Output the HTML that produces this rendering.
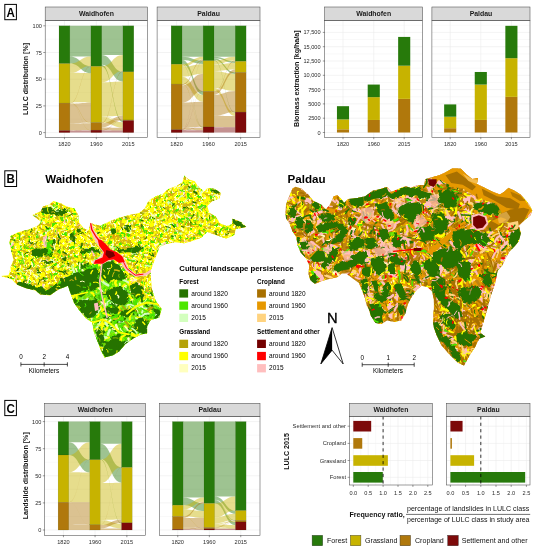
<!DOCTYPE html>
<html lang="en"><head><meta charset="utf-8"><title>Figure</title>
<style>html,body{margin:0;padding:0;background:#fff}svg{display:block}text{font-family:"Liberation Sans", sans-serif}</style>
</head><body>
<svg width="534" height="550" viewBox="0 0 534 550">
<rect width="534" height="550" fill="#ffffff"/>
<rect x="45.20" y="20.60" width="102.40" height="116.70" fill="#ffffff" /><line x1="45.20" y1="119.25" x2="147.60" y2="119.25" stroke="#ebebeb" stroke-width="0.3" /><line x1="45.20" y1="92.55" x2="147.60" y2="92.55" stroke="#ebebeb" stroke-width="0.3" /><line x1="45.20" y1="65.85" x2="147.60" y2="65.85" stroke="#ebebeb" stroke-width="0.3" /><line x1="45.20" y1="39.15" x2="147.60" y2="39.15" stroke="#ebebeb" stroke-width="0.3" /><line x1="45.20" y1="132.60" x2="147.60" y2="132.60" stroke="#ebebeb" stroke-width="0.6" /><line x1="45.20" y1="105.90" x2="147.60" y2="105.90" stroke="#ebebeb" stroke-width="0.6" /><line x1="45.20" y1="79.20" x2="147.60" y2="79.20" stroke="#ebebeb" stroke-width="0.6" /><line x1="45.20" y1="52.50" x2="147.60" y2="52.50" stroke="#ebebeb" stroke-width="0.6" /><line x1="45.20" y1="25.80" x2="147.60" y2="25.80" stroke="#ebebeb" stroke-width="0.6" /><line x1="64.45" y1="20.60" x2="64.45" y2="137.30" stroke="#ebebeb" stroke-width="0.6" /><line x1="96.35" y1="20.60" x2="96.35" y2="137.30" stroke="#ebebeb" stroke-width="0.6" /><line x1="128.35" y1="20.60" x2="128.35" y2="137.30" stroke="#ebebeb" stroke-width="0.6" /><rect x="157.10" y="20.60" width="102.90" height="116.70" fill="#ffffff" /><line x1="157.10" y1="119.25" x2="260.00" y2="119.25" stroke="#ebebeb" stroke-width="0.3" /><line x1="157.10" y1="92.55" x2="260.00" y2="92.55" stroke="#ebebeb" stroke-width="0.3" /><line x1="157.10" y1="65.85" x2="260.00" y2="65.85" stroke="#ebebeb" stroke-width="0.3" /><line x1="157.10" y1="39.15" x2="260.00" y2="39.15" stroke="#ebebeb" stroke-width="0.3" /><line x1="157.10" y1="132.60" x2="260.00" y2="132.60" stroke="#ebebeb" stroke-width="0.6" /><line x1="157.10" y1="105.90" x2="260.00" y2="105.90" stroke="#ebebeb" stroke-width="0.6" /><line x1="157.10" y1="79.20" x2="260.00" y2="79.20" stroke="#ebebeb" stroke-width="0.6" /><line x1="157.10" y1="52.50" x2="260.00" y2="52.50" stroke="#ebebeb" stroke-width="0.6" /><line x1="157.10" y1="25.80" x2="260.00" y2="25.80" stroke="#ebebeb" stroke-width="0.6" /><line x1="176.60" y1="20.60" x2="176.60" y2="137.30" stroke="#ebebeb" stroke-width="0.6" /><line x1="208.55" y1="20.60" x2="208.55" y2="137.30" stroke="#ebebeb" stroke-width="0.6" /><line x1="240.65" y1="20.60" x2="240.65" y2="137.30" stroke="#ebebeb" stroke-width="0.6" /><path d="M69.90,25.80 C80.40,25.80 80.40,25.80 90.90,25.80 L90.90,56.62 C80.40,56.62 80.40,56.62 69.90,56.62 Z" fill="#277a0b" fill-opacity="0.45"/><path d="M69.90,56.62 C80.40,56.62 80.40,66.38 90.90,66.38 L90.90,73.20 C80.40,73.20 80.40,63.44 69.90,63.44 Z" fill="#277a0b" fill-opacity="0.45"/><path d="M69.90,63.44 C80.40,63.44 80.40,122.56 90.90,122.56 L90.90,122.67 C80.40,122.67 80.40,63.55 69.90,63.55 Z" fill="#277a0b" fill-opacity="0.45"/><path d="M69.90,63.55 C80.40,63.55 80.40,130.14 90.90,130.14 L90.90,130.20 C80.40,130.20 80.40,63.61 69.90,63.61 Z" fill="#277a0b" fill-opacity="0.45"/><path d="M69.90,63.61 C80.40,63.61 80.40,56.62 90.90,56.62 L90.90,65.88 C80.40,65.88 80.40,72.86 69.90,72.86 Z" fill="#c7b300" fill-opacity="0.45"/><path d="M69.90,72.86 C80.40,72.86 80.40,73.20 90.90,73.20 L90.90,102.63 C80.40,102.63 80.40,102.30 69.90,102.30 Z" fill="#c7b300" fill-opacity="0.45"/><path d="M69.90,102.30 C80.40,102.30 80.40,122.67 90.90,122.67 L90.90,123.13 C80.40,123.13 80.40,102.76 69.90,102.76 Z" fill="#c7b300" fill-opacity="0.45"/><path d="M69.90,102.76 C80.40,102.76 80.40,130.20 90.90,130.20 L90.90,130.57 C80.40,130.57 80.40,103.12 69.90,103.12 Z" fill="#c7b300" fill-opacity="0.45"/><path d="M69.90,103.12 C80.40,103.12 80.40,65.88 90.90,65.88 L90.90,66.38 C80.40,66.38 80.40,103.63 69.90,103.63 Z" fill="#b0780c" fill-opacity="0.45"/><path d="M69.90,103.63 C80.40,103.63 80.40,102.63 90.90,102.63 L90.90,122.47 C80.40,122.47 80.40,123.47 69.90,123.47 Z" fill="#b0780c" fill-opacity="0.45"/><path d="M69.90,123.47 C80.40,123.47 80.40,123.13 90.90,123.13 L90.90,129.95 C80.40,129.95 80.40,130.29 69.90,130.29 Z" fill="#b0780c" fill-opacity="0.45"/><path d="M69.90,130.29 C80.40,130.29 80.40,130.57 90.90,130.57 L90.90,130.85 C80.40,130.85 80.40,130.57 69.90,130.57 Z" fill="#b0780c" fill-opacity="0.45"/><path d="M69.90,130.57 C80.40,130.57 80.40,122.47 90.90,122.47 L90.90,122.56 C80.40,122.56 80.40,130.66 69.90,130.66 Z" fill="#7d0a0a" fill-opacity="0.45"/><path d="M69.90,130.66 C80.40,130.66 80.40,129.95 90.90,129.95 L90.90,130.14 C80.40,130.14 80.40,130.85 69.90,130.85 Z" fill="#7d0a0a" fill-opacity="0.45"/><path d="M69.90,130.85 C80.40,130.85 80.40,130.85 90.90,130.85 L90.90,132.60 C80.40,132.60 80.40,132.60 69.90,132.60 Z" fill="#7d0a0a" fill-opacity="0.45"/><path d="M101.80,25.80 C112.35,25.80 112.35,25.80 122.90,25.80 L122.90,55.05 C112.35,55.05 112.35,55.05 101.80,55.05 Z" fill="#277a0b" fill-opacity="0.45"/><path d="M101.80,55.05 C112.35,55.05 112.35,71.83 122.90,71.83 L122.90,81.51 C112.35,81.51 112.35,64.73 101.80,64.73 Z" fill="#277a0b" fill-opacity="0.45"/><path d="M101.80,64.73 C112.35,64.73 112.35,120.00 122.90,120.00 L122.90,120.05 C112.35,120.05 112.35,64.79 101.80,64.79 Z" fill="#277a0b" fill-opacity="0.45"/><path d="M101.80,64.79 C112.35,64.79 112.35,120.53 122.90,120.53 L122.90,122.13 C112.35,122.13 112.35,66.38 101.80,66.38 Z" fill="#277a0b" fill-opacity="0.45"/><path d="M101.80,66.38 C112.35,66.38 112.35,55.05 122.90,55.05 L122.90,71.08 C112.35,71.08 112.35,82.41 101.80,82.41 Z" fill="#c7b300" fill-opacity="0.45"/><path d="M101.80,82.41 C112.35,82.41 112.35,81.51 122.90,81.51 L122.90,115.71 C112.35,115.71 112.35,116.62 101.80,116.62 Z" fill="#c7b300" fill-opacity="0.45"/><path d="M101.80,116.62 C112.35,116.62 112.35,120.05 122.90,120.05 L122.90,120.40 C112.35,120.40 112.35,116.96 101.80,116.96 Z" fill="#c7b300" fill-opacity="0.45"/><path d="M101.80,116.96 C112.35,116.96 112.35,122.13 122.90,122.13 L122.90,127.73 C112.35,127.73 112.35,122.56 101.80,122.56 Z" fill="#c7b300" fill-opacity="0.45"/><path d="M101.80,122.56 C112.35,122.56 112.35,71.08 122.90,71.08 L122.90,71.72 C112.35,71.72 112.35,123.20 101.80,123.20 Z" fill="#b0780c" fill-opacity="0.45"/><path d="M101.80,123.20 C112.35,123.20 112.35,115.71 122.90,115.71 L122.90,119.78 C112.35,119.78 112.35,127.27 101.80,127.27 Z" fill="#b0780c" fill-opacity="0.45"/><path d="M101.80,127.27 C112.35,127.27 112.35,120.40 122.90,120.40 L122.90,120.51 C112.35,120.51 112.35,127.39 101.80,127.39 Z" fill="#b0780c" fill-opacity="0.45"/><path d="M101.80,127.39 C112.35,127.39 112.35,127.73 122.90,127.73 L122.90,130.49 C112.35,130.49 112.35,130.14 101.80,130.14 Z" fill="#b0780c" fill-opacity="0.45"/><path d="M101.80,130.14 C112.35,130.14 112.35,71.72 122.90,71.72 L122.90,71.83 C112.35,71.83 112.35,130.25 101.80,130.25 Z" fill="#7d0a0a" fill-opacity="0.45"/><path d="M101.80,130.25 C112.35,130.25 112.35,119.78 122.90,119.78 L122.90,120.00 C112.35,120.00 112.35,130.46 101.80,130.46 Z" fill="#7d0a0a" fill-opacity="0.45"/><path d="M101.80,130.49 C112.35,130.49 112.35,130.49 122.90,130.49 L122.90,132.60 C112.35,132.60 112.35,132.60 101.80,132.60 Z" fill="#7d0a0a" fill-opacity="0.45"/><rect x="59.00" y="25.80" width="10.90" height="37.81" fill="#277a0b" stroke="#1f3d10" stroke-opacity="0.35" stroke-width="0.3"/><rect x="59.00" y="63.61" width="10.90" height="39.52" fill="#c7b300" stroke="#1f3d10" stroke-opacity="0.35" stroke-width="0.3"/><rect x="59.00" y="103.12" width="10.90" height="27.45" fill="#b0780c" stroke="#1f3d10" stroke-opacity="0.35" stroke-width="0.3"/><rect x="59.00" y="130.57" width="10.90" height="2.03" fill="#7d0a0a" stroke="#1f3d10" stroke-opacity="0.35" stroke-width="0.3"/><rect x="90.90" y="25.80" width="10.90" height="40.58" fill="#277a0b" stroke="#1f3d10" stroke-opacity="0.35" stroke-width="0.3"/><rect x="90.90" y="66.38" width="10.90" height="56.18" fill="#c7b300" stroke="#1f3d10" stroke-opacity="0.35" stroke-width="0.3"/><rect x="90.90" y="122.56" width="10.90" height="7.58" fill="#b0780c" stroke="#1f3d10" stroke-opacity="0.35" stroke-width="0.3"/><rect x="90.90" y="130.14" width="10.90" height="2.46" fill="#7d0a0a" stroke="#1f3d10" stroke-opacity="0.35" stroke-width="0.3"/><rect x="122.90" y="25.80" width="10.90" height="46.03" fill="#277a0b" stroke="#1f3d10" stroke-opacity="0.35" stroke-width="0.3"/><rect x="122.90" y="71.83" width="10.90" height="48.17" fill="#c7b300" stroke="#1f3d10" stroke-opacity="0.35" stroke-width="0.3"/><rect x="122.90" y="120.00" width="10.90" height="0.53" fill="#b0780c" stroke="#1f3d10" stroke-opacity="0.35" stroke-width="0.3"/><rect x="122.90" y="120.53" width="10.90" height="12.07" fill="#7d0a0a" stroke="#1f3d10" stroke-opacity="0.35" stroke-width="0.3"/><path d="M182.05,25.80 C192.57,25.80 192.57,25.80 203.10,25.80 L203.10,56.84 C192.57,56.84 192.57,56.84 182.05,56.84 Z" fill="#277a0b" fill-opacity="0.45"/><path d="M182.05,56.84 C192.57,56.84 192.57,60.72 203.10,60.72 L203.10,63.94 C192.57,63.94 192.57,60.06 182.05,60.06 Z" fill="#277a0b" fill-opacity="0.45"/><path d="M182.05,60.06 C192.57,60.06 192.57,91.27 203.10,91.27 L203.10,94.93 C192.57,94.93 192.57,63.72 182.05,63.72 Z" fill="#277a0b" fill-opacity="0.45"/><path d="M182.05,63.72 C192.57,63.72 192.57,126.94 203.10,126.94 L203.10,127.47 C192.57,127.47 192.57,64.25 182.05,64.25 Z" fill="#277a0b" fill-opacity="0.45"/><path d="M182.05,64.25 C192.57,64.25 192.57,56.84 203.10,56.84 L203.10,59.53 C192.57,59.53 192.57,66.94 182.05,66.94 Z" fill="#c7b300" fill-opacity="0.45"/><path d="M182.05,66.94 C192.57,66.94 192.57,63.94 203.10,63.94 L203.10,73.64 C192.57,73.64 192.57,76.64 182.05,76.64 Z" fill="#c7b300" fill-opacity="0.45"/><path d="M182.05,76.64 C192.57,76.64 192.57,94.93 203.10,94.93 L203.10,101.77 C192.57,101.77 192.57,83.48 182.05,83.48 Z" fill="#c7b300" fill-opacity="0.45"/><path d="M182.05,83.48 C192.57,83.48 192.57,127.47 203.10,127.47 L203.10,128.11 C192.57,128.11 192.57,84.11 182.05,84.11 Z" fill="#c7b300" fill-opacity="0.45"/><path d="M182.05,84.11 C192.57,84.11 192.57,59.53 203.10,59.53 L203.10,60.62 C192.57,60.62 192.57,85.20 182.05,85.20 Z" fill="#b0780c" fill-opacity="0.45"/><path d="M182.05,85.20 C192.57,85.20 192.57,73.64 203.10,73.64 L203.10,91.05 C192.57,91.05 192.57,102.61 182.05,102.61 Z" fill="#b0780c" fill-opacity="0.45"/><path d="M182.05,102.61 C192.57,102.61 192.57,101.77 203.10,101.77 L203.10,126.73 C192.57,126.73 192.57,127.57 182.05,127.57 Z" fill="#b0780c" fill-opacity="0.45"/><path d="M182.05,127.57 C192.57,127.57 192.57,128.11 203.10,128.11 L203.10,130.25 C192.57,130.25 192.57,129.72 182.05,129.72 Z" fill="#b0780c" fill-opacity="0.45"/><path d="M182.05,129.72 C192.57,129.72 192.57,60.62 203.10,60.62 L203.10,60.72 C192.57,60.72 192.57,129.82 182.05,129.82 Z" fill="#7d0a0a" fill-opacity="0.45"/><path d="M182.05,129.82 C192.57,129.82 192.57,91.05 203.10,91.05 L203.10,91.27 C192.57,91.27 192.57,130.04 182.05,130.04 Z" fill="#7d0a0a" fill-opacity="0.45"/><path d="M182.05,130.04 C192.57,130.04 192.57,126.73 203.10,126.73 L203.10,126.94 C192.57,126.94 192.57,130.25 182.05,130.25 Z" fill="#7d0a0a" fill-opacity="0.45"/><path d="M182.05,130.25 C192.57,130.25 192.57,130.25 203.10,130.25 L203.10,132.60 C192.57,132.60 192.57,132.60 182.05,132.60 Z" fill="#7d0a0a" fill-opacity="0.45"/><path d="M214.00,25.80 C224.60,25.80 224.60,25.80 235.20,25.80 L235.20,56.73 C224.60,56.73 224.60,56.73 214.00,56.73 Z" fill="#277a0b" fill-opacity="0.45"/><path d="M214.00,56.73 C224.60,56.73 224.60,61.36 235.20,61.36 L235.20,63.00 C224.60,63.00 224.60,58.37 214.00,58.37 Z" fill="#277a0b" fill-opacity="0.45"/><path d="M214.00,58.37 C224.60,58.37 224.60,72.36 235.20,72.36 L235.20,73.97 C224.60,73.97 224.60,59.97 214.00,59.97 Z" fill="#277a0b" fill-opacity="0.45"/><path d="M214.00,59.97 C224.60,59.97 224.60,112.09 235.20,112.09 L235.20,112.85 C224.60,112.85 224.60,60.72 214.00,60.72 Z" fill="#277a0b" fill-opacity="0.45"/><path d="M214.00,60.72 C224.60,60.72 224.60,56.73 235.20,56.73 L235.20,60.46 C224.60,60.46 224.60,64.45 214.00,64.45 Z" fill="#c7b300" fill-opacity="0.45"/><path d="M214.00,64.45 C224.60,64.45 224.60,63.00 235.20,63.00 L235.20,69.53 C224.60,69.53 224.60,70.98 214.00,70.98 Z" fill="#c7b300" fill-opacity="0.45"/><path d="M214.00,70.98 C224.60,70.98 224.60,73.97 235.20,73.97 L235.20,91.04 C224.60,91.04 224.60,88.06 214.00,88.06 Z" fill="#c7b300" fill-opacity="0.45"/><path d="M214.00,88.06 C224.60,88.06 224.60,112.85 235.20,112.85 L235.20,116.06 C224.60,116.06 224.60,91.27 214.00,91.27 Z" fill="#c7b300" fill-opacity="0.45"/><path d="M214.00,91.27 C224.60,91.27 224.60,60.46 235.20,60.46 L235.20,61.31 C224.60,61.31 224.60,92.12 214.00,92.12 Z" fill="#b0780c" fill-opacity="0.45"/><path d="M214.00,92.12 C224.60,92.12 224.60,69.53 235.20,69.53 L235.20,72.26 C224.60,72.26 224.60,94.85 214.00,94.85 Z" fill="#b0780c" fill-opacity="0.45"/><path d="M214.00,94.85 C224.60,94.85 224.60,91.04 235.20,91.04 L235.20,111.88 C224.60,111.88 224.60,115.69 214.00,115.69 Z" fill="#b0780c" fill-opacity="0.45"/><path d="M214.00,115.69 C224.60,115.69 224.60,116.06 235.20,116.06 L235.20,127.31 C224.60,127.31 224.60,126.94 214.00,126.94 Z" fill="#b0780c" fill-opacity="0.45"/><path d="M214.00,126.99 C224.60,126.99 224.60,72.26 235.20,72.26 L235.20,72.36 C224.60,72.36 224.60,127.10 214.00,127.10 Z" fill="#7d0a0a" fill-opacity="0.45"/><path d="M214.00,127.10 C224.60,127.10 224.60,111.88 235.20,111.88 L235.20,112.09 C224.60,112.09 224.60,127.31 214.00,127.31 Z" fill="#7d0a0a" fill-opacity="0.45"/><path d="M214.00,127.31 C224.60,127.31 224.60,127.31 235.20,127.31 L235.20,132.60 C224.60,132.60 224.60,132.60 214.00,132.60 Z" fill="#7d0a0a" fill-opacity="0.45"/><rect x="171.15" y="25.80" width="10.90" height="38.45" fill="#277a0b" stroke="#1f3d10" stroke-opacity="0.35" stroke-width="0.3"/><rect x="171.15" y="64.25" width="10.90" height="19.86" fill="#c7b300" stroke="#1f3d10" stroke-opacity="0.35" stroke-width="0.3"/><rect x="171.15" y="84.11" width="10.90" height="45.60" fill="#b0780c" stroke="#1f3d10" stroke-opacity="0.35" stroke-width="0.3"/><rect x="171.15" y="129.72" width="10.90" height="2.88" fill="#7d0a0a" stroke="#1f3d10" stroke-opacity="0.35" stroke-width="0.3"/><rect x="203.10" y="25.80" width="10.90" height="34.92" fill="#277a0b" stroke="#1f3d10" stroke-opacity="0.35" stroke-width="0.3"/><rect x="203.10" y="60.72" width="10.90" height="30.54" fill="#c7b300" stroke="#1f3d10" stroke-opacity="0.35" stroke-width="0.3"/><rect x="203.10" y="91.27" width="10.90" height="35.67" fill="#b0780c" stroke="#1f3d10" stroke-opacity="0.35" stroke-width="0.3"/><rect x="203.10" y="126.94" width="10.90" height="5.66" fill="#7d0a0a" stroke="#1f3d10" stroke-opacity="0.35" stroke-width="0.3"/><rect x="235.20" y="25.80" width="10.90" height="35.56" fill="#277a0b" stroke="#1f3d10" stroke-opacity="0.35" stroke-width="0.3"/><rect x="235.20" y="61.36" width="10.90" height="11.00" fill="#c7b300" stroke="#1f3d10" stroke-opacity="0.35" stroke-width="0.3"/><rect x="235.20" y="72.36" width="10.90" height="39.73" fill="#b0780c" stroke="#1f3d10" stroke-opacity="0.35" stroke-width="0.3"/><rect x="235.20" y="112.09" width="10.90" height="20.51" fill="#7d0a0a" stroke="#1f3d10" stroke-opacity="0.35" stroke-width="0.3"/><rect x="45.20" y="7.00" width="102.40" height="13.60" fill="#d9d9d9" stroke="#4d4d4d" stroke-width="0.55"/><rect x="45.20" y="20.60" width="102.40" height="116.70" fill="none" stroke="#4d4d4d" stroke-width="0.55"/><text x="96.40" y="16.30" font-size="6.9" text-anchor="middle" font-weight="bold" fill="#1a1a1a" >Waidhofen</text><rect x="157.10" y="7.00" width="102.90" height="13.60" fill="#d9d9d9" stroke="#4d4d4d" stroke-width="0.55"/><rect x="157.10" y="20.60" width="102.90" height="116.70" fill="none" stroke="#4d4d4d" stroke-width="0.55"/><text x="208.55" y="16.30" font-size="6.9" text-anchor="middle" font-weight="bold" fill="#1a1a1a" >Paldau</text><line x1="64.45" y1="137.30" x2="64.45" y2="139.20" stroke="#333333" stroke-width="0.5" /><text x="64.45" y="145.70" font-size="5.6" text-anchor="middle" font-weight="normal" fill="#2b2b2b" >1820</text><line x1="96.35" y1="137.30" x2="96.35" y2="139.20" stroke="#333333" stroke-width="0.5" /><text x="96.35" y="145.70" font-size="5.6" text-anchor="middle" font-weight="normal" fill="#2b2b2b" >1960</text><line x1="128.35" y1="137.30" x2="128.35" y2="139.20" stroke="#333333" stroke-width="0.5" /><text x="128.35" y="145.70" font-size="5.6" text-anchor="middle" font-weight="normal" fill="#2b2b2b" >2015</text><line x1="176.60" y1="137.30" x2="176.60" y2="139.20" stroke="#333333" stroke-width="0.5" /><text x="176.60" y="145.70" font-size="5.6" text-anchor="middle" font-weight="normal" fill="#2b2b2b" >1820</text><line x1="208.55" y1="137.30" x2="208.55" y2="139.20" stroke="#333333" stroke-width="0.5" /><text x="208.55" y="145.70" font-size="5.6" text-anchor="middle" font-weight="normal" fill="#2b2b2b" >1960</text><line x1="240.65" y1="137.30" x2="240.65" y2="139.20" stroke="#333333" stroke-width="0.5" /><text x="240.65" y="145.70" font-size="5.6" text-anchor="middle" font-weight="normal" fill="#2b2b2b" >2015</text><line x1="43.30" y1="132.60" x2="45.20" y2="132.60" stroke="#333333" stroke-width="0.5" /><text x="41.90" y="134.60" font-size="5.6" text-anchor="end" font-weight="normal" fill="#2b2b2b" >0</text><line x1="43.30" y1="105.90" x2="45.20" y2="105.90" stroke="#333333" stroke-width="0.5" /><text x="41.90" y="107.90" font-size="5.6" text-anchor="end" font-weight="normal" fill="#2b2b2b" >25</text><line x1="43.30" y1="79.20" x2="45.20" y2="79.20" stroke="#333333" stroke-width="0.5" /><text x="41.90" y="81.20" font-size="5.6" text-anchor="end" font-weight="normal" fill="#2b2b2b" >50</text><line x1="43.30" y1="52.50" x2="45.20" y2="52.50" stroke="#333333" stroke-width="0.5" /><text x="41.90" y="54.50" font-size="5.6" text-anchor="end" font-weight="normal" fill="#2b2b2b" >75</text><line x1="43.30" y1="25.80" x2="45.20" y2="25.80" stroke="#333333" stroke-width="0.5" /><text x="41.90" y="27.80" font-size="5.6" text-anchor="end" font-weight="normal" fill="#2b2b2b" >100</text><text transform="translate(28.40,79.00) rotate(-90)" font-size="7.0" font-weight="bold" text-anchor="middle" fill="#111">LULC distribution [%]</text><rect x="4.80" y="4.40" width="11.60" height="15.30" fill="#ffffff" stroke="#000" stroke-width="1"/><text transform="translate(10.60,16.60) scale(0.93,1)" font-size="12.4" font-weight="bold" text-anchor="middle" fill="#000">A</text><rect x="324.70" y="20.60" width="97.90" height="116.70" fill="#ffffff" /><line x1="324.70" y1="125.35" x2="422.60" y2="125.35" stroke="#ebebeb" stroke-width="0.3" /><line x1="324.70" y1="111.05" x2="422.60" y2="111.05" stroke="#ebebeb" stroke-width="0.3" /><line x1="324.70" y1="96.75" x2="422.60" y2="96.75" stroke="#ebebeb" stroke-width="0.3" /><line x1="324.70" y1="82.45" x2="422.60" y2="82.45" stroke="#ebebeb" stroke-width="0.3" /><line x1="324.70" y1="68.15" x2="422.60" y2="68.15" stroke="#ebebeb" stroke-width="0.3" /><line x1="324.70" y1="53.85" x2="422.60" y2="53.85" stroke="#ebebeb" stroke-width="0.3" /><line x1="324.70" y1="39.55" x2="422.60" y2="39.55" stroke="#ebebeb" stroke-width="0.3" /><line x1="324.70" y1="25.25" x2="422.60" y2="25.25" stroke="#ebebeb" stroke-width="0.3" /><line x1="324.70" y1="132.50" x2="422.60" y2="132.50" stroke="#ebebeb" stroke-width="0.6" /><line x1="324.70" y1="118.20" x2="422.60" y2="118.20" stroke="#ebebeb" stroke-width="0.6" /><line x1="324.70" y1="103.90" x2="422.60" y2="103.90" stroke="#ebebeb" stroke-width="0.6" /><line x1="324.70" y1="89.60" x2="422.60" y2="89.60" stroke="#ebebeb" stroke-width="0.6" /><line x1="324.70" y1="75.30" x2="422.60" y2="75.30" stroke="#ebebeb" stroke-width="0.6" /><line x1="324.70" y1="61.00" x2="422.60" y2="61.00" stroke="#ebebeb" stroke-width="0.6" /><line x1="324.70" y1="46.70" x2="422.60" y2="46.70" stroke="#ebebeb" stroke-width="0.6" /><line x1="324.70" y1="32.40" x2="422.60" y2="32.40" stroke="#ebebeb" stroke-width="0.6" /><line x1="343.00" y1="20.60" x2="343.00" y2="137.30" stroke="#ebebeb" stroke-width="0.6" /><line x1="373.75" y1="20.60" x2="373.75" y2="137.30" stroke="#ebebeb" stroke-width="0.6" /><line x1="404.20" y1="20.60" x2="404.20" y2="137.30" stroke="#ebebeb" stroke-width="0.6" /><rect x="431.90" y="20.60" width="98.10" height="116.70" fill="#ffffff" /><line x1="431.90" y1="125.35" x2="530.00" y2="125.35" stroke="#ebebeb" stroke-width="0.3" /><line x1="431.90" y1="111.05" x2="530.00" y2="111.05" stroke="#ebebeb" stroke-width="0.3" /><line x1="431.90" y1="96.75" x2="530.00" y2="96.75" stroke="#ebebeb" stroke-width="0.3" /><line x1="431.90" y1="82.45" x2="530.00" y2="82.45" stroke="#ebebeb" stroke-width="0.3" /><line x1="431.90" y1="68.15" x2="530.00" y2="68.15" stroke="#ebebeb" stroke-width="0.3" /><line x1="431.90" y1="53.85" x2="530.00" y2="53.85" stroke="#ebebeb" stroke-width="0.3" /><line x1="431.90" y1="39.55" x2="530.00" y2="39.55" stroke="#ebebeb" stroke-width="0.3" /><line x1="431.90" y1="25.25" x2="530.00" y2="25.25" stroke="#ebebeb" stroke-width="0.3" /><line x1="431.90" y1="132.50" x2="530.00" y2="132.50" stroke="#ebebeb" stroke-width="0.6" /><line x1="431.90" y1="118.20" x2="530.00" y2="118.20" stroke="#ebebeb" stroke-width="0.6" /><line x1="431.90" y1="103.90" x2="530.00" y2="103.90" stroke="#ebebeb" stroke-width="0.6" /><line x1="431.90" y1="89.60" x2="530.00" y2="89.60" stroke="#ebebeb" stroke-width="0.6" /><line x1="431.90" y1="75.30" x2="530.00" y2="75.30" stroke="#ebebeb" stroke-width="0.6" /><line x1="431.90" y1="61.00" x2="530.00" y2="61.00" stroke="#ebebeb" stroke-width="0.6" /><line x1="431.90" y1="46.70" x2="530.00" y2="46.70" stroke="#ebebeb" stroke-width="0.6" /><line x1="431.90" y1="32.40" x2="530.00" y2="32.40" stroke="#ebebeb" stroke-width="0.6" /><line x1="450.20" y1="20.60" x2="450.20" y2="137.30" stroke="#ebebeb" stroke-width="0.6" /><line x1="480.80" y1="20.60" x2="480.80" y2="137.30" stroke="#ebebeb" stroke-width="0.6" /><line x1="511.40" y1="20.60" x2="511.40" y2="137.30" stroke="#ebebeb" stroke-width="0.6" /><rect x="336.95" y="129.30" width="12.10" height="3.20" fill="#b0780c" /><rect x="336.95" y="119.40" width="12.10" height="9.90" fill="#c7b300" /><rect x="336.95" y="106.19" width="12.10" height="13.21" fill="#277a0b" /><rect x="367.70" y="119.97" width="12.10" height="12.53" fill="#b0780c" /><rect x="367.70" y="97.15" width="12.10" height="22.82" fill="#c7b300" /><rect x="367.70" y="84.57" width="12.10" height="12.58" fill="#277a0b" /><rect x="398.15" y="98.87" width="12.10" height="33.63" fill="#b0780c" /><rect x="398.15" y="65.69" width="12.10" height="33.18" fill="#c7b300" /><rect x="398.15" y="36.92" width="12.10" height="28.77" fill="#277a0b" /><rect x="444.15" y="128.21" width="12.10" height="4.29" fill="#b0780c" /><rect x="444.15" y="116.71" width="12.10" height="11.50" fill="#c7b300" /><rect x="444.15" y="104.41" width="12.10" height="12.30" fill="#277a0b" /><rect x="474.75" y="119.92" width="12.10" height="12.58" fill="#b0780c" /><rect x="474.75" y="84.57" width="12.10" height="35.35" fill="#c7b300" /><rect x="474.75" y="71.98" width="12.10" height="12.58" fill="#277a0b" /><rect x="505.35" y="96.86" width="12.10" height="35.64" fill="#b0780c" /><rect x="505.35" y="58.20" width="12.10" height="38.67" fill="#c7b300" /><rect x="505.35" y="25.82" width="12.10" height="32.38" fill="#277a0b" /><rect x="324.70" y="7.00" width="97.90" height="13.60" fill="#d9d9d9" stroke="#4d4d4d" stroke-width="0.55"/><rect x="324.70" y="20.60" width="97.90" height="116.70" fill="none" stroke="#4d4d4d" stroke-width="0.55"/><text x="373.65" y="16.30" font-size="6.9" text-anchor="middle" font-weight="bold" fill="#1a1a1a" >Waidhofen</text><rect x="431.90" y="7.00" width="98.10" height="13.60" fill="#d9d9d9" stroke="#4d4d4d" stroke-width="0.55"/><rect x="431.90" y="20.60" width="98.10" height="116.70" fill="none" stroke="#4d4d4d" stroke-width="0.55"/><text x="480.95" y="16.30" font-size="6.9" text-anchor="middle" font-weight="bold" fill="#1a1a1a" >Paldau</text><line x1="343.00" y1="137.30" x2="343.00" y2="139.20" stroke="#333333" stroke-width="0.5" /><text x="343.00" y="145.70" font-size="5.6" text-anchor="middle" font-weight="normal" fill="#2b2b2b" >1820</text><line x1="373.75" y1="137.30" x2="373.75" y2="139.20" stroke="#333333" stroke-width="0.5" /><text x="373.75" y="145.70" font-size="5.6" text-anchor="middle" font-weight="normal" fill="#2b2b2b" >1960</text><line x1="404.20" y1="137.30" x2="404.20" y2="139.20" stroke="#333333" stroke-width="0.5" /><text x="404.20" y="145.70" font-size="5.6" text-anchor="middle" font-weight="normal" fill="#2b2b2b" >2015</text><line x1="450.20" y1="137.30" x2="450.20" y2="139.20" stroke="#333333" stroke-width="0.5" /><text x="450.20" y="145.70" font-size="5.6" text-anchor="middle" font-weight="normal" fill="#2b2b2b" >1820</text><line x1="480.80" y1="137.30" x2="480.80" y2="139.20" stroke="#333333" stroke-width="0.5" /><text x="480.80" y="145.70" font-size="5.6" text-anchor="middle" font-weight="normal" fill="#2b2b2b" >1960</text><line x1="511.40" y1="137.30" x2="511.40" y2="139.20" stroke="#333333" stroke-width="0.5" /><text x="511.40" y="145.70" font-size="5.6" text-anchor="middle" font-weight="normal" fill="#2b2b2b" >2015</text><line x1="322.80" y1="132.50" x2="324.70" y2="132.50" stroke="#333333" stroke-width="0.5" /><text x="320.60" y="134.50" font-size="5.6" text-anchor="end" font-weight="normal" fill="#2b2b2b" >0</text><line x1="322.80" y1="118.20" x2="324.70" y2="118.20" stroke="#333333" stroke-width="0.5" /><text x="320.60" y="120.20" font-size="5.6" text-anchor="end" font-weight="normal" fill="#2b2b2b" >2500</text><line x1="322.80" y1="103.90" x2="324.70" y2="103.90" stroke="#333333" stroke-width="0.5" /><text x="320.60" y="105.90" font-size="5.6" text-anchor="end" font-weight="normal" fill="#2b2b2b" >5000</text><line x1="322.80" y1="89.60" x2="324.70" y2="89.60" stroke="#333333" stroke-width="0.5" /><text x="320.60" y="91.60" font-size="5.6" text-anchor="end" font-weight="normal" fill="#2b2b2b" >7500</text><line x1="322.80" y1="75.30" x2="324.70" y2="75.30" stroke="#333333" stroke-width="0.5" /><text x="320.60" y="77.30" font-size="5.6" text-anchor="end" font-weight="normal" fill="#2b2b2b" >10,000</text><line x1="322.80" y1="61.00" x2="324.70" y2="61.00" stroke="#333333" stroke-width="0.5" /><text x="320.60" y="63.00" font-size="5.6" text-anchor="end" font-weight="normal" fill="#2b2b2b" >12,500</text><line x1="322.80" y1="46.70" x2="324.70" y2="46.70" stroke="#333333" stroke-width="0.5" /><text x="320.60" y="48.70" font-size="5.6" text-anchor="end" font-weight="normal" fill="#2b2b2b" >15,000</text><line x1="322.80" y1="32.40" x2="324.70" y2="32.40" stroke="#333333" stroke-width="0.5" /><text x="320.60" y="34.40" font-size="5.6" text-anchor="end" font-weight="normal" fill="#2b2b2b" >17,500</text><text transform="translate(298.70,78.70) rotate(-90)" font-size="7.1" font-weight="bold" text-anchor="middle" fill="#111">Biomass extraction [kg/ha/a]</text><defs><clipPath id="wclip"><polygon points="1.0,276.1 8.6,275.2 10.5,267.5 13.4,259.9 11.5,252.3 9.5,242.7 10.5,236.0 18.1,232.2 28.6,229.4 38.2,225.5 41.0,221.7 32.4,215.0 41.0,211.2 42.9,206.5 49.6,204.5 53.4,201.1 61.1,203.6 66.8,206.5 74.4,208.4 78.2,215.0 79.2,222.7 84.0,228.4 88.7,230.3 90.5,222.7 94.3,224.6 101.0,225.5 108.6,221.7 118.2,217.9 129.6,215.0 139.2,213.1 144.9,208.4 147.7,202.6 150.0,199.4 155.7,196.5 163.4,193.6 168.1,188.9 176.7,186.0 182.4,182.2 184.4,175.5 188.2,179.3 194.8,181.2 197.7,186.0 204.4,191.7 207.3,187.9 214.9,188.9 220.6,192.7 219.7,198.4 212.0,201.3 207.3,206.0 209.2,212.7 215.8,216.5 219.7,223.2 226.3,226.1 232.1,224.2 232.1,218.4 236.8,220.3 241.6,222.3 246.4,227.0 241.6,228.0 235.9,228.9 234.0,235.6 226.3,238.5 214.9,234.7 207.3,231.8 201.5,237.5 193.9,240.4 184.4,243.2 174.8,242.3 165.3,244.2 159.5,247.1 156.7,254.7 153.8,262.3 151.0,270.0 150.8,277.3 152.0,289.5 155.6,300.4 161.7,308.9 159.3,317.5 150.8,319.9 147.1,326.0 147.1,333.3 141.0,334.5 133.7,338.2 125.2,344.2 119.1,351.5 113.0,355.2 104.5,357.6 100.9,350.3 97.2,340.6 93.6,330.9 92.3,322.3 86.3,318.7 80.2,311.4 74.1,302.9 70.4,293.1 68.0,285.8 58.3,289.5 49.7,295.6 40.0,294.3 35.3,290.4 26.7,288.5 17.2,284.7 11.5,279.0" fill="#000" /></clipPath><clipPath id="pclip"><polygon points="295.5,186.7 301.2,188.6 307.9,194.3 313.6,201.0 321.3,204.8 326.0,209.6 329.8,204.8 333.7,196.2 337.5,195.3 341.3,199.1 344.2,202.9 348.0,199.1 357.5,198.1 365.2,196.2 372.6,190.8 380.3,188.9 386.9,186.9 391.7,191.7 398.4,188.9 406.0,186.0 410.8,187.9 417.5,185.0 424.2,185.0 425.1,179.3 430.8,177.4 438.5,175.5 445.2,172.6 452.1,168.6 460.7,168.6 466.4,174.3 472.2,179.1 477.9,178.1 476.9,183.9 484.6,187.7 492.2,191.5 499.8,194.4 504.6,191.5 508.4,187.7 514.2,190.5 520.8,194.4 524.7,199.1 529.4,204.8 532.3,210.6 530.4,215.3 523.7,221.1 518.9,225.8 520.8,233.5 518.9,241.1 514.2,246.8 509.4,251.6 505.6,258.3 502.7,265.0 497.5,271.0 495.4,282.5 491.0,295.0 486.6,311.4 482.8,324.0 480.3,332.7 485.3,336.5 479.0,339.0 475.3,346.5 469.0,356.6 464.0,365.4 457.7,362.8 450.2,355.3 441.4,345.3 436.8,335.4 433.9,327.8 433.0,318.2 433.9,308.7 433.9,299.2 432.0,291.5 427.3,286.8 421.5,285.8 416.8,289.6 411.5,297.3 407.6,304.9 405.4,313.5 401.4,320.2 394.7,322.1 387.1,320.5 381.4,324.0 375.6,323.0 371.0,316.3 368.5,308.7 366.6,304.9 364.7,297.3 361.8,289.6 358.9,282.9 352.3,278.2 346.5,273.4 341.8,273.4 337.0,277.2 329.4,279.1 321.7,281.0 315.0,283.9 310.3,280.1 308.4,273.4 309.3,265.8 306.5,259.1 300.7,252.4 297.4,244.9 296.5,237.3 292.6,231.5 289.8,223.9 286.0,218.2 285.5,212.4 286.0,204.8 288.8,197.2 292.6,188.6" fill="#000" /></clipPath><filter id="w_g3" x="0" y="0" width="1" height="1" color-interpolation-filters="sRGB"><feTurbulence type="fractalNoise" baseFrequency="0.35" numOctaves="2" seed="3"/><feColorMatrix type="matrix" values="0 0 0 0 1.000 0 0 0 0 1.000 0 0 0 0 0.745 30 0 0 0 -16.80"/></filter><filter id="w_g1" x="0" y="0" width="1" height="1" color-interpolation-filters="sRGB"><feTurbulence type="fractalNoise" baseFrequency="0.3" numOctaves="2" seed="11"/><feColorMatrix type="matrix" values="0 0 0 0 0.824 0 0 0 0 0.722 0 0 0 0 0.071 30 0 0 0 -16.65"/></filter><filter id="w_f2" x="0" y="0" width="1" height="1" color-interpolation-filters="sRGB"><feTurbulence type="fractalNoise" baseFrequency="0.22" numOctaves="2" seed="5"/><feColorMatrix type="matrix" values="0 0 0 0 0.298 0 0 0 0 0.902 0 0 0 0 0.000 30 0 0 0 -19.20"/></filter><filter id="w_f3" x="0" y="0" width="1" height="1" color-interpolation-filters="sRGB"><feTurbulence type="fractalNoise" baseFrequency="0.25" numOctaves="2" seed="8"/><feColorMatrix type="matrix" values="0 0 0 0 0.827 0 0 0 0 1.000 0 0 0 0 0.745 30 0 0 0 -19.20"/></filter><filter id="p_c2" x="0" y="0" width="1" height="1" color-interpolation-filters="sRGB"><feTurbulence type="fractalNoise" baseFrequency="0.12" numOctaves="2" seed="4"/><feColorMatrix type="matrix" values="0 0 0 0 0.902 0 0 0 0 0.596 0 0 0 0 0.000 30 0 0 0 -16.50"/></filter><filter id="p_s3" x="0" y="0" width="1" height="1" color-interpolation-filters="sRGB"><feTurbulence type="fractalNoise" baseFrequency="0.08" numOctaves="2" seed="9"/><feColorMatrix type="matrix" values="0 0 0 0 1.000 0 0 0 0 0.745 0 0 0 0 0.745 30 0 0 0 -17.10"/></filter><filter id="p_g2" x="0" y="0" width="1" height="1" color-interpolation-filters="sRGB"><feTurbulence type="fractalNoise" baseFrequency="0.3" numOctaves="2" seed="2"/><feColorMatrix type="matrix" values="0 0 0 0 1.000 0 0 0 0 1.000 0 0 0 0 0.000 30 0 0 0 -18.90"/></filter><filter id="p_f1" x="0" y="0" width="1" height="1" color-interpolation-filters="sRGB"><feTurbulence type="fractalNoise" baseFrequency="0.07" numOctaves="2" seed="7"/><feColorMatrix type="matrix" values="0 0 0 0 0.149 0 0 0 0 0.451 0 0 0 0 0.000 30 0 0 0 -16.80"/></filter><filter id="rough" x="-0.02" y="-0.02" width="1.04" height="1.04"><feTurbulence type="fractalNoise" baseFrequency="0.18" numOctaves="2" seed="6" result="t"/><feDisplacementMap in="SourceGraphic" in2="t" scale="5" xChannelSelector="R" yChannelSelector="G"/></filter></defs><g clip-path="url(#wclip)"><rect x="0.00" y="170.00" width="250.00" height="195.00" fill="#ffff00" /><rect x="0" y="170" width="250" height="195" filter="url(#w_g3)"/><rect x="0" y="170" width="250" height="195" filter="url(#w_g1)"/><rect x="0" y="170" width="250" height="195" filter="url(#w_f2)"/><path d="M152.0,317.9L150.2,316.9L148.2,316.7M206.0,213.1L207.7,214.1L209.6,214.3M155.6,231.5L157.4,232.1L158.1,233.9M66.5,214.5L68.0,215.7L69.8,215.8M97.8,340.4L95.6,341.8L93.4,343.3M121.4,243.1L120.5,241.2L120.3,239.0M91.9,258.6L90.2,258.4L88.8,259.3M24.9,246.1L24.1,247.1L24.3,248.4M213.4,191.8L213.7,189.6L212.5,187.8M109.7,347.0L111.7,345.1L114.0,343.6M196.7,204.9L196.7,207.3L196.5,209.8M82.9,282.6L81.7,281.8L81.1,280.6M183.0,242.5L183.9,244.2L183.2,246.0M105.6,241.1L104.1,241.3L103.3,242.6M76.2,257.7L74.2,258.1L72.7,259.4M199.9,229.1L198.5,230.7L198.7,232.8M142.2,249.2L141.2,250.3L139.7,250.6M22.8,246.3L24.5,246.4L26.1,246.9M123.9,256.9L122.0,258.9L121.0,261.4M41.1,217.3L39.5,216.0L39.5,213.9M14.2,255.8L13.4,258.1L11.8,259.9M106.8,266.8L107.0,268.7L106.2,270.3M40.2,259.5L39.3,258.7L38.2,258.4M28.7,241.6L27.6,244.0L25.8,246.0M80.2,274.9L78.9,273.8L77.8,272.4M144.9,289.4L146.3,289.5L147.8,289.7M53.2,287.1L51.4,287.9L50.0,289.3M129.5,251.6L130.8,253.1L132.1,254.6M45.0,217.6L43.7,216.3L42.5,214.8M130.6,223.2L131.6,225.1L131.9,227.2M145.4,298.3L144.8,295.9L142.8,294.4M99.5,274.8L98.8,272.5L99.8,270.2M20.2,243.3L18.6,242.1L18.2,240.2M183.7,232.7L182.0,231.9L181.3,230.2M139.1,251.8L138.7,254.3L137.6,256.5M18.4,272.7L17.0,273.4L16.6,274.9M156.0,233.4L156.8,236.1L159.1,237.6M93.8,269.1L94.1,271.2L95.9,272.2M95.4,297.8L96.3,299.0L96.3,300.4M138.6,286.6L138.3,284.3L138.0,282.1M101.5,342.4L99.8,342.2L98.1,342.6M107.3,311.4L107.4,314.0L108.9,316.1M178.8,215.9L180.1,216.0L181.2,216.7M39.6,257.5L41.8,256.4L44.2,255.7M115.5,264.1L114.3,266.4L112.1,267.8M100.4,275.9L100.1,278.6L101.5,280.9M104.2,252.9L102.4,254.3L100.1,254.0M140.2,314.8L138.9,317.0L138.2,319.5M119.6,225.6L121.4,227.3L123.2,229.0M53.3,258.1L52.0,259.2L50.7,260.4M84.4,297.8L84.5,296.2L85.5,295.0" stroke="#d2b812" stroke-width="1.0" fill="none" stroke-linecap="round" stroke-linejoin="round"/><path d="M10.5,246.6L12.1,245.1L13.6,243.4M45.7,259.7L46.7,259.9L47.4,260.7M163.6,244.3L165.0,243.8L165.8,242.6M64.4,222.5L64.7,221.3L64.6,220.2M41.4,288.8L42.7,286.6L43.0,284.0M180.7,192.5L180.1,190.7L179.4,188.9M69.3,241.8L70.5,241.2L71.9,241.1M115.7,265.1L116.9,264.8L118.1,265.1M177.8,226.2L177.4,225.1L177.3,224.1M59.0,241.1L60.1,239.4L60.9,237.6M125.0,236.8L126.2,238.7L125.8,241.0M188.3,218.7L190.7,217.7L193.2,217.7" stroke="#ffbebe" stroke-width="1.5" fill="none" stroke-linecap="round" stroke-linejoin="round"/><path d="M112.6,234.1L113.5,233.6L114.0,232.7M30.2,284.9L30.2,283.7L30.7,282.6M75.5,252.9L76.6,251.2L78.3,250.2M210.5,194.8L213.1,195.1L215.7,195.1M190.5,185.6L189.8,187.2L189.3,188.7M222.4,236.8L224.1,237.8L225.8,238.7M112.1,235.8L112.7,236.6L113.0,237.6M76.6,276.5L75.8,274.9L75.2,273.2M36.0,243.1L37.6,241.4L39.3,239.9M107.3,276.3L105.1,277.1L103.8,279.0M185.0,205.0L187.5,205.1L190.0,205.3M60.2,240.0L58.0,239.6L56.3,240.9M91.0,286.3L92.0,285.5L93.3,285.5M95.7,231.1L97.0,230.5L98.0,229.5M174.3,210.0L175.2,211.2L175.9,212.4M35.0,250.4L32.9,252.0L30.3,251.5M63.1,272.1L62.1,271.2L61.8,269.8M112.5,295.5L111.7,294.4L110.5,293.7M36.3,263.9L38.2,264.4L39.8,263.2M118.1,259.0L116.7,258.0L115.1,257.5M134.7,291.7L135.0,292.9L136.0,293.7M62.8,269.1L63.2,270.1L63.8,270.9M152.1,237.3L154.4,237.3L156.7,237.2M116.3,326.2L118.1,326.4L119.5,325.3M191.3,222.5L191.2,221.2L190.3,220.4M29.3,277.2L28.4,275.7L27.1,274.6M13.7,255.8L13.6,254.8L13.0,254.0M143.1,213.7L143.5,211.7L143.2,209.7M32.7,239.5L30.8,239.3L29.2,238.3M40.3,251.0L40.1,252.3L40.4,253.5M112.2,223.5L113.0,224.4L113.9,225.2M95.8,288.2L95.2,289.9L95.7,291.6M225.9,236.3L226.2,237.3L226.5,238.2M112.8,234.2L110.9,235.0L108.9,235.2M210.1,227.0L210.5,224.5L210.4,222.0M169.8,234.2L168.2,235.3L166.8,236.6M27.8,259.6L25.4,260.8L24.5,263.2M151.6,253.8L151.7,256.3L151.0,258.6M100.8,251.6L100.0,252.7L99.9,254.0M141.3,267.4L142.6,268.2L144.1,268.8M108.8,231.1L109.5,230.3L110.1,229.5M170.9,191.9L172.2,189.9L172.2,187.6M117.6,313.0L115.7,314.1L114.2,315.7M171.3,204.4L169.6,204.4L168.0,205.1M172.2,207.6L172.6,206.7L173.4,206.0M36.9,283.3L35.0,283.4L33.4,284.1M111.0,222.7L111.7,224.9L112.0,227.2M109.0,330.8L109.2,329.2L109.5,327.7M134.4,299.5L132.2,298.8L130.1,297.9M114.5,239.0L115.0,238.0L115.9,237.4M31.7,252.1L29.2,252.6L26.8,252.0M196.8,221.5L197.9,219.8L198.2,217.7" stroke="#d2b812" stroke-width="1.0" fill="none" stroke-linecap="round" stroke-linejoin="round"/><path d="M155.2,224.2L154.8,226.9L152.9,228.8M114.6,328.5L114.0,329.4L114.3,330.4M118.6,247.2L117.3,246.8L116.0,246.8M106.9,240.4L106.0,241.4L104.9,242.1M141.2,324.1L140.2,324.7L139.4,325.6M70.8,270.8L70.1,269.9L69.0,269.4M147.5,283.3L149.3,282.5L150.7,281.3M103.9,304.0L103.9,306.6L101.9,308.3M80.2,276.2L79.2,273.7L78.0,271.3M46.8,228.9L46.4,230.4L45.3,231.4M24.2,278.3L25.2,279.8L26.8,280.5" stroke="#d3ffbe" stroke-width="0.5" fill="none" stroke-linecap="round" stroke-linejoin="round"/><path d="M173.9,231.5L175.4,229.9L177.0,228.4M25.7,257.9L23.9,259.4L23.3,261.7M73.8,268.3L71.9,267.5L71.1,265.6M176.4,238.5L177.7,239.6L179.2,240.4M119.4,237.0L120.7,236.7L121.9,236.3M183.0,203.4L184.0,203.6L185.1,203.9" stroke="#b4a20a" stroke-width="0.5" fill="none" stroke-linecap="round" stroke-linejoin="round"/><path d="M42.1,219.5L42.9,218.6L44.1,218.7M92.2,303.2L90.6,304.4L88.6,304.1M157.4,311.1L159.4,309.5L161.6,308.4M105.1,296.1L105.0,298.4L106.0,300.5M111.1,355.4L113.5,356.0L114.9,358.0M95.1,260.1L96.7,259.9L98.2,259.2M22.6,273.6L22.3,271.7L21.0,270.1M140.1,329.3L141.2,327.6L141.0,325.5M158.5,240.4L158.6,241.4L159.0,242.3M17.8,233.6L19.3,234.8L19.7,236.7M202.2,210.0L200.3,208.4L198.2,207.3M179.3,232.4L180.0,233.2L180.9,233.7M108.8,282.0L108.4,283.5L107.6,284.8M85.2,282.7L85.6,280.1L85.3,277.4M100.3,294.6L98.9,294.8L97.5,294.9M121.2,235.7L119.2,234.9L118.1,233.1M128.9,278.9L127.7,280.0L126.1,280.6M199.3,230.6L200.0,232.2L199.6,233.9M33.9,266.4L34.0,264.0L32.7,261.9M167.4,229.0L166.2,230.2L165.2,231.5M183.7,182.5L185.0,184.5L187.3,185.3M74.2,268.1L76.3,267.4L77.7,265.8M133.2,224.5L135.7,225.1L138.3,224.7M180.7,220.8L181.8,221.5L182.6,222.5M99.4,333.3L100.6,333.9L101.0,335.2M74.3,240.5L74.2,242.7L74.0,244.9M194.4,185.0L195.1,187.5L197.4,188.8M127.7,259.6L129.7,260.6L131.8,260.4M188.5,218.5L187.3,218.9L186.2,218.2M146.6,262.6L147.9,263.1L148.8,264.3M102.0,343.6L102.6,344.6L102.5,345.8M48.2,249.4L47.6,248.0L47.4,246.6M148.7,293.5L146.5,292.6L144.1,292.1M168.9,200.8L170.4,202.5L172.4,203.5M50.6,245.6L51.6,244.3L52.8,243.1M125.0,310.9L124.4,312.1L123.1,312.7M151.4,248.5L149.5,249.7L147.3,250.2M158.1,307.9L157.1,309.8L156.8,312.0M129.2,245.6L127.1,244.5L125.0,245.3M183.4,206.8L184.1,208.6L183.2,210.4M207.1,231.4L205.7,232.9L205.7,235.0M112.1,354.6L110.2,355.5L108.0,355.4M143.2,319.8L144.7,320.0L145.8,319.0M40.3,256.5L41.3,255.7L42.5,255.6M143.5,229.5L144.2,230.9L144.6,232.5M17.7,254.9L20.3,254.2L22.4,255.7M174.1,239.9L173.0,238.7L172.4,237.1M124.4,233.4L124.5,235.0L124.4,236.6M223.3,227.0L224.8,227.0L226.2,226.5M71.3,269.2L70.7,270.2L70.2,271.2M80.5,263.1L82.9,262.1L84.7,260.2M37.2,249.1L38.0,250.4L39.5,250.7M51.5,278.0L51.7,275.8L50.6,273.9M102.0,293.5L101.2,292.9L100.2,293.0M46.2,230.2L47.1,229.6L47.7,228.8M189.9,239.3L190.5,238.5L191.2,237.7M193.9,220.7L195.9,220.5L197.7,219.9" stroke="#4ce600" stroke-width="1.5" fill="none" stroke-linecap="round" stroke-linejoin="round"/><path d="M215.9,231.3L215.9,232.8L216.2,234.4M18.6,268.7L17.6,269.5L17.0,270.7M134.5,274.7L132.3,274.3L130.1,274.6M94.1,277.8L95.6,278.9L97.2,279.7M49.4,241.0L46.9,239.9L45.7,237.5M121.7,266.8L119.4,266.9L117.4,268.0M152.7,255.5L151.0,255.0L149.7,253.8M142.8,220.7L141.3,220.5L139.9,220.0M213.3,199.5L213.9,201.5L214.8,203.5M185.1,227.2L183.4,226.9L181.8,226.4M187.3,184.8L188.3,186.3L189.5,187.6M11.8,251.1L10.7,251.7L9.6,251.4M60.4,238.7L58.7,236.6L58.1,233.9M93.2,315.3L93.9,313.2L95.7,311.9M104.3,346.8L106.4,345.0L108.0,342.8M128.3,324.9L128.3,323.0L127.2,321.5M30.5,243.2L29.5,242.3L29.1,241.1M27.7,269.0L29.8,267.9L30.8,265.8M19.6,282.5L20.7,282.7L21.7,283.0M175.1,236.3L173.4,236.3L171.6,236.0M138.6,244.3L139.3,246.3L140.8,247.9M28.6,243.7L30.7,244.0L32.4,242.8M196.2,192.6L194.8,192.4L193.5,191.8M141.8,226.8L142.1,225.5L141.5,224.3M86.9,306.2L85.2,306.3L83.5,306.8M119.4,312.6L119.9,314.9L118.6,316.8M97.2,233.3L98.5,233.0L99.4,232.0M74.6,242.9L73.7,241.6L73.0,240.4M138.3,252.5L137.5,251.1L136.1,250.3M30.5,232.3L31.7,230.6L31.8,228.6M108.2,314.2L109.7,313.6L110.2,312.1M58.9,239.9L58.1,241.8L58.5,243.8M67.4,263.3L69.8,264.3L71.9,265.7M191.4,218.4L192.6,216.5L193.7,214.5M196.6,193.5L195.5,192.2L194.2,191.1M183.7,207.4L186.3,207.7L188.8,208.7M152.4,295.8L151.8,294.1L150.4,293.0M126.7,295.0L125.5,295.2L124.5,295.9M74.7,236.9L74.8,238.5L76.0,239.5M35.9,216.2L33.2,216.4L30.7,217.4M110.9,321.7L110.2,320.8L109.7,319.7M62.8,252.0L64.6,252.9L66.3,253.8M61.9,260.1L62.2,262.2L61.3,264.2M191.0,221.3L190.8,223.1L191.0,225.0M38.8,276.1L38.7,277.6L39.2,279.1M97.6,297.2L98.0,298.2L97.6,299.2M24.1,281.1L23.5,282.0L23.6,283.1M48.2,228.5L46.7,228.0L45.9,226.7M110.9,283.5L111.5,281.3L111.9,279.1M81.3,276.9L79.5,277.7L77.6,277.6M195.9,202.6L194.1,202.5L192.4,201.7M100.5,304.1L99.4,305.5L97.6,306.1" stroke="#267300" stroke-width="1.5" fill="none" stroke-linecap="round" stroke-linejoin="round"/><path d="M34.5,266.6L35.5,265.4L36.5,264.2M201.0,224.6L200.3,223.4L200.4,222.0M22.4,246.5L21.1,247.3L20.7,248.8M106.3,334.3L105.7,332.4L105.4,330.5M94.7,227.5L93.2,229.8L93.1,232.6M64.6,232.0L63.8,232.7L63.3,233.7M78.9,285.4L79.2,284.0L78.2,282.8M32.2,228.8L32.5,226.7L33.1,224.6M137.6,280.3L135.7,278.6L135.3,276.0M184.3,228.9L183.9,229.9L183.5,231.0M109.1,288.9L108.0,290.2L107.3,291.9M190.4,233.3L192.9,233.7L195.1,235.0M53.9,216.1L53.8,217.7L54.7,219.0M138.2,260.3L136.1,258.7L133.7,257.9M88.8,283.9L88.6,281.5L87.9,279.1M106.8,223.2L106.6,220.6L107.1,218.1M185.0,217.6L185.5,218.5L186.1,219.5M147.7,311.4L147.0,312.2L147.2,313.3M97.2,240.2L96.1,240.7L95.2,241.7M85.3,307.9L86.0,308.9L86.7,309.8M21.3,271.7L22.6,272.1L23.2,273.3M33.1,272.4L32.2,270.7L30.4,270.2M92.4,275.7L90.6,276.4L88.9,277.3M41.4,211.0L40.0,210.7L38.5,210.3M187.0,222.2L185.0,221.8L183.7,220.2M17.7,254.8L18.9,254.6L19.9,255.3M53.8,239.8L54.4,241.8L54.1,243.9M141.6,317.2L141.5,319.0L142.5,320.4M210.0,223.1L208.3,224.2L208.1,226.2M221.9,236.1L222.8,235.6L223.8,235.5M209.2,230.4L208.0,228.4L206.0,227.0M40.7,247.3L41.5,248.6L41.2,250.1M133.3,254.0L132.0,253.9L130.9,253.3M103.0,230.9L104.4,232.8L105.8,234.7M23.9,263.3L24.2,265.0L23.7,266.8M43.3,256.5L45.1,257.1L46.9,257.6M68.4,242.0L69.8,242.4L71.0,241.6M53.3,259.4L53.2,261.2L52.0,262.6M146.5,208.7L144.7,208.6L142.9,209.2M199.8,192.7L201.3,194.3L201.5,196.5M129.2,307.3L128.6,308.4L127.8,309.5M74.8,283.2L72.9,284.8L70.4,285.1M132.4,262.9L132.6,265.2L131.7,267.3M132.4,224.2L132.3,223.1L132.4,222.0M100.6,339.0L98.0,339.8L95.6,338.6M100.8,304.0L102.0,304.1L103.1,303.5" stroke="#ffffbe" stroke-width="1.0" fill="none" stroke-linecap="round" stroke-linejoin="round"/><path d="M128.3,277.7L129.3,278.2L130.4,278.1M111.3,231.0L113.7,230.9L116.0,231.4M153.7,233.1L152.9,231.0L152.5,228.7M95.3,308.9L94.9,310.1L93.8,310.7M118.7,348.9L116.8,347.7L115.2,346.1M35.3,268.0L34.0,268.8L32.6,269.2M43.3,292.5L41.7,292.8L40.8,294.1M77.6,226.1L78.1,228.1L79.2,229.8M211.9,199.8L210.3,199.5L208.7,199.7M95.9,253.1L93.8,254.4L91.5,255.3M35.6,217.0L37.4,217.5L38.5,219.1M165.4,207.5L167.4,209.1L168.5,211.4M118.2,272.7L119.5,272.4L120.8,272.2M19.9,257.8L19.4,256.5L18.2,255.6M184.6,227.5L186.8,228.2L189.0,228.1M109.9,282.8L107.8,284.3L107.4,286.7M82.8,234.0L84.2,234.7L85.6,235.4M122.1,346.3L122.7,347.4L123.8,347.8M73.1,261.0L74.4,261.4L75.1,262.6M104.1,250.1L106.1,249.9L107.5,248.3M114.7,261.0L115.4,260.1L115.1,259.0M48.6,259.6L48.5,257.5L47.1,256.0M104.2,344.7L105.4,343.1L107.0,342.1M50.1,226.3L50.7,224.2L51.6,222.2M37.2,247.1L35.9,244.8L36.4,242.2M35.1,232.5L33.1,232.0L31.2,232.7M11.9,273.5L14.1,274.5L14.9,276.8M93.3,238.2L94.4,236.9L96.1,236.6M141.2,277.9L139.6,279.6L137.6,280.9M59.1,274.8L60.8,273.8L62.6,272.9M39.6,264.3L40.3,261.9L42.4,260.4M118.5,328.8L116.5,329.5L115.1,331.1M54.1,234.4L54.2,232.5L53.3,230.9M89.1,301.0L88.4,299.0L87.0,297.4M111.8,292.1L110.4,291.3L109.9,289.7M196.1,215.2L197.1,216.7L197.1,218.4M150.0,296.4L150.1,298.9L150.7,301.2M69.1,266.7L69.9,265.5L70.2,264.1M183.1,225.8L185.1,223.9L185.1,221.1M15.0,275.6L15.0,276.6L15.6,277.5M70.7,286.2L71.5,285.1L72.7,284.4M146.2,213.9L145.0,213.5L144.2,212.5M92.3,318.4L93.2,317.3L94.1,316.2M21.1,258.2L23.0,257.0L25.2,256.2M80.2,297.8L78.9,296.2L77.9,294.5M168.7,214.7L167.3,214.2L165.9,213.8M133.5,305.7L135.1,305.5L136.3,306.6M117.1,309.3L117.8,308.0L119.2,307.5M113.5,353.0L112.0,351.2L110.1,349.9M16.1,275.7L14.4,275.7L12.7,275.4M40.4,251.0L39.2,252.5L38.2,254.2M45.9,254.0L46.2,256.3L45.7,258.6M35.3,262.3L33.9,261.4L33.1,260.0M115.8,254.9L114.7,254.2L113.4,254.2M153.1,302.4L151.2,301.7L149.2,301.5" stroke="#d2b812" stroke-width="1.5" fill="none" stroke-linecap="round" stroke-linejoin="round"/><path d="M212.1,217.8L214.7,217.1L216.8,215.4M129.4,242.6L130.7,244.4L131.2,246.7M24.4,248.3L24.2,246.6L24.9,245.1M132.2,257.2L133.6,256.1L134.7,254.8M143.9,214.1L141.6,215.3L139.8,217.2M90.3,315.7L91.1,317.3L90.9,319.1M89.3,318.1L91.0,318.2L92.7,318.5M69.8,208.0L67.8,209.2L66.9,211.3M49.9,279.6L49.6,278.1L49.8,276.6M76.0,228.9L74.9,229.6L73.8,230.1M138.0,226.4L139.5,226.6L140.7,225.7M61.7,213.5L62.2,215.9L61.2,218.1M121.0,259.9L119.3,258.7L117.3,257.9M34.9,277.6L34.8,279.2L35.7,280.6M152.6,304.7L151.3,304.6L150.5,305.5M160.3,219.2L160.9,220.8L162.6,221.3M121.6,300.3L119.8,301.3L117.8,301.1M122.2,297.8L122.3,300.2L121.2,302.5M66.7,263.4L67.5,264.7L68.6,265.7M80.6,267.5L79.6,266.9L78.5,266.4M109.0,282.9L109.5,281.9L110.2,281.1M160.8,239.5L160.3,240.4L159.3,240.8" stroke="#b4a20a" stroke-width="1.0" fill="none" stroke-linecap="round" stroke-linejoin="round"/><path d="M179.0,190.9L178.9,193.5L178.3,196.0M80.9,235.1L78.6,236.6L75.9,236.0M179.2,223.4L179.3,224.8L179.9,226.2M41.1,241.6L41.9,243.0L41.5,244.6M207.1,216.0L207.6,218.0L208.8,219.7M138.5,246.9L140.0,248.3L141.7,249.5M148.2,322.1L146.6,321.5L145.5,320.2M55.7,287.4L54.0,285.6L52.9,283.4M95.1,300.4L96.3,300.5L97.3,301.1M181.9,238.6L182.4,237.1L183.4,235.9M123.5,343.4L123.2,340.9L124.2,338.5M179.0,192.4L177.9,189.9L178.3,187.3M116.3,253.5L117.5,252.3L119.2,252.1M121.8,222.1L123.5,221.7L124.7,220.6M206.3,192.7L204.7,192.7L203.2,192.8M150.6,260.6L150.1,259.7L149.4,258.8M163.1,203.1L161.8,204.0L161.0,205.3M149.0,282.5L147.1,284.4L144.3,284.2M135.6,328.9L136.8,330.4L137.8,332.1M146.3,214.8L147.3,214.1L148.4,213.5M182.1,241.5L183.0,242.6L184.3,243.1M18.4,276.4L17.1,277.2L15.6,277.6M76.8,284.2L77.7,283.7L78.3,282.8M158.5,244.0L157.3,242.3L156.6,240.3M50.7,206.0L51.5,208.4L51.3,210.9M119.1,259.2L119.1,261.6L119.6,264.0M15.9,239.4L16.2,238.3L16.5,237.3M5.4,277.2L6.7,279.5L7.9,281.7M98.0,227.7L99.3,228.1L99.9,229.3M7.5,277.0L9.6,276.9L11.5,277.6M38.1,281.4L39.8,281.1L41.5,281.2M112.5,328.1L110.0,328.3L107.5,328.8M114.9,303.8L112.9,303.6L111.0,304.2M195.8,208.5L195.5,207.3L196.0,206.2M140.9,257.9L140.7,256.6L140.6,255.3M17.0,267.4L15.2,269.2L12.8,269.7M200.7,217.8L201.2,220.1L201.9,222.3M149.2,269.7L149.9,271.0L149.8,272.5M160.1,196.4L158.9,196.8L158.5,198.0M153.7,234.6L155.1,233.0L155.0,230.9M217.5,197.3L217.0,198.2L216.1,198.7M38.0,279.3L40.0,278.2L42.1,277.3" stroke="#ffff00" stroke-width="1.0" fill="none" stroke-linecap="round" stroke-linejoin="round"/><path d="M107.2,314.3L107.0,312.5L108.1,311.2M146.6,247.2L146.3,249.0L146.0,250.9M44.7,254.3L44.8,252.0L43.2,250.4M113.5,327.4L113.8,326.2L113.1,325.1M136.1,221.3L136.0,219.9L136.1,218.5M194.3,226.9L193.5,226.3L192.6,225.7M116.3,285.3L114.5,285.9L112.5,286.1M48.2,219.8L48.4,217.8L48.0,215.7M52.0,283.9L49.6,284.9L47.5,286.4M168.5,220.0L170.5,220.6L171.3,222.5M69.3,225.2L68.1,224.7L66.9,224.3M61.8,260.8L63.7,260.9L65.3,261.7M41.5,218.2L42.6,219.8L42.5,221.7M123.5,282.4L123.2,284.0L123.8,285.5M180.5,217.2L180.8,214.4L182.6,212.3M115.6,263.4L113.3,264.1L111.3,263.0M188.6,184.7L187.7,182.5L188.2,180.2M153.8,214.5L154.2,216.1L155.2,217.5M19.0,249.1L16.7,249.7L14.5,250.5M54.6,255.1L55.2,253.2L56.9,252.1M141.1,328.7L139.6,329.9L138.6,331.6M91.3,236.2L92.3,237.4L93.7,238.1M41.5,230.3L40.3,229.7L39.5,228.6M167.8,223.5L167.1,221.9L165.8,220.8M43.3,230.5L42.0,229.8L40.6,229.7M34.6,240.7L32.8,239.3L32.7,237.0M115.3,262.1L115.2,260.5L114.2,259.3M99.4,231.0L97.4,230.6L95.7,231.8M123.3,324.4L124.8,323.7L126.4,324.2M50.7,259.8L50.2,260.7L49.7,261.6M108.8,352.4L106.7,353.4L104.3,353.1M47.6,246.7L46.8,248.3L45.1,248.7M221.9,226.1L223.9,225.7L225.8,226.5M87.3,313.7L87.5,312.0L89.0,311.0M170.3,218.2L169.5,219.8L168.9,221.5M196.6,228.1L197.1,230.8L196.2,233.4M25.2,258.4L24.6,257.7L24.0,256.9M59.6,234.4L59.7,232.0L59.7,229.5M185.0,214.6L182.8,216.0L180.3,216.8M207.2,223.2L209.3,222.3L211.3,221.1M26.4,275.2L25.0,275.0L23.6,274.6M26.7,238.1L27.2,239.2L28.1,240.0M212.7,229.2L210.3,230.6L207.6,230.4M107.0,352.5L108.1,351.5L109.6,351.1M61.9,273.0L62.5,275.0L64.0,276.4M144.6,270.8L146.5,271.2L148.2,270.2M33.7,285.2L32.0,287.2L32.5,289.7M196.1,223.6L198.7,223.3L200.1,221.1M73.3,244.9L73.1,243.5L73.4,242.1M152.0,222.4L152.8,221.1L152.5,219.5M197.2,209.2L197.0,211.5L196.8,213.8" stroke="#ffff00" stroke-width="1.5" fill="none" stroke-linecap="round" stroke-linejoin="round"/><path d="M188.4,221.9L188.0,223.7L188.8,225.3M164.4,229.4L163.2,230.3L163.0,231.9M197.7,200.0L197.2,202.0L196.1,203.6M141.4,275.9L139.5,276.5L137.7,277.3M61.3,213.4L61.7,214.5L61.3,215.7M27.5,233.3L26.0,235.2L24.2,236.9M26.2,269.3L24.9,269.5L24.2,270.5M83.9,262.0L85.3,262.8L86.0,264.3M158.3,317.3L160.0,315.4L162.3,314.2M89.8,307.5L91.1,307.8L92.2,307.0M79.9,260.9L78.9,259.4L77.8,258.0M60.7,257.8L61.6,259.5L61.1,261.3M148.9,271.0L149.2,273.6L148.6,276.1M117.0,315.5L118.6,317.5L120.9,318.5M42.3,280.4L44.5,280.5L46.3,281.5M78.5,297.4L77.4,298.2L76.2,298.9M88.1,273.9L89.0,274.9L89.3,276.1M39.7,227.5L41.4,229.1L43.6,230.0M49.4,284.9L51.1,285.3L52.8,284.9M143.3,284.9L142.9,287.4L143.3,290.0M101.5,334.5L102.9,335.7L103.6,337.4" stroke="#b4a20a" stroke-width="1.5" fill="none" stroke-linecap="round" stroke-linejoin="round"/><path d="M168.5,203.9L168.2,202.6L168.7,201.5M54.6,207.6L53.7,208.5L53.5,209.6M136.0,336.9L133.7,335.9L131.3,336.2M197.0,187.3L198.3,186.8L199.6,187.3M206.5,215.9L208.5,215.1L210.7,215.6M172.3,222.8L172.7,223.8L173.3,224.7M101.6,318.2L101.1,315.7L99.7,313.5M155.8,220.2L155.2,217.6L153.7,215.4M50.9,259.5L52.6,261.2L54.9,262.1M162.9,243.7L161.5,246.1L159.8,248.2M123.6,293.0L124.0,291.7L123.9,290.4M106.4,296.5L107.2,294.3L108.5,292.4M120.7,301.2L121.6,302.1L122.9,302.2M73.1,264.3L73.1,266.6L73.5,268.8M38.6,277.0L37.2,277.7L35.6,277.6M200.2,193.5L201.1,192.4L201.9,191.3M85.7,281.7L84.3,279.7L81.9,279.2M142.1,329.2L142.9,327.8L142.7,326.2M42.1,221.3L39.7,222.4L37.1,222.6M150.1,266.4L147.7,265.7L145.2,265.6M215.3,194.7L214.2,195.5L213.2,196.4M167.8,227.5L168.2,229.3L167.5,231.0M130.0,226.6L131.2,228.6L130.4,230.8M179.5,197.5L181.0,196.1L183.1,195.6M111.2,331.9L113.3,331.5L114.6,329.8M181.8,233.5L180.5,233.7L179.4,233.1M172.5,229.6L174.9,230.6L177.6,231.0" stroke="#d3ffbe" stroke-width="1.5" fill="none" stroke-linecap="round" stroke-linejoin="round"/><path d="M125.0,282.8L126.2,282.0L126.8,280.7M122.0,332.6L120.4,331.7L119.9,329.9M196.8,228.0L194.2,228.9L193.3,231.4M174.7,238.1L174.1,239.7L172.5,240.4M73.3,290.9L72.9,289.2L72.1,287.6M71.7,261.5L70.6,261.7L69.5,261.9M16.9,259.6L17.4,261.0L17.8,262.4M208.2,199.1L208.4,201.3L208.8,203.5M68.3,222.0L67.9,223.2L68.4,224.3M187.3,231.3L186.8,229.1L185.7,227.1M152.6,208.9L153.1,207.9L153.4,206.7M125.9,253.4L128.1,253.9L130.2,253.1M116.0,260.3L114.9,262.0L115.2,264.0M99.8,234.1L101.0,233.9L102.0,233.3M71.0,217.8L69.9,219.0L68.7,220.0M171.3,209.1L171.6,207.6L171.1,206.2M192.4,218.8L192.4,220.1L191.5,221.1M31.0,245.5L29.8,244.7L28.4,244.2M100.2,249.5L101.7,249.3L103.1,249.0M151.5,224.1L150.9,221.5L149.6,219.1M101.2,299.2L100.5,296.8L100.8,294.4M112.2,333.2L114.8,333.0L116.8,334.7M103.1,283.3L105.4,283.4L107.4,284.4M48.4,279.8L50.1,280.6L51.0,282.3M112.0,305.5L114.1,304.5L116.1,303.5M93.5,232.6L91.7,232.9L90.3,231.8M29.3,231.0L28.2,232.4L28.5,234.1M115.8,350.8L115.8,348.3L115.4,345.9M88.2,284.4L87.5,286.5L87.8,288.6M136.5,288.9L137.5,287.9L137.4,286.6M67.9,240.5L68.2,239.0L68.0,237.4M100.2,348.3L100.1,349.4L99.3,350.2M42.4,279.6L40.1,278.3L37.6,277.5M101.0,263.8L103.2,262.9L104.1,260.7M154.8,198.0L156.5,196.5L157.7,194.7M75.4,258.5L77.7,259.2L80.1,258.6M90.1,313.6L89.4,312.8L89.2,311.7M51.5,211.8L50.5,213.0L50.5,214.6M232.2,222.4L232.2,225.0L230.4,227.0M195.6,222.9L197.7,222.9L199.7,222.2M70.4,233.8L70.9,235.3L70.0,236.7M70.1,270.7L69.9,273.2L71.4,275.3M95.1,277.1L93.0,277.8L92.0,279.7M90.1,257.9L90.4,256.3L91.6,255.1M50.5,231.2L49.0,232.4L47.6,233.8M131.7,312.1L132.3,311.1L133.2,310.2M36.5,273.4L34.9,274.9L32.7,274.7M143.7,265.0L142.9,264.4L141.9,264.6M77.9,242.7L77.0,240.5L75.1,239.3M43.4,258.4L45.0,260.2L45.3,262.6" stroke="#ffff00" stroke-width="1.5" fill="none" stroke-linecap="round" stroke-linejoin="round"/><path d="M50.3,235.2L49.7,232.9L49.9,230.5M116.1,242.9L117.1,242.6L117.7,241.6M41.0,291.4L42.5,289.8L43.8,287.8M134.0,224.9L135.9,223.2L136.3,220.6M127.3,240.9L125.0,240.4L122.7,240.7M114.8,236.4L117.5,236.2L119.5,234.4M113.8,278.7L112.9,278.2L111.9,278.5M130.0,273.9L131.9,274.1L133.7,273.7M65.3,236.6L63.9,237.1L62.3,237.3M86.7,299.1L88.5,298.3L90.2,297.0M29.2,246.2L31.2,245.3L33.0,243.9M159.2,197.4L156.8,198.3L154.4,198.9M139.5,274.2L139.4,275.7L138.4,276.7M190.5,223.7L192.0,226.0L194.7,226.4M100.1,287.7L102.1,289.2L103.3,291.5M96.3,297.0L94.8,299.1L92.8,300.8M78.2,265.2L77.6,266.2L77.9,267.3M168.6,197.1L170.0,195.9L170.9,194.3M143.4,291.2L142.6,292.6L142.0,294.0M132.5,265.2L133.8,263.9L135.6,263.5" stroke="#e69800" stroke-width="1.0" fill="none" stroke-linecap="round" stroke-linejoin="round"/><path d="M93.8,238.7L93.0,236.6L91.1,235.6M205.1,228.6L203.7,227.6L202.2,227.1M14.2,268.1L15.6,268.5L16.9,268.3M205.4,202.8L206.7,203.6L208.0,204.3M97.7,273.2L98.9,273.9L100.3,274.1M120.9,343.5L119.7,342.0L118.2,340.8M145.1,262.0L144.2,264.2L141.9,265.2M207.5,196.4L209.4,198.1L209.7,200.8M38.5,281.1L38.3,282.2L38.7,283.3M22.8,271.7L21.6,270.2L20.5,268.6M148.2,213.9L146.0,214.2L143.9,214.4M159.0,243.1L157.8,245.4L156.6,247.6M105.0,309.0L105.9,309.9L106.0,311.1M126.8,284.9L128.1,285.3L129.4,285.0M135.4,250.7L137.0,252.9L138.3,255.4M42.5,208.4L40.2,207.7L38.0,206.6M16.4,279.6L15.7,278.2L14.5,277.2M167.3,199.7L168.2,198.4L169.6,197.6M141.4,272.6L143.6,274.2L145.6,276.0M41.0,213.9L39.6,214.5L38.7,215.7M97.9,334.8L97.6,333.0L98.8,331.6M148.1,233.5L149.3,235.9L151.0,238.0M58.4,227.1L58.8,225.8L59.0,224.4M134.4,254.5L133.5,253.6L132.9,252.6M70.7,210.0L73.0,210.0L74.7,208.3M21.7,280.2L22.4,279.3L23.6,279.1M91.2,321.5L91.7,320.5L91.7,319.4M185.2,231.7L184.6,234.0L184.4,236.4M89.5,266.2L87.6,264.6L86.6,262.4M61.6,264.1L61.1,263.0L61.2,261.8M103.2,232.7L102.2,231.7L100.8,231.5M165.6,217.5L166.7,218.0L167.8,217.5M47.5,288.1L46.5,286.5L46.5,284.5M178.7,193.5L179.6,194.4L180.4,195.2M134.6,310.6L136.1,310.1L136.6,308.7M64.5,261.6L65.3,262.6L66.6,262.9M50.9,229.8L50.0,231.0L49.9,232.5M44.8,224.5L43.1,225.9L42.4,228.1M90.0,279.4L88.8,280.9L86.9,281.3M230.1,226.6L228.9,227.3L227.6,226.8M114.9,273.6L112.5,274.1L110.4,272.8M94.9,305.7L93.3,305.2L91.8,304.4" stroke="#ffff00" stroke-width="1.0" fill="none" stroke-linecap="round" stroke-linejoin="round"/><path d="M76.3,235.1L77.1,232.7L77.2,230.3M126.2,311.1L124.6,310.9L123.0,310.7M89.6,312.3L90.4,310.2L89.6,308.1M78.0,229.8L79.5,229.8L81.1,229.9M66.7,273.9L66.3,271.6L65.1,269.6M59.8,277.9L58.7,278.5L57.9,279.5M144.6,268.9L145.0,271.3L144.5,273.6M119.3,287.2L117.4,288.2L115.6,289.2M48.8,239.2L50.7,240.9L51.2,243.4M81.3,248.9L81.6,249.9L82.6,250.3M140.1,334.6L138.4,335.0L137.0,336.0M106.6,318.6L107.9,320.7L107.5,323.2M106.4,330.1L104.8,330.2L103.3,329.5M182.6,206.5L184.6,205.9L186.7,206.5M109.3,239.1L111.4,238.3L112.9,236.6M68.7,215.4L68.2,216.5L67.3,217.5M202.4,220.6L201.5,219.4L201.0,218.1M43.9,283.3L43.5,282.2L42.9,281.2M107.0,309.7L109.0,311.1L110.7,312.8M94.0,256.4L93.4,257.3L92.7,258.0M23.4,239.2L25.0,238.6L26.4,237.6M22.6,232.4L23.4,231.4L23.7,230.2M113.3,296.6L112.8,299.1L112.1,301.7M36.3,233.1L38.4,234.4L39.5,236.6M119.8,237.4L118.7,237.7L117.7,237.0M124.9,243.7L122.4,242.9L120.9,240.8M186.5,187.5L186.9,186.1L188.2,185.3M131.7,282.8L131.0,284.1L129.6,284.4M87.5,305.3L88.3,307.4L90.4,308.1M52.4,237.9L50.3,237.1L48.2,237.9M186.3,206.5L187.6,208.6L187.2,211.1M49.4,215.3L48.6,217.5L48.8,219.9M49.7,266.3L47.7,266.7L45.9,267.7M142.7,211.3L143.2,209.7L143.8,208.0M189.3,239.8L190.4,241.3L190.6,243.1M142.1,308.5L144.4,309.7L146.8,309.0M140.8,232.5L141.5,230.4L141.2,228.2M101.2,323.6L102.7,323.0L104.2,322.8M45.8,265.0L45.0,265.6L44.1,266.2M115.1,241.3L114.4,240.2L114.5,238.9M212.6,233.6L210.1,233.8L207.7,233.1M159.0,313.3L159.9,315.5L158.8,317.6M36.1,239.1L37.7,238.6L39.4,238.2M47.8,277.5L48.9,277.5L49.9,277.0M112.0,227.8L110.7,226.8L110.0,225.2M56.8,250.5L55.5,251.2L55.0,252.5M62.8,287.4L63.3,289.9L63.5,292.5M160.1,242.1L158.7,239.8L157.3,237.5M43.8,294.3L43.4,292.3L42.9,290.3M115.4,293.4L116.4,291.9L118.1,291.0M59.5,254.7L57.1,253.8L54.6,253.9M68.1,259.4L69.6,257.8L71.4,256.5M172.7,228.9L174.2,229.6L175.0,231.1M126.7,245.4L128.1,246.5L129.6,247.5" stroke="#d2b812" stroke-width="1.5" fill="none" stroke-linecap="round" stroke-linejoin="round"/><path d="M124.9,263.8L126.0,264.9L126.9,266.3M133.9,231.5L132.8,231.6L131.7,231.8M96.5,253.1L96.8,255.5L95.3,257.6M165.8,197.1L165.4,198.5L164.2,199.4M68.1,269.3L67.3,271.8L65.8,274.0M105.7,282.7L105.0,283.7L104.7,284.9M136.1,266.7L134.7,268.5L133.5,270.3M179.2,210.4L177.4,212.4L174.7,212.8M115.9,344.9L117.7,345.4L119.6,345.7M70.3,261.9L70.0,264.3L71.6,266.1M149.5,305.7L150.5,304.1L152.3,303.6M208.3,216.1L206.7,215.8L205.2,215.3M54.6,206.2L55.6,207.0L56.8,207.6M114.7,296.3L114.2,294.7L113.6,293.1M62.8,246.9L64.0,247.8L65.6,247.6M55.0,268.6L54.0,267.8L52.7,267.6M91.8,232.0L90.5,233.1L88.8,233.8M39.5,255.6L40.0,257.3L40.2,259.1M194.1,193.5L192.7,193.8L191.5,194.5M113.8,313.0L111.5,312.1L109.0,312.5M79.1,290.6L81.6,289.5L84.3,288.8M141.1,274.6L142.9,275.1L144.6,274.4M92.6,268.7L94.3,268.9L96.0,268.4M15.3,235.2L13.6,233.4L12.0,231.6M102.1,328.3L101.0,327.6L100.2,326.5M63.9,260.2L64.7,261.0L65.9,260.9M14.5,266.2L14.7,265.2L15.4,264.3M173.2,199.8L172.3,202.4L170.2,204.1M114.2,307.5L115.8,306.4L117.6,306.2M108.6,307.3L108.0,306.2L107.1,305.3M55.1,242.8L54.0,244.4L52.2,245.2M20.8,277.2L21.9,276.6L22.7,275.7M88.2,303.7L90.0,303.2L91.6,304.0M107.3,318.2L108.3,317.7L108.6,316.7M72.7,221.4L72.5,223.4L70.9,224.8M160.7,196.5L159.8,198.1L158.9,199.7M145.7,300.8L147.5,300.6L149.3,300.3M224.4,228.3L224.2,229.7L223.2,230.8M52.1,242.5L51.1,242.7L50.2,242.1M101.3,350.6L102.3,350.3L103.3,350.4M33.8,245.6L35.2,246.9L36.7,247.9M142.3,311.9L143.4,312.8L143.5,314.2M215.9,191.2L216.7,190.3L217.9,189.8M204.6,216.5L206.4,216.5L207.7,217.7M86.0,267.3L86.5,265.4L85.7,263.6M43.8,290.1L45.6,291.6L47.9,291.6M63.5,257.2L65.7,257.4L67.7,257.9M178.5,240.4L178.0,238.2L179.4,236.4M133.1,221.0L133.9,223.4L132.9,225.7M142.9,320.6L141.4,322.0L141.3,324.0M104.9,351.2L103.1,351.7L102.0,353.4M114.9,245.6L116.0,246.6L116.3,247.9" stroke="#d2b812" stroke-width="1.0" fill="none" stroke-linecap="round" stroke-linejoin="round"/><path d="M57.7,215.3L56.9,216.6L56.0,217.8M128.8,247.1L129.1,248.1L128.6,249.0M97.9,280.4L98.5,278.4L100.5,277.5M224.1,229.0L225.2,230.5L227.0,230.8M73.5,284.1L72.2,284.9L70.7,284.5M26.3,233.2L25.6,232.4L24.8,231.7M67.5,272.0L68.7,270.8L70.2,270.0M207.1,202.8L206.0,202.3L204.8,202.4M63.6,239.1L62.3,237.8L60.6,237.1M104.2,271.4L103.4,269.0L104.5,266.7M141.6,263.1L142.2,264.0L142.1,265.1M38.2,243.7L39.7,243.6L41.2,243.3M33.2,250.3L32.7,248.9L32.7,247.4M34.9,248.3L33.0,247.3L30.8,246.8M147.2,314.3L145.6,315.0L143.9,314.9M132.4,329.9L131.2,328.2L130.3,326.3M78.8,270.7L80.1,271.9L80.8,273.4M172.4,231.8L172.4,233.1L172.7,234.5M134.6,217.3L133.0,218.9L131.6,220.7M120.3,246.6L121.7,247.2L123.1,246.9M38.0,292.0L38.7,291.3L38.9,290.3M30.2,233.4L31.3,232.7L32.4,231.9M87.2,260.3L86.5,262.1L85.1,263.4M51.8,245.8L53.0,247.3L52.7,249.2M149.7,235.2L151.0,234.2L151.5,232.6M64.1,239.0L65.6,238.3L67.0,237.5M142.8,254.9L143.7,256.6L145.2,257.8M87.8,307.9L86.0,308.2L84.6,309.4M75.4,273.7L74.3,274.7L73.0,275.6M107.6,223.8L107.7,226.1L108.7,228.1M155.4,217.5L156.5,219.6L157.7,221.5M35.4,273.6L37.9,273.4L40.2,272.5M123.3,278.1L123.2,277.0L122.7,275.9M156.8,310.6L155.2,311.7L153.8,313.1M149.7,262.5L151.3,264.0L153.4,265.0M106.2,339.0L105.6,337.4L104.1,336.5M105.3,326.6L104.6,325.0L104.4,323.4M135.5,323.2L135.1,325.4L133.2,326.6M141.1,280.5L143.1,280.4L144.6,281.8M113.0,299.9L111.9,298.6L111.2,297.0M131.1,259.5L129.9,258.3L128.2,258.0M141.8,245.9L144.2,245.0L145.5,242.8M110.7,289.0L110.1,290.5L108.7,291.1M102.9,226.0L102.4,224.0L101.5,222.3M215.0,190.8L215.4,189.8L216.5,189.5M82.8,292.4L81.5,290.8L80.5,289.1M73.6,235.8L72.8,233.5L72.8,231.2M75.2,289.9L75.9,288.5L76.8,287.2M187.4,216.2L187.2,214.6L187.6,213.1M152.5,259.1L152.2,261.1L152.1,263.2M119.3,297.4L120.8,297.8L122.3,298.0M129.2,276.9L130.1,276.1L131.3,276.0M73.4,290.2L76.2,290.2L78.5,291.6M204.7,228.9L204.6,227.2L205.8,226.1M215.5,232.9L217.0,232.9L218.0,231.9M14.2,249.7L14.6,248.2L14.7,246.7M110.1,235.4L109.4,233.7L107.6,233.1M61.9,281.6L59.8,281.3L57.8,282.0M93.0,259.1L91.9,259.7L90.5,259.8M39.7,262.8L37.8,261.8L36.3,260.4M90.9,228.5L91.9,229.4L93.3,229.6M215.0,195.5L213.5,194.7L211.8,195.1M58.8,213.8L57.5,216.2L57.6,218.9M174.3,195.3L172.9,197.1L171.7,199.0" stroke="#d2b812" stroke-width="0.5" fill="none" stroke-linecap="round" stroke-linejoin="round"/><path d="M57.3,207.8L56.6,210.2L54.7,211.8M100.9,290.1L99.4,292.3L97.0,293.5M81.0,301.2L82.0,298.9L82.9,296.7M130.5,278.3L131.6,279.5L132.7,280.9M175.1,238.8L174.8,237.7L174.4,236.6M151.2,218.4L151.7,217.2L152.0,215.9M49.2,237.9L46.7,238.1L45.3,240.1M182.8,230.7L182.1,229.3L181.3,228.0M36.4,255.1L34.3,255.4L32.6,254.2M45.8,268.4L47.8,267.2L50.1,266.7M50.7,205.5L52.6,207.3L55.0,208.4M77.3,215.5L79.1,214.9L79.9,213.2M129.5,305.7L130.5,305.4L131.5,305.2M126.8,320.7L125.3,321.3L123.8,321.2M23.5,257.8L22.6,255.5L22.1,253.0M70.2,213.4L69.0,212.6L67.5,212.5M163.1,223.9L165.6,224.8L167.9,226.1M21.3,241.4L20.2,242.5L19.9,244.1M106.7,299.7L105.1,300.0L103.6,300.6M128.4,318.7L128.4,319.9L127.9,321.1M156.4,304.7L154.1,305.2L152.0,304.1M44.5,279.9L43.2,280.4L42.0,280.9M132.9,280.4L134.5,279.7L136.3,279.9M80.9,294.8L80.1,293.7L80.2,292.3M96.5,233.2L95.1,233.2L93.8,232.8M98.3,324.7L97.3,325.3L97.0,326.4M123.2,264.1L124.4,263.4L124.7,262.1M158.5,243.3L156.9,244.9L154.7,245.2M78.1,274.8L75.5,274.4L72.9,274.1M106.4,246.8L107.7,248.3L109.7,248.7M128.8,290.3L126.5,291.2L124.1,291.3M113.4,249.0L112.2,251.2L110.7,253.1M174.6,187.4L174.5,186.2L173.6,185.5M136.1,324.2L135.5,325.6L136.1,326.9M122.5,314.0L123.8,314.5L125.1,315.1M129.6,248.4L131.1,249.9L133.1,250.1M117.3,262.4L117.8,264.5L119.4,266.0M113.0,243.3L113.1,245.4L111.6,246.9M152.4,297.6L154.5,297.3L156.2,298.5M107.7,234.0L109.3,232.0L111.9,231.8M61.7,257.8L64.1,257.9L66.1,256.5M39.5,262.3L40.6,260.9L41.3,259.2M63.7,279.6L64.5,278.5L64.9,277.2M125.7,224.4L127.3,222.9L127.5,220.6M102.6,232.8L102.3,234.1L103.0,235.2M128.0,229.8L125.7,228.4L123.6,226.9M129.2,233.2L130.3,233.0L131.1,232.3M175.2,218.9L175.5,216.5L174.3,214.3M126.2,305.7L123.6,305.4L120.9,305.6M37.7,276.9L35.6,275.6L33.4,274.7M103.4,260.2L102.4,259.1L100.9,259.2M150.8,212.9L151.7,214.9L153.8,215.5" stroke="#ffffbe" stroke-width="1.5" fill="none" stroke-linecap="round" stroke-linejoin="round"/><path d="M104.6,326.6L103.5,327.7L101.9,327.9M135.7,303.5L137.3,303.6L138.7,304.5M108.6,300.5L110.0,300.3L111.1,299.5M109.9,341.8L111.9,342.1L113.7,341.2M64.3,269.1L63.9,271.2L63.6,273.4M205.6,207.3L204.5,207.5L203.3,207.4M116.6,265.2L118.7,264.4L120.9,263.7M98.3,290.9L100.3,289.3L100.3,286.7M132.7,220.6L133.6,219.9L134.6,219.2M116.6,327.0L116.0,328.8L115.0,330.5M159.4,198.9L159.1,196.2L160.9,194.2M172.9,208.8L174.2,207.4L174.8,205.7M142.4,286.3L143.6,285.4L144.9,284.5M180.2,220.6L181.2,221.0L182.0,221.8M138.2,291.2L139.7,290.9L141.2,290.5M149.6,291.6L151.6,293.3L153.5,295.1M119.1,334.5L118.4,333.5L117.4,332.8M240.7,222.2L238.5,223.0L236.5,224.2M24.2,254.0L24.1,255.4L24.7,256.8M167.5,215.2L166.2,214.5L165.1,213.4M167.5,210.4L169.3,211.4L171.3,210.8M148.8,244.6L148.9,243.2L148.6,241.9M96.6,286.7L97.4,288.5L98.4,290.1M96.8,289.8L95.9,288.5L95.2,287.0M118.2,291.5L119.6,292.6L121.3,293.1M216.2,217.9L214.0,217.9L212.2,219.2M70.1,215.4L68.0,216.1L65.9,216.4M26.5,245.3L25.0,246.4L24.6,248.2M57.7,259.2L57.7,260.3L56.9,261.2M60.3,250.1L58.1,250.2L56.6,251.8M14.1,276.9L16.5,277.8L18.2,279.9M13.3,265.5L14.6,266.6L15.9,267.8M187.6,221.4L186.1,223.0L185.3,224.9M130.0,311.3L129.9,313.8L129.3,316.2M143.8,257.7L143.6,256.1L143.0,254.5M167.7,210.6L169.4,211.9L169.9,214.0M68.2,278.6L69.7,277.2L70.8,275.6M94.9,293.3L94.4,292.3L94.2,291.3M124.7,332.3L126.6,331.9L128.4,331.1M54.1,276.1L55.4,274.0L57.7,273.3M14.1,278.7L11.9,278.3L9.8,279.1M120.5,236.3L121.3,237.4L121.2,238.8M108.4,307.6L106.4,305.7L104.0,304.6M90.6,286.7L91.5,288.8L93.1,290.6M109.6,298.7L110.5,300.7L112.5,301.5M134.0,303.6L136.3,303.4L138.6,303.7M91.4,287.9L90.6,289.2L90.1,290.6M53.5,209.3L55.3,207.8L57.5,206.9M120.7,283.7L119.7,284.2L118.9,284.7M184.6,218.7L184.8,217.4L184.1,216.2M166.3,194.1L166.1,196.4L164.9,198.3M54.0,257.7L52.4,257.0L50.9,256.1M22.8,258.6L22.8,261.2L23.8,263.6M81.2,295.4L82.1,295.0L83.0,294.5M113.1,274.9L115.1,275.6L117.1,274.8M111.5,248.3L111.0,249.5L110.9,250.9M47.9,240.8L47.1,238.6L47.6,236.3M153.1,310.8L153.4,312.7L154.4,314.2M19.3,260.2L19.8,262.2L20.7,264.0M60.0,280.4L59.2,282.1L58.3,283.8M146.6,332.9L145.6,333.3L144.6,332.9M179.4,190.0L181.0,190.8L182.7,191.0M141.2,242.6L139.7,243.2L138.1,243.0M105.3,227.0L105.3,224.3L103.5,222.2M96.6,247.8L94.8,248.0L93.1,247.7M113.8,292.3L114.2,294.0L113.3,295.6M125.7,265.4L125.1,263.0L122.8,261.9M195.6,224.2L193.4,224.5L191.3,223.9M139.5,221.2L141.4,219.6L142.2,217.1M123.2,345.6L121.6,343.6L119.0,343.5M110.7,326.2L109.2,327.4L109.0,329.3M193.5,188.9L190.9,188.5L188.4,189.0M174.1,226.9L175.3,226.5L176.5,226.3M63.8,217.9L62.8,217.5L61.6,217.7" stroke="#4ce600" stroke-width="1.0" fill="none" stroke-linecap="round" stroke-linejoin="round"/><path d="M145.6,318.8L144.6,317.9L144.7,316.5M42.2,278.7L44.4,278.1L46.6,278.0M17.5,283.3L16.2,282.3L15.9,280.6M54.2,247.0L55.5,247.0L56.6,246.3M88.0,252.5L86.1,252.4L84.3,251.7M135.8,248.7L135.7,247.0L136.7,245.6M212.1,192.0L213.8,191.7L215.5,192.3M115.0,307.3L113.7,307.8L113.1,309.1M56.1,227.8L58.1,229.3L60.6,228.7M164.7,213.5L164.0,214.8L163.3,216.2M104.5,343.1L104.0,341.4L102.4,340.6M69.5,286.5L68.4,286.1L67.3,286.6M143.4,212.5L141.9,213.1L140.2,212.7M12.1,238.3L12.5,236.0L14.5,234.8M17.8,242.5L15.6,241.8L13.6,240.7" stroke="#267300" stroke-width="0.5" fill="none" stroke-linecap="round" stroke-linejoin="round"/><path d="M132.2,238.6L134.7,239.5L137.4,240.0M117.6,328.0L116.6,327.9L115.7,328.5M125.0,310.0L127.7,310.0L130.3,309.8M212.5,233.2L211.3,232.8L210.2,232.3M39.0,281.1L40.0,280.3L40.5,279.1M141.8,222.1L141.7,223.3L141.1,224.4M145.3,293.7L147.1,292.6L148.8,291.5M125.7,256.9L126.1,255.7L126.9,254.6M200.3,219.7L198.8,220.0L197.5,219.2M109.0,307.9L110.1,307.7L111.1,307.6M95.6,277.9L95.8,279.8L97.3,281.1" stroke="#ffbebe" stroke-width="0.5" fill="none" stroke-linecap="round" stroke-linejoin="round"/><path d="M134.6,280.9L134.5,279.5L133.5,278.5M62.5,215.1L63.5,217.2L63.6,219.6M86.8,285.7L88.0,284.2L88.9,282.5M204.9,199.1L204.5,197.4L205.2,195.7M108.4,300.7L108.4,302.3L108.7,303.8M147.5,262.4L146.6,261.2L146.9,259.7M47.8,270.4L49.1,270.2L49.8,269.2M77.3,273.4L75.8,275.0L75.1,277.1M117.0,331.0L114.9,330.6L113.7,328.8M145.6,254.8L146.3,256.9L147.1,259.1M185.5,199.5L185.6,200.6L186.2,201.5M141.9,309.1L142.5,310.0L143.0,310.9M36.8,281.0L37.9,282.7L39.6,283.5M115.2,317.0L115.1,318.2L115.9,319.0M145.9,214.4L144.9,212.8L143.0,212.3M186.8,189.7L188.0,190.8L189.7,191.0M226.4,233.2L228.2,234.8L230.4,235.8M209.1,213.5L208.6,215.7L208.1,218.0M201.8,193.6L200.6,193.2L200.2,192.1M113.8,298.8L112.4,299.1L111.4,299.9M138.5,217.2L137.4,218.4L137.0,220.0M134.2,258.4L132.7,258.8L131.3,258.9M152.5,259.1L154.4,260.0L156.5,260.1M49.0,244.5L48.5,242.8L46.9,241.9M94.4,315.7L92.8,316.8L90.8,316.7M95.2,244.2L95.9,246.7L98.2,247.8M85.7,244.0L85.8,246.5L86.7,248.8" stroke="#ffffbe" stroke-width="0.5" fill="none" stroke-linecap="round" stroke-linejoin="round"/><path d="M135.8,274.1L136.7,272.6L137.0,270.8M134.8,264.9L136.6,263.3L137.6,261.2M98.0,304.4L97.1,303.8L96.6,302.9M120.5,249.0L118.2,248.4L116.7,246.6M110.5,266.6L111.0,265.7L110.9,264.7M188.7,190.9L188.4,189.9L187.8,189.0M134.0,254.2L136.0,254.3L138.0,254.0M81.4,232.5L82.8,232.4L83.9,233.4M40.6,256.0L38.0,256.5L36.1,258.4M150.9,216.5L150.0,217.4L149.8,218.8M101.3,318.8L102.5,317.8L104.0,317.4M117.6,271.8L115.7,273.1L115.5,275.3M144.5,239.1L145.8,238.6L146.5,237.3M132.9,288.5L134.6,290.3L134.9,292.8M64.5,274.3L64.9,272.4L64.2,270.7M54.7,247.8L53.6,249.8L51.5,250.6M112.6,268.7L114.4,269.9L115.5,271.8M116.8,296.4L115.0,297.2L114.4,299.1M89.1,274.7L86.8,274.4L84.8,273.5M127.7,287.1L127.9,288.3L128.0,289.6M97.2,308.3L98.7,310.0L100.8,310.9M40.1,280.0L38.9,282.3L38.1,284.7M104.2,325.9L103.5,326.8L103.0,327.7M160.9,202.8L162.1,202.5L162.8,201.5M68.8,265.0L67.5,266.2L65.8,266.4M87.7,296.0L90.3,296.2L93.0,296.1M211.7,191.3L212.4,189.2L213.7,187.4M104.1,229.2L104.0,227.6L105.1,226.5M14.9,240.4L12.9,239.9L10.9,239.6M43.6,277.5L44.0,279.7L45.0,281.6M131.2,308.2L131.1,305.9L132.8,304.3M105.3,252.7L106.4,253.5L107.4,254.5M151.5,289.8L153.0,291.3L154.4,293.0M37.0,241.8L35.8,243.8L33.5,244.2M153.6,250.5L152.5,250.1L151.6,249.3M124.7,216.5L125.5,217.7L126.8,218.2M100.2,334.0L102.2,332.7L104.1,331.1M25.1,280.1L27.3,280.3L29.0,278.8M165.7,226.5L168.2,227.1L170.6,228.1M228.6,233.4L227.0,234.4L225.2,234.0M152.2,252.7L153.2,254.4L153.5,256.4M191.4,208.8L188.7,208.5L186.6,206.9M121.5,227.2L122.4,228.4L122.6,229.8M18.9,273.5L17.6,273.6L16.6,274.3M43.7,278.7L42.5,279.5L41.1,279.8M28.2,252.4L26.1,252.8L24.7,254.4M109.4,349.1L111.1,349.7L112.5,351.0M30.9,260.7L32.0,259.3L33.5,258.3M181.3,186.4L181.5,185.3L182.0,184.2M50.1,263.1L48.0,263.6L45.8,263.9M57.3,252.2L58.3,250.6L59.8,249.3M203.1,218.8L201.9,218.4L201.5,217.2M112.7,275.6L114.6,276.6L116.0,278.3M123.5,278.6L125.5,278.2L126.6,276.4M127.8,276.1L126.5,274.7L125.3,273.2M194.9,222.4L195.7,223.4L196.1,224.5M54.1,265.8L52.8,267.2L53.1,269.0M162.8,207.1L164.0,208.0L165.3,208.7" stroke="#267300" stroke-width="1.0" fill="none" stroke-linecap="round" stroke-linejoin="round"/><path d="M99.6,301.0L98.6,301.8L98.0,303.1M79.4,245.3L77.5,247.1L75.0,247.8M148.5,224.6L146.1,224.5L144.5,222.7M94.9,299.8L93.8,299.2L92.6,299.2M136.1,280.0L135.0,280.4L134.3,281.3M150.2,288.0L149.8,286.6L148.7,285.7M110.4,259.0L109.5,260.8L107.7,261.3M100.6,331.7L99.6,332.9L98.7,334.1M107.4,297.3L107.1,295.5L108.2,294.2M31.5,281.7L33.0,280.8L34.7,280.8M60.9,230.4L63.6,230.0L66.2,229.1M137.2,325.8L135.4,325.9L134.1,324.7M78.4,217.8L78.3,219.6L77.0,220.7M107.6,247.3L107.5,249.6L108.9,251.5M219.7,195.7L217.1,195.6L214.6,195.0M173.4,235.4L173.1,234.4L173.4,233.4M137.0,249.4L138.0,251.4L137.7,253.6M162.0,244.4L163.0,243.1L164.6,242.6M12.0,267.1L11.3,266.0L10.1,265.4M49.3,218.4L48.5,219.1L47.9,220.0M90.5,308.9L91.1,307.8L92.3,307.5M103.2,329.6L103.0,328.3L102.4,327.2M45.3,263.8L46.5,264.3L47.8,264.5M87.9,240.1L88.1,238.9L87.5,237.7M30.0,276.9L29.2,277.9L28.1,278.4M120.9,265.5L121.0,267.3L121.8,268.8M184.0,184.2L182.2,185.4L180.8,187.0M36.4,240.4L34.1,240.7L32.1,241.7M198.5,189.9L199.3,190.5L199.7,191.5M91.3,292.3L90.7,294.8L88.8,296.8M100.7,286.9L99.2,288.4L97.4,289.8M100.1,272.9L100.1,274.2L100.0,275.5M64.3,283.1L65.5,282.6L66.4,281.8M157.6,249.4L158.6,247.2L160.5,245.6M25.6,273.6L27.2,271.8L28.0,269.6M185.0,213.6L183.9,213.5L183.2,212.6M102.7,285.7L102.0,286.7L101.2,287.7M174.4,199.9L177.0,199.4L179.5,200.1M142.1,316.2L143.3,314.5L145.4,314.1M181.7,183.2L180.8,182.4L179.7,181.7M184.1,200.9L183.6,201.9L182.7,202.7M110.4,315.6L111.9,314.5L113.5,313.3M132.1,325.1L132.7,322.5L132.7,319.7M70.0,270.8L72.1,270.2L74.4,270.4M99.4,324.3L97.9,324.4L96.7,325.2M112.1,248.7L111.0,247.1L109.4,246.0" stroke="#ffffbe" stroke-width="1.0" fill="none" stroke-linecap="round" stroke-linejoin="round"/><path d="M46.3,250.4L47.3,250.7L48.4,250.5M146.4,287.5L145.7,288.8L145.5,290.2M135.8,294.7L136.9,294.5L137.9,294.8M65.8,228.3L67.0,227.2L68.5,226.6M46.2,267.2L43.9,267.6L41.6,267.8M62.7,267.3L61.0,267.9L59.1,267.4M152.6,295.4L151.6,293.9L152.2,292.2M173.9,236.4L172.3,235.5L170.5,236.1M64.7,249.6L63.2,248.7L62.8,247.1M140.9,254.9L143.4,253.8L146.0,253.0M75.8,288.9L73.6,290.0L71.2,290.1M112.1,316.2L112.2,313.5L111.3,311.0M96.4,244.5L98.5,244.6L100.4,244.0M51.3,245.2L52.8,243.9L54.7,243.5M48.7,231.8L48.8,230.7L48.3,229.7M41.7,290.1L42.6,289.1L43.8,288.5M78.1,215.3L79.1,217.0L78.5,218.9M40.4,292.0L39.3,290.3L39.5,288.3M156.6,316.6L159.0,317.5L161.1,319.1M147.6,275.0L147.2,273.6L147.9,272.3M224.1,229.6L223.3,227.7L223.5,225.7M52.4,205.4L54.1,206.6L55.9,207.4M84.7,266.0L85.7,265.4L86.9,265.2M96.1,257.5L97.5,258.1L98.9,257.9M147.3,219.9L149.3,221.0L150.8,222.8" stroke="#4ce600" stroke-width="0.5" fill="none" stroke-linecap="round" stroke-linejoin="round"/><path d="M54.2,252.4L55.5,252.3L56.8,251.7M99.4,287.0L100.4,287.0L101.4,287.3M74.5,301.4L73.5,302.2L72.4,302.5M66.4,211.2L63.8,211.8L61.2,211.4M78.6,263.0L79.6,263.4L80.6,263.1M107.5,322.7L109.2,323.0L110.6,324.1M60.5,280.2L61.9,281.1L62.3,282.7M63.5,227.7L64.1,228.7L65.1,229.3M105.9,289.1L107.0,289.2L108.0,288.7M77.5,299.0L77.8,296.8L79.2,295.0M128.2,323.8L128.6,322.8L129.6,322.4M157.3,224.7L156.7,226.1L156.1,227.5M127.5,315.5L125.3,314.9L123.1,314.8M147.1,325.2L146.3,323.6L144.6,322.9M52.7,204.2L54.1,205.1L55.5,205.9M95.5,274.6L93.8,275.5L92.3,276.7M162.8,206.5L162.8,205.2L163.5,204.0M14.9,277.5L17.5,277.6L20.1,278.2M143.2,302.6L145.7,302.1L148.1,302.6M15.8,273.9L18.1,275.3L20.5,276.6M121.5,347.0L123.2,347.1L124.5,348.2M91.2,306.9L90.4,307.8L89.3,307.8M136.9,310.9L137.3,312.8L136.6,314.6M145.0,213.1L147.0,212.6L148.8,211.4M61.3,285.7L58.7,286.2L56.0,285.9M53.7,289.1L53.6,290.2L53.4,291.2M109.2,254.9L109.7,253.0L108.7,251.2M60.8,271.2L63.3,270.1L64.2,267.5M47.1,281.0L46.8,283.1L46.9,285.3M53.6,290.0L53.3,292.5L51.8,294.6M70.2,215.8L68.9,216.8L68.6,218.4M81.7,306.7L80.7,307.8L80.7,309.3M129.0,306.0L131.3,304.5L133.9,305.1M90.2,292.0L91.9,291.8L93.4,292.6M67.9,274.5L67.8,276.5L68.5,278.4M141.4,238.2L142.8,238.1L143.8,239.2M134.9,284.8L136.9,284.3L138.6,285.5M89.9,248.7L88.1,248.0L86.8,246.5M143.7,286.0L143.2,284.1L143.6,282.2M148.0,247.7L148.3,250.0L148.2,252.4M149.0,242.3L149.4,243.8L150.7,244.4M214.9,224.6L216.1,223.1L218.0,222.4M60.5,264.7L62.1,264.0L63.9,264.0" stroke="#ffff00" stroke-width="1.0" fill="none" stroke-linecap="round" stroke-linejoin="round"/><path d="M186.4,220.9L184.5,220.1L182.5,220.4M114.5,281.1L116.4,282.4L116.9,284.5M88.0,251.1L87.2,252.1L86.2,253.0M133.0,236.1L132.7,235.1L132.1,234.3M139.2,266.0L139.3,268.0L140.5,269.6M173.3,233.3L173.2,231.7L173.0,230.0M207.5,217.9L205.4,216.7L203.8,214.9M57.9,247.4L58.7,248.1L59.7,248.3M76.0,229.6L75.6,228.4L74.5,227.8M141.9,243.3L143.6,244.1L145.5,244.6M31.6,280.1L31.2,278.4L31.1,276.8M109.0,292.0L106.4,292.6L105.1,295.0M198.6,238.3L199.9,238.1L201.0,238.6M164.6,203.1L163.0,201.4L162.1,199.3M191.6,207.6L190.1,208.3L188.6,207.6M48.0,244.0L46.8,243.0L46.3,241.5M14.5,242.9L14.9,244.8L16.6,245.7M135.4,239.7L135.8,240.8L136.9,241.3M69.5,240.9L71.3,238.9L73.7,237.6M122.4,284.5L120.4,283.7L118.3,282.8M18.2,238.7L18.2,236.9L18.4,235.2M102.2,295.8L103.8,297.6L104.0,300.0M78.5,295.0L78.1,292.9L77.4,290.9M163.8,205.7L162.8,205.3L161.7,205.7M106.4,255.3L105.3,257.2L104.4,259.1M211.9,219.1L211.7,218.1L211.0,217.3M150.8,222.8L152.3,222.3L152.9,220.8M76.6,222.3L78.0,220.5L79.8,219.2M63.4,255.3L63.4,256.6L64.2,257.7M40.7,243.2L42.2,243.7L43.7,243.1M113.9,284.6L114.3,286.2L113.7,287.8M78.9,267.3L77.0,268.0L76.3,269.9M116.7,323.1L118.8,321.3L120.3,319.1M33.6,254.0L31.8,254.0L30.1,254.3M111.0,350.5L110.5,348.6L111.2,346.8M138.3,219.3L139.2,217.7L138.7,216.0M126.4,282.1L125.5,283.2L125.6,284.5M186.2,185.7L185.7,183.7L184.0,182.4M46.1,221.7L46.3,219.8L47.1,218.2M51.6,257.1L54.0,255.9L55.9,253.9M151.9,248.9L151.6,250.9L152.9,252.3M116.4,275.0L115.5,273.0L113.7,271.7" stroke="#ffff00" stroke-width="1.0" fill="none" stroke-linecap="round" stroke-linejoin="round"/><path d="M102.2,277.6L103.7,279.6L106.3,279.9M71.8,265.2L71.7,267.1L72.2,269.0M110.0,302.9L111.6,301.4L113.1,299.7M111.4,246.5L113.3,247.8L115.7,247.9M134.7,250.2L134.9,252.1L135.3,254.0M22.5,268.8L23.6,269.7L24.5,270.8M150.9,317.0L150.0,315.2L148.1,314.8M37.6,215.8L35.1,215.5L33.2,217.3M135.8,253.2L133.8,253.6L131.8,254.1M51.3,229.3L48.8,230.5L46.7,232.2M20.5,270.8L18.8,271.7L16.9,271.5M191.0,188.5L189.3,189.0L188.3,190.5M159.6,219.2L161.5,219.3L162.9,218.1M197.5,219.8L199.0,218.4L199.4,216.5M101.0,253.5L99.6,251.8L99.8,249.6M97.2,298.4L98.7,300.2L100.4,301.7M109.0,290.5L108.9,292.4L109.0,294.3M95.8,239.9L97.4,239.7L99.0,240.1M28.8,283.6L30.0,283.6L30.8,282.9M115.0,287.5L116.0,285.6L117.4,284.2M47.4,207.0L48.0,208.0L48.3,209.2M170.5,226.6L169.2,225.6L168.6,224.1M101.6,226.5L101.8,225.1L101.7,223.8M126.3,321.6L124.6,319.5L122.2,318.3M38.8,275.2L37.6,272.9L37.3,270.3M56.6,234.3L55.8,233.5L55.2,232.6M170.8,202.5L171.5,203.8L171.9,205.1M120.9,340.1L120.1,342.0L118.2,342.8M170.3,203.0L168.8,202.4L167.2,202.5M112.1,344.2L112.1,345.7L112.2,347.2M188.3,198.6L186.3,200.1L185.1,202.3" stroke="#d3ffbe" stroke-width="1.0" fill="none" stroke-linecap="round" stroke-linejoin="round"/><path d="M34.2,275.9L33.5,276.7L32.5,277.0M165.5,192.2L165.4,189.7L167.2,187.9M103.3,279.4L102.1,278.3L100.6,277.7M86.4,269.3L84.1,269.6L82.1,268.6M98.4,265.2L99.5,265.9L99.8,267.2M148.5,269.9L148.5,268.3L149.3,266.9M105.2,352.7L106.2,353.3L107.4,353.2M105.6,261.8L106.3,262.6L106.8,263.5M164.4,237.8L164.7,235.2L165.6,232.6M145.5,299.2L144.5,298.9L143.5,298.5M150.9,238.8L151.3,237.7L151.3,236.6M197.5,221.5L196.1,219.5L194.3,217.8M193.0,183.1L190.7,182.5L188.6,181.3M131.3,307.0L129.5,307.0L127.8,307.2M140.5,303.9L142.5,305.5L145.0,305.5M99.2,328.6L98.8,327.0L98.0,325.5M137.7,334.1L138.1,335.3L137.5,336.4M123.6,318.3L123.0,320.9L123.6,323.6M138.0,305.5L136.2,305.1L135.3,303.6M97.5,297.6L96.6,297.2L95.7,297.4M120.7,234.2L120.3,233.3L119.8,232.4M100.8,260.0L99.6,259.4L98.2,259.6M196.2,220.4L197.2,222.6L197.2,225.1M128.2,245.6L127.8,244.7L126.9,244.3M217.3,190.5L217.3,188.5L216.3,186.6M129.1,279.6L130.0,279.1L131.1,279.2M193.3,210.5L194.7,210.0L196.1,209.4M125.6,244.7L124.3,243.1L124.7,241.0M75.6,262.2L76.6,262.9L77.8,262.6M210.1,215.8L208.9,214.1L207.7,212.3M149.4,297.5L149.2,299.9L148.4,302.3M60.9,215.1L60.0,217.2L58.4,218.8M50.3,277.4L52.6,277.0L54.1,275.2M44.1,245.4L46.6,245.9L49.2,246.5M78.8,292.8L77.9,295.4L79.3,297.7M33.5,281.7L35.2,280.3L37.3,279.8M228.7,236.9L226.2,237.0L223.8,237.4M105.7,316.3L104.0,316.2L102.6,315.2M210.0,213.5L208.8,215.0L208.5,216.8M145.1,323.3L144.5,324.2L143.5,324.5M113.0,253.8L110.6,254.1L108.4,253.0M198.3,186.8L199.6,186.4L200.5,185.4M92.9,231.0L91.1,230.5L89.5,231.3M121.6,251.3L121.3,249.4L120.6,247.7M10.9,239.7L12.4,240.4L13.6,241.4M180.1,194.0L181.2,194.2L182.1,193.6M97.9,328.4L95.7,328.9L93.5,329.0M35.9,243.0L35.8,241.0L35.2,239.0M25.3,236.4L26.2,234.4L27.7,233.0M105.0,282.4L103.7,281.1L102.9,279.6M164.2,213.2L164.3,212.1L164.9,211.1M154.3,247.9L154.5,249.0L154.9,250.1" stroke="#ffff00" stroke-width="0.5" fill="none" stroke-linecap="round" stroke-linejoin="round"/><path d="M53.8,288.0L54.8,289.7L56.5,290.7M110.2,343.8L111.7,343.1L112.6,341.7M52.2,204.3L51.2,203.5L50.5,202.5M62.3,285.3L63.1,283.3L65.1,282.7M17.5,283.5L16.3,281.9L15.8,280.0M93.9,282.5L95.0,282.8L95.8,283.7M154.9,201.2L154.3,200.3L154.1,199.2M114.1,238.3L113.8,236.4L113.5,234.5M86.6,315.3L84.9,314.6L83.1,314.1M105.5,348.4L107.1,346.6L109.2,345.2M156.6,304.2L157.9,304.1L158.8,305.1M102.2,347.4L101.2,347.9L100.8,348.9M176.8,219.5L174.9,219.3L173.6,218.0M129.2,338.0L131.5,337.3L133.8,337.9M46.9,250.8L47.1,249.3L46.4,248.1" stroke="#e69800" stroke-width="1.5" fill="none" stroke-linecap="round" stroke-linejoin="round"/><path d="M158.6,209.4L159.9,207.2L161.9,205.7M81.4,226.9L82.2,227.7L82.2,228.8M42.7,278.7L41.3,281.0L40.9,283.6M118.8,349.3L117.1,349.4L115.4,349.7M172.8,198.2L173.9,198.3L174.7,199.0M98.1,258.3L96.6,256.7L96.6,254.5M173.6,221.3L172.1,220.7L171.3,219.3" stroke="#e69800" stroke-width="0.5" fill="none" stroke-linecap="round" stroke-linejoin="round"/><path d="M184.2,241.3L186.3,240.9L188.0,242.1M138.6,284.5L137.5,282.9L136.1,281.6M104.7,255.9L106.8,256.1L108.8,256.3M184.1,196.6L184.7,194.3L184.1,191.9M187.4,235.3L188.8,236.2L189.8,237.4M200.4,210.0L201.7,207.7L204.0,206.4M101.5,350.9L100.2,351.1L99.0,351.6M77.4,230.2L79.3,228.5L80.5,226.3M110.2,297.8L109.9,300.1L110.6,302.4M29.6,246.3L30.3,244.5L29.3,242.8M130.2,283.7L132.3,282.0L133.5,279.6M58.4,233.5L56.8,231.6L55.7,229.3M156.7,238.3L155.3,237.4L153.7,237.5M121.2,312.3L123.3,311.7L125.2,312.7M149.5,308.6L148.2,310.5L147.4,312.6" stroke="#ffbebe" stroke-width="1.0" fill="none" stroke-linecap="round" stroke-linejoin="round"/><polygon points="64.0,288.0 72.0,272.0 85.0,264.0 100.0,266.0 118.0,272.0 128.0,285.0 140.0,300.0 152.0,300.0 162.0,310.0 150.0,335.0 105.0,360.0 85.0,322.0 70.0,296.0" fill="#4ce600" fill-opacity="0.7"/><path d="M90.2,278.9L92.4,278.5L94.7,278.7M77.2,292.1L78.8,291.1L79.6,289.4M85.9,275.1L83.8,272.7L82.4,269.9M130.0,309.3L130.5,307.6L131.5,306.0M98.5,287.8L101.1,290.3L104.2,292.2M134.0,293.5L132.1,292.5L130.7,290.8M147.3,325.9L146.2,327.7L145.2,329.5M84.5,313.4L82.4,314.6L80.7,316.4M105.2,303.8L105.1,305.6L104.3,307.3M102.2,346.3L102.5,348.1L102.9,349.8M107.4,318.4L105.2,319.0L104.0,321.0M124.3,331.1L121.1,329.7L117.7,328.8M107.7,350.0L105.8,347.9L106.1,345.2M122.5,336.2L121.2,335.3L119.6,335.2M130.7,309.4L128.3,310.5L125.8,311.1M74.4,294.3L72.0,294.7L69.7,294.2M109.8,349.7L112.4,351.6L112.5,354.8M101.2,301.6L103.0,303.5L105.6,303.7M124.3,325.6L126.9,328.3L129.2,331.1M110.6,320.1L108.3,322.2L105.4,323.1" stroke="#ffffbe" stroke-width="2.0" fill="none" stroke-linecap="round" stroke-linejoin="round"/><path d="M109.6,354.6L113.3,353.8L116.3,351.6M80.6,289.2L80.4,291.4L80.0,293.6M110.0,291.5L111.8,291.0L112.7,289.5M131.3,306.9L131.8,303.2L132.1,299.4M98.5,330.7L98.8,329.2L100.0,328.2M112.4,311.4L109.6,312.1L107.1,313.7M110.9,275.3L110.4,277.4L111.5,279.3M110.2,317.9L108.5,316.6L107.1,315.0M135.6,305.8L137.8,306.5L139.8,307.5M78.6,283.4L79.8,282.3L80.3,280.8M84.5,286.6L87.4,288.2L90.1,289.9M143.4,307.0L142.0,303.7L142.1,300.2M74.5,271.1L72.4,274.5L69.4,277.1M97.3,335.3L95.9,336.7L95.3,338.7" stroke="#d3ffbe" stroke-width="1.0" fill="none" stroke-linecap="round" stroke-linejoin="round"/><path d="M117.3,319.1L115.5,320.1L113.5,320.2M99.4,279.9L100.7,280.9L102.3,280.5M126.9,299.5L124.1,300.3L121.6,298.6M123.2,335.4L126.5,336.1L129.9,335.8M137.6,313.6L137.7,315.7L139.0,317.4M88.9,290.6L91.1,290.4L92.4,288.6M83.7,266.4L82.0,266.7L80.5,267.3M98.3,273.0L94.9,274.5L93.5,278.0M102.1,294.5L104.4,294.1L106.6,294.6M115.2,291.3L116.7,292.1L117.6,293.5M74.1,273.9L76.1,273.4L78.1,273.5M147.1,313.8L148.4,316.1L150.8,316.7M127.0,345.0L128.0,341.8L126.2,338.9M78.6,304.8L77.1,305.2L75.7,304.7M153.8,325.1L156.4,324.1L157.9,321.8M91.3,307.2L92.1,304.1L90.6,301.2M130.8,308.3L132.2,311.7L134.0,314.9M109.6,316.3L113.0,315.8L116.3,315.4M75.9,302.9L75.5,299.7L74.2,296.9M138.5,319.2L138.5,323.1L138.2,327.0M130.9,301.1L131.6,302.9L131.8,304.8M82.1,305.4L81.0,303.6L80.6,301.5M118.9,317.3L117.9,314.6L116.8,312.0M135.1,333.0L134.3,330.4L135.7,328.0M135.2,325.4L138.8,326.1L142.2,324.8M78.9,274.9L77.5,277.9L74.6,279.6M89.9,289.3L91.9,288.7L94.0,288.2M136.5,311.6L135.0,309.3L133.7,306.9M91.2,318.7L90.2,315.7L87.5,313.9M103.2,333.4L102.6,331.1L103.4,329.0M94.6,334.7L94.7,338.5L97.3,341.3M120.9,321.9L118.6,321.7L116.2,322.0M130.0,325.7L132.5,328.7L136.5,328.8M121.8,327.6L122.7,326.1L124.1,325.0" stroke="#267300" stroke-width="1.5" fill="none" stroke-linecap="round" stroke-linejoin="round"/><path d="M115.9,332.5L117.2,328.8L116.1,325.1M129.1,310.9L125.3,312.1L123.6,315.7M127.1,342.8L128.1,340.7L128.5,338.5M108.9,355.9L108.0,354.4L108.3,352.7" stroke="#ffffbe" stroke-width="2.5" fill="none" stroke-linecap="round" stroke-linejoin="round"/><path d="M154.3,321.4L156.3,321.9L158.2,322.4M80.6,273.5L79.5,277.1L79.6,280.8M122.3,326.1L125.6,325.7L128.5,327.3M77.5,269.0L74.7,268.2L72.8,266.0M106.0,292.8L103.6,293.5L101.4,292.5M81.2,306.8L81.1,308.4L80.0,309.6M126.2,346.1L123.9,346.0L121.7,345.5M112.3,284.1L110.0,282.7L109.1,280.2M143.9,335.8L143.8,338.3L144.8,340.5M123.7,346.2L123.5,348.6L122.3,350.8M76.5,277.8L77.9,279.1L79.9,279.3M139.7,322.6L140.9,320.0L143.6,319.1M107.7,330.9L108.1,334.5L106.0,337.3M119.5,304.3L121.0,302.2L123.3,301.0M129.5,301.8L131.0,299.8L133.2,298.8" stroke="#ffff00" stroke-width="1.0" fill="none" stroke-linecap="round" stroke-linejoin="round"/><path d="M141.6,327.7L138.3,327.7L135.2,326.6M107.4,309.3L108.2,311.3L109.0,313.4M143.5,314.8L145.1,314.4L146.6,313.9M107.7,317.8L106.0,317.6L104.2,317.3M151.7,304.7L152.2,306.8L151.7,308.9M85.5,274.8L87.8,271.7L89.5,268.2M112.1,307.3L110.3,306.9L108.5,307.6M136.4,299.6L135.5,296.3L135.9,292.9M80.8,295.6L84.0,293.8L86.0,290.7M81.2,295.8L79.7,295.3L78.9,293.9M102.1,310.5L104.5,310.7L106.9,310.3M84.9,265.3L86.6,264.8L88.0,263.6M85.4,282.7L83.9,283.1L83.2,284.4M89.2,307.5L92.0,309.5L92.4,313.0M104.6,331.9L101.0,332.8L97.7,334.6M126.4,333.1L130.0,332.5L132.4,329.7" stroke="#267300" stroke-width="2.5" fill="none" stroke-linecap="round" stroke-linejoin="round"/><path d="M112.9,296.5L111.5,298.1L110.4,300.0M107.2,326.4L104.1,325.6L101.0,324.9M102.4,345.8L100.4,344.9L99.2,343.0M74.6,300.4L74.7,302.0L73.7,303.4M75.3,293.9L76.7,290.8L75.7,287.5M72.0,287.5L72.0,284.9L70.1,283.2M99.5,295.7L99.9,298.6L102.2,300.5M82.3,266.9L81.2,264.3L78.8,262.6M72.6,297.9L74.1,299.9L76.5,300.8M92.8,274.4L93.0,272.0L93.8,269.7M138.3,322.1L138.6,324.1L140.1,325.4M110.9,275.5L110.6,271.5L112.6,268.1M71.8,278.4L71.8,280.1L71.7,281.7M107.2,343.0L105.1,342.0L103.2,340.9M80.6,289.9L82.5,289.8L83.7,288.2M133.5,331.6L130.7,330.5L128.7,328.2M121.7,319.3L122.7,317.8L122.7,316.0M106.0,308.4L106.5,311.8L107.4,315.1M142.1,301.6L141.6,298.1L143.4,295.2M145.7,302.9L146.2,304.7L147.2,306.4M103.8,271.0L107.4,272.4L110.3,275.0M113.9,303.1L112.0,304.2L109.8,304.7M96.8,312.1L94.0,313.7L90.8,313.5M125.1,318.5L122.9,320.4L120.9,322.5M131.9,339.7L132.8,337.6L135.0,336.7M125.0,292.5L127.1,293.0L128.6,294.5M115.9,331.2L113.2,328.7L109.8,327.2M77.7,278.0L77.1,275.6L75.0,274.3M118.3,311.5L116.8,308.3L113.8,306.4M114.4,345.1L112.6,343.9L112.0,341.8M135.3,324.3L134.9,326.0L134.1,327.5" stroke="#267300" stroke-width="2.0" fill="none" stroke-linecap="round" stroke-linejoin="round"/><path d="M120.2,335.1L119.7,333.4L118.1,332.6M118.2,332.7L119.5,329.2L119.3,325.5M88.6,308.0L88.0,305.3L89.7,303.0M122.5,336.7L122.7,333.5L124.7,331.0M92.6,273.2L94.7,270.0L94.9,266.1M106.9,322.9L105.9,324.9L104.5,326.6M86.4,264.5L87.4,266.3L88.2,268.2M107.3,288.7L108.7,291.1L109.0,293.8M87.9,293.3L89.4,292.2L89.8,290.5M117.6,297.2L119.6,296.3L121.0,294.6M105.1,275.6L107.8,276.3L110.1,274.7M105.5,331.7L108.6,331.4L111.7,331.1M70.8,296.7L69.4,297.6L67.7,297.4M116.2,331.2L119.2,331.6L122.0,330.6M92.5,270.7L90.4,268.7L90.2,265.9M127.4,341.2L124.7,342.3L122.0,343.4M110.6,277.7L108.3,279.3L105.6,279.8M87.0,322.3L85.9,319.6L83.7,317.6M145.9,320.3L143.9,319.8L141.8,319.6M75.9,283.6L75.9,281.7L77.4,280.6M114.0,344.4L111.5,345.4L108.9,346.0M155.5,306.2L157.3,308.4L158.1,311.1M126.9,339.0L125.3,337.4L123.1,337.3" stroke="#4ce600" stroke-width="1.0" fill="none" stroke-linecap="round" stroke-linejoin="round"/><path d="M99.9,319.5L98.3,320.0L97.2,321.2M94.6,294.4L95.3,296.0L94.4,297.5M125.8,339.6L124.3,341.8L123.7,344.3M86.2,269.2L85.4,267.0L83.2,266.2M133.9,326.9L131.7,324.6L129.8,322.1M106.0,308.7L107.3,307.4L108.4,305.8M143.8,304.3L147.3,306.1L150.8,307.8M150.4,301.7L152.4,302.5L154.6,302.8M73.9,282.6L75.2,283.7L76.9,283.8M112.4,347.6L113.0,350.6L112.9,353.5M104.2,347.5L102.1,348.3L99.9,347.9M151.8,312.6L149.3,312.2L146.9,311.5M88.7,298.2L88.4,301.5L89.1,304.7M78.5,269.5L81.7,268.6L84.9,267.3M70.5,296.6L70.0,294.3L67.9,293.1M97.2,322.7L101.0,322.7L104.5,321.2M91.7,267.5L89.4,266.2L86.7,266.1M91.6,334.1L94.8,336.2L97.0,339.3M110.7,295.5L109.0,293.9L106.6,293.6M146.0,321.0L148.1,321.3L150.0,320.4M131.4,295.6L132.1,296.9L133.2,298.1M115.2,291.9L116.9,291.2L117.7,289.5M129.4,287.4L131.0,290.8L133.9,293.3M78.5,273.8L77.1,271.8L77.6,269.5M126.9,311.6L127.6,307.6L130.2,304.6M145.7,319.6L148.0,322.4L149.4,325.9M93.7,268.1L92.0,267.7L91.2,266.1M119.9,320.9L118.7,321.9L117.7,323.0M153.3,315.5L155.1,319.0L158.1,321.5M77.0,282.6L75.3,283.6L73.5,284.2M143.8,307.9L146.8,309.1L150.0,308.8" stroke="#267300" stroke-width="1.0" fill="none" stroke-linecap="round" stroke-linejoin="round"/><path d="M145.0,307.7L143.4,307.4L141.8,307.1M132.1,305.6L129.9,302.9L127.7,300.2M109.2,305.7L112.5,306.4L114.2,309.3M135.3,304.0L136.3,301.3L136.1,298.5M100.7,299.4L100.6,296.4L100.8,293.5M92.4,274.4L96.2,273.5L98.5,270.5M122.0,325.4L122.7,321.7L122.4,318.1M101.8,334.5L100.0,332.6L100.1,330.0M88.0,283.0L89.8,283.9L90.7,285.5M149.1,325.0L146.8,325.7L145.3,327.6M92.2,315.7L95.6,317.3L99.2,316.2M141.3,314.1L140.0,317.8L138.6,321.5M120.8,318.5L117.1,319.6L114.8,322.8M108.1,313.8L105.9,314.4L103.7,314.0" stroke="#4ce600" stroke-width="2.5" fill="none" stroke-linecap="round" stroke-linejoin="round"/><path d="M117.6,288.1L119.2,290.2L119.5,292.8M157.7,313.7L156.0,314.5L154.2,315.3M117.4,296.6L120.8,294.7L124.7,294.9M118.5,350.0L121.7,348.8L125.0,349.5M140.3,305.7L142.8,308.6L146.5,308.6M97.0,273.9L93.5,272.8L92.1,269.5M142.7,309.8L142.5,311.3L142.0,312.8M110.5,294.7L111.7,293.4L113.4,292.9M86.2,311.2L89.5,310.6L92.2,312.4M140.2,326.6L138.1,323.8L135.9,321.1M139.4,315.0L140.1,318.1L138.3,320.6M136.5,336.3L138.9,335.1L140.3,332.8M141.3,319.3L138.9,317.7L136.0,317.9M102.4,270.2L105.4,272.3L108.8,273.8M101.3,308.8L98.5,311.1L97.0,314.5M122.7,279.6L125.9,281.0L128.9,282.7M101.4,335.7L104.2,336.6L106.9,337.8M74.5,273.1L73.9,271.6L73.3,270.1M82.5,300.4L85.5,300.5L87.8,298.6M105.5,323.3L102.1,325.0L98.2,324.2M148.7,313.4L144.9,313.9L141.7,316.1" stroke="#d3ffbe" stroke-width="2.0" fill="none" stroke-linecap="round" stroke-linejoin="round"/><path d="M108.4,310.9L110.7,309.3L111.5,306.8M91.5,310.6L88.5,311.7L85.3,311.9M98.1,325.8L96.1,328.8L92.7,329.9M105.9,319.3L103.3,320.9L101.1,323.0M151.1,310.2L150.0,311.1L148.7,311.8M104.5,347.9L100.7,347.9L97.3,346.3M89.8,316.4L90.3,318.1L92.0,318.8M101.6,325.1L102.7,323.2L102.2,321.1M128.8,304.4L129.2,307.6L129.5,310.7M133.7,323.0L131.8,323.0L130.2,322.0M147.4,334.0L150.2,331.5L153.3,329.4M111.7,344.3L114.1,342.5L115.7,340.0M110.6,293.5L108.9,292.3L106.8,291.9M121.8,339.8L120.7,338.2L118.7,337.9M71.1,296.6L68.8,294.8L66.0,294.3M84.6,319.5L86.1,318.0L87.5,316.5M93.3,332.3L91.4,332.9L89.9,334.1M78.8,277.3L77.5,275.8L77.6,273.8M145.5,309.5L148.6,311.3L151.8,312.9M127.8,345.1L126.5,347.3L124.5,348.8M103.2,282.1L103.2,279.9L103.9,277.8M147.1,318.4L145.2,319.7L144.1,321.7M110.3,347.3L114.1,347.5L116.8,344.9M104.3,304.3L103.9,301.2L105.0,298.3" stroke="#ffff00" stroke-width="1.5" fill="none" stroke-linecap="round" stroke-linejoin="round"/><path d="M130.4,296.4L131.9,293.2L133.2,289.9M151.3,300.1L149.3,300.4L147.4,301.2M77.2,305.4L74.4,306.6L71.9,308.3M98.7,286.6L101.0,284.6L101.6,281.6M87.9,268.8L89.2,267.9L90.2,266.6M83.6,291.5L84.3,289.9L85.6,288.7M135.3,331.3L132.9,328.7L129.4,328.6M125.1,340.8L126.4,341.6L127.9,341.6M138.5,333.2L139.6,331.8L141.1,331.0M90.6,273.2L93.6,270.6L97.5,270.9M82.1,305.2L81.6,308.5L83.1,311.5M121.0,335.4L121.2,337.9L122.0,340.4M103.5,307.3L103.3,308.9L102.6,310.3M86.4,291.4L88.4,288.5L90.4,285.6M91.2,280.6L91.4,276.8L92.3,273.1M92.9,267.0L91.3,268.0L90.8,269.9M93.9,271.9L94.9,269.3L97.5,268.3M80.8,285.6L82.8,284.3L85.2,284.9M124.6,334.7L122.4,335.0L120.3,334.7M112.8,336.5L110.8,336.7L109.1,338.0M110.1,290.0L109.1,286.3L111.4,283.2M110.2,348.9L110.1,351.8L110.6,354.6M150.6,331.9L152.0,331.1L153.1,330.1M141.4,308.2L144.6,310.4L148.3,311.4M112.1,302.0L109.9,302.5L107.6,301.8M131.0,323.1L130.4,326.2L130.4,329.4M144.2,325.7L144.3,328.9L144.0,332.2M124.5,338.2L126.3,339.0L126.8,340.9M117.6,312.7L116.9,316.3L116.8,319.9M95.0,281.3L98.0,282.5L101.3,282.0M123.2,341.9L122.9,343.7L122.0,345.1M140.9,339.2L143.8,339.9L146.7,339.3M99.3,336.7L96.7,337.7L94.9,339.8M96.6,322.4L92.7,322.4L89.3,324.1M95.0,314.2L92.5,313.9L90.1,312.9M125.4,321.6L129.2,322.2L132.2,319.6M117.0,282.7L120.0,280.4L123.6,279.1" stroke="#4ce600" stroke-width="1.5" fill="none" stroke-linecap="round" stroke-linejoin="round"/><path d="M116.0,280.4L115.2,282.9L116.3,285.4M148.3,329.6L147.3,333.1L146.9,336.8M97.5,287.1L96.5,284.4L94.9,281.9" stroke="#ffff00" stroke-width="2.5" fill="none" stroke-linecap="round" stroke-linejoin="round"/><path d="M148.8,310.3L149.8,308.3L151.9,307.6M117.5,305.1L117.6,303.2L117.2,301.4" stroke="#b4a20a" stroke-width="2.5" fill="none" stroke-linecap="round" stroke-linejoin="round"/><path d="M103.7,290.7L105.0,289.5L104.9,287.7M112.2,291.5L113.9,290.9L115.2,289.7M93.1,314.9L95.1,316.2L97.4,315.5M117.8,311.8L117.1,313.5L117.8,315.3M94.6,308.9L92.8,306.1L90.0,304.3M103.5,316.2L104.8,314.9L106.4,314.1M139.6,304.2L136.7,303.2L133.9,302.1M97.9,266.1L95.5,267.2L93.5,269.0M153.9,319.1L154.0,316.9L154.0,314.7M80.4,272.6L78.9,270.0L78.3,267.0M116.3,344.7L117.4,343.3L117.5,341.6M135.6,303.1L136.9,299.7L139.2,296.9M146.9,318.7L149.5,316.9L151.8,314.8M126.6,298.4L128.9,298.5L131.1,298.5M120.9,325.8L121.8,329.4L124.8,331.7M129.5,330.9L129.1,332.3L128.5,333.7M153.1,322.0L155.8,320.3L157.4,317.6M112.0,342.4L113.1,344.5L114.4,346.5M145.9,325.6L147.9,326.3L150.0,326.2M67.6,291.1L66.4,288.8L64.0,287.9M125.4,311.2L128.4,311.0L130.9,312.9M83.4,310.2L80.7,310.6L78.0,310.1M113.8,341.9L114.1,339.9L113.3,338.1M108.8,331.0L109.2,328.6L110.4,326.3M144.8,301.2L146.5,300.2L147.9,298.9M94.4,284.7L91.5,286.8L88.4,288.6M120.4,309.5L121.3,312.7L122.5,315.9M89.5,271.3L91.9,272.6L92.5,275.4M98.8,274.8L101.5,273.2L102.6,270.2M112.0,317.9L115.3,316.3L116.2,312.8M78.4,287.1L81.2,284.8L81.2,281.2" stroke="#4ce600" stroke-width="2.0" fill="none" stroke-linecap="round" stroke-linejoin="round"/><path d="M127.3,305.3L127.0,306.8L127.0,308.3M140.5,304.5L144.0,302.6L146.5,299.5M124.0,285.3L124.7,286.9L126.3,287.6M138.3,313.5L137.7,310.9L136.2,308.8M94.1,308.7L90.3,309.0L86.5,308.9M91.4,326.9L93.2,324.3L94.3,321.3M106.7,328.9L103.5,329.1L100.9,331.0M112.2,311.9L111.0,313.3L109.7,314.5M70.3,295.1L68.8,296.8L66.6,297.3M92.2,280.1L92.9,278.7L93.1,277.1M116.7,346.4L114.6,348.0L114.1,350.5" stroke="#ffffbe" stroke-width="1.0" fill="none" stroke-linecap="round" stroke-linejoin="round"/><path d="M128.7,327.2L127.5,324.1L125.4,321.6M76.9,306.2L78.7,307.5L80.3,309.2M123.0,306.5L125.1,309.0L128.3,310.2" stroke="#b4a20a" stroke-width="1.5" fill="none" stroke-linecap="round" stroke-linejoin="round"/><path d="M79.8,268.7L79.6,265.8L79.9,263.0M122.4,288.9L123.5,286.5L126.2,285.7M88.7,307.7L85.0,307.4L81.9,305.3M97.5,277.8L97.1,279.9L95.8,281.6M116.7,272.0L117.1,269.2L117.7,266.4M142.7,307.3L141.3,304.7L139.5,302.2M76.0,282.4L73.9,281.5L71.7,282.2M94.8,337.8L95.5,335.5L96.6,333.4M124.9,345.9L127.5,345.4L130.1,344.3M112.2,328.7L114.4,329.4L116.7,329.1M77.0,271.9L76.7,270.0L75.5,268.5M119.9,283.6L119.9,286.4L122.0,288.3" stroke="#ffffbe" stroke-width="1.5" fill="none" stroke-linecap="round" stroke-linejoin="round"/><path d="M125.0,335.2L121.6,337.0L120.7,340.8M98.8,314.4L98.3,316.1L96.8,317.1M141.0,338.4L143.1,336.0L145.9,334.5M131.8,333.1L133.4,334.0L134.8,335.4M105.2,323.9L102.2,323.3L99.4,324.7M111.1,295.0L109.6,294.5L108.1,295.0M145.4,326.2L148.0,326.5L150.5,327.2M76.8,298.3L76.3,294.4L75.3,290.7M151.9,330.0L151.1,326.8L150.3,323.5M138.3,334.7L135.2,336.3L131.9,335.1M92.5,311.9L93.5,308.6L93.5,305.1M73.0,298.2L74.0,297.0L73.7,295.5M145.8,323.0L142.2,322.5L139.7,319.8M132.0,313.0L129.9,315.9L129.8,319.5M110.8,315.6L107.0,314.5L103.3,313.4M128.9,295.8L130.7,297.4L132.0,299.4M91.2,292.7L93.1,293.5L94.0,295.5M120.7,292.0L119.2,292.6L117.6,292.8M130.7,289.5L130.0,285.8L130.0,282.1M101.9,309.5L101.3,307.4L99.7,305.9M115.2,288.5L113.2,289.2L111.2,288.3M105.5,330.4L107.3,327.7L107.2,324.4M73.6,283.5L73.5,286.2L75.2,288.5M109.1,337.5L105.6,338.2L103.0,340.7M118.3,313.5L120.0,310.4L118.9,307.0M126.4,310.1L127.6,313.4L129.8,316.3M112.2,276.7L115.8,277.5L119.3,275.9M124.8,284.4L122.6,286.5L121.2,289.3M113.7,340.4L111.6,341.3L110.9,343.4M92.8,322.1L91.2,322.3L89.7,322.8M101.4,332.9L101.5,329.1L102.5,325.3M104.7,307.3L103.8,309.6L101.8,311.1M137.3,317.2L139.1,317.7L140.9,317.7" stroke="#ffff00" stroke-width="2.0" fill="none" stroke-linecap="round" stroke-linejoin="round"/><path d="M123.6,297.7L125.0,298.3L126.2,299.2M101.4,350.2L100.4,351.9L98.5,352.4M112.3,280.4L116.0,279.4L118.7,276.8M120.3,295.6L122.4,295.7L124.4,295.5" stroke="#b4a20a" stroke-width="1.0" fill="none" stroke-linecap="round" stroke-linejoin="round"/><path d="M158.2,315.8L159.0,317.6L158.1,319.4M120.0,300.2L121.2,297.1L122.1,293.9M102.2,281.1L105.1,283.6L108.3,285.4M108.0,334.7L108.7,332.3L109.7,330.0M87.9,311.9L87.4,314.7L87.9,317.4M107.5,325.4L105.7,323.0L105.9,320.0" stroke="#d3ffbe" stroke-width="2.5" fill="none" stroke-linecap="round" stroke-linejoin="round"/><path d="M135.8,310.8L133.1,309.3L130.0,309.5M116.6,346.4L118.5,346.8L119.6,348.5M145.7,326.4L146.0,323.1L145.9,319.8M75.6,287.7L73.4,288.6L71.1,289.0M121.8,310.4L119.9,310.6L118.2,311.2M97.0,307.9L97.3,304.2L99.5,301.2" stroke="#b4a20a" stroke-width="2.0" fill="none" stroke-linecap="round" stroke-linejoin="round"/><path d="M72.9,296.7L69.6,298.5L66.1,299.9M109.6,300.5L107.2,302.2L107.0,305.2M113.6,351.4L116.5,352.4L119.5,352.0M113.8,302.6L112.5,301.6L111.3,300.4M131.9,328.3L134.8,330.3L136.9,333.0M98.4,311.5L96.5,310.7L94.6,311.4M125.3,301.3L123.8,302.8L122.5,304.4M116.5,350.4L115.9,353.5L113.6,355.7M127.8,301.0L125.7,300.8L123.8,300.1M125.4,291.3L124.6,290.0L123.4,288.9M118.9,322.1L121.1,321.7L123.4,321.7M107.1,337.5L103.6,338.8L102.1,342.1M115.3,328.6L113.6,326.4L110.8,326.2M96.2,327.8L99.2,325.2L100.0,321.3M112.4,271.1L115.1,272.6L117.8,274.3M105.2,352.8L107.4,352.9L109.2,351.7M110.2,303.0L113.8,303.9L117.2,305.2M122.5,349.9L123.0,351.7L124.4,352.8M134.1,306.2L130.7,304.5L126.9,305.1M135.2,307.5L137.5,305.9L138.0,303.2M100.4,331.6L98.4,330.8L96.2,330.3M113.4,276.7L115.1,277.4L116.8,278.2M89.5,310.3L87.5,310.6L86.1,312.0M91.5,320.2L91.7,318.1L92.9,316.4M107.0,348.6L108.1,346.8L109.6,345.3" stroke="#d3ffbe" stroke-width="1.5" fill="none" stroke-linecap="round" stroke-linejoin="round"/><g filter="url(#rough)"><polygon points="41.0,208.4 50.6,206.8 55.3,211.2 65.8,208.7 67.2,214.1 59.2,216.4 53.4,213.1 45.8,214.5 41.0,212.6" fill="#267300" /><polygon points="31.5,250.3 38.2,247.5 49.6,247.5 53.4,252.3 50.6,256.1 42.0,255.1 37.2,258.0 31.5,255.1" fill="#267300" /><polygon points="51.5,240.8 54.4,239.8 55.3,250.3 52.5,252.3" fill="#267300" /><polygon points="70.6,233.2 73.5,232.2 74.4,240.8 71.6,241.8" fill="#267300" /><polygon points="77.3,228.4 81.1,227.4 82.1,233.2 78.2,234.1" fill="#267300" /><polygon points="61.1,279.0 72.5,273.2 84.0,271.3 95.4,267.5 100.0,269.4 100.0,277.1 91.6,280.9 84.0,284.7 76.3,286.6 66.8,286.6 61.1,283.7" fill="#267300" /><polygon points="18.1,281.8 24.8,283.2 30.5,284.3 38.2,286.6 47.7,290.0 54.4,285.1 64.9,282.4 70.2,286.2 71.0,294.2 57.3,296.1 49.6,296.1 40.1,295.0 35.3,291.2 26.7,289.3 17.2,285.5" fill="#267300" /><polygon points="44.8,262.7 52.5,260.8 53.4,262.7 45.8,265.2" fill="#267300" /><polygon points="63.0,258.0 66.8,257.0 67.7,259.9 63.9,260.8" fill="#267300" /><polygon points="101.0,265.6 106.7,261.8 113.4,260.8 118.2,264.7 122.9,270.4 125.8,275.2 121.0,280.9 113.4,279.0 108.6,282.8 102.9,279.0 100.0,273.2" fill="#267300" /><polygon points="80.0,250.3 91.5,247.5 98.1,250.3 101.0,254.2 91.5,252.3 80.0,254.2" fill="#267300" /><polygon points="116.3,250.3 125.8,248.4 137.3,246.5 143.0,248.4 137.3,252.3 125.8,252.3 118.2,253.2" fill="#267300" /><polygon points="123.9,225.5 129.6,224.6 131.5,230.3 126.8,232.2" fill="#267300" /><polygon points="110.5,229.4 115.3,228.4 116.3,233.2 111.5,233.2" fill="#267300" /><polygon points="80.0,275.2 91.5,271.3 98.1,275.2 99.1,286.6 91.5,290.4 80.0,286.6" fill="#267300" /><polygon points="129.6,284.7 137.3,282.8 139.2,294.2 131.5,296.1" fill="#267300" /><polygon points="65.0,287.5 70.6,284.7 79.0,281.9 87.5,280.9 93.1,282.8 95.9,288.4 91.2,290.3 83.7,289.4 79.0,293.1 72.5,295.0 65.0,294.0" fill="#267300" /><polygon points="76.2,302.5 83.7,299.7 91.2,300.6 96.8,298.7 99.6,304.3 97.8,312.8 93.1,317.5 87.5,318.4 82.8,313.7 79.0,308.1" fill="#267300" /><polygon points="105.3,291.2 113.7,287.5 121.2,286.6 127.7,291.2 128.7,298.7 124.9,305.3 119.3,306.2 111.8,302.5 107.1,297.8" fill="#267300" /><polygon points="132.4,287.5 139.0,284.7 143.7,288.4 142.7,295.0 137.1,298.7 133.4,295.9" fill="#267300" /><polygon points="106.2,308.1 113.7,306.2 119.3,309.0 117.4,313.7 109.9,314.6" fill="#267300" /><polygon points="135.2,320.3 142.7,318.4 148.3,324.0 147.4,332.4 141.8,335.2 137.1,330.6 134.3,324.9" fill="#267300" /><polygon points="111.8,336.2 119.3,334.3 122.1,341.8 128.7,339.9 126.8,349.3 121.2,354.0 113.7,356.8 105.3,357.7 101.5,351.2 105.3,344.6 109.9,341.8" fill="#267300" /><polygon points="95.0,328.7 99.6,326.8 102.5,332.4 105.3,341.8 100.6,345.5 97.8,338.1" fill="#267300" /><polygon points="121.2,310.9 132.4,308.1 136.2,311.8 126.8,317.5 121.2,316.5" fill="#267300" /><polygon points="153.0,308.1 158.6,310.0 159.6,317.5 155.8,319.3" fill="#267300" /><polygon points="232.1,218.4 236.8,220.3 241.6,222.3 246.4,227.0 241.6,228.0 236.8,225.7 233.0,223.2" fill="#267300" /><polygon points="212.0,188.9 219.7,191.7 216.8,194.0 212.6,191.7" fill="#267300" /><polygon points="45.8,242.7 51.5,240.8 52.5,252.3 47.7,256.1" fill="#4ce600" /><polygon points="42.9,236.0 45.8,235.1 46.8,245.6 43.9,246.5" fill="#ffbebe" /></g><path d="M114.1,278.9L113.8,276.8L112.8,275.0M90.9,270.0L89.0,270.2L87.1,270.9M72.6,213.5L70.9,214.7L69.1,215.7M152.1,295.4L151.6,293.5L152.2,291.6M122.6,321.3L121.4,321.6L120.4,321.0M11.4,277.8L9.6,277.9L7.9,277.2M117.9,346.8L116.3,345.6L114.5,346.1M101.0,292.7L102.1,292.9L103.2,292.9M103.9,248.5L103.8,249.8L104.6,250.7M65.6,270.7L65.7,272.9L67.4,274.3M62.6,283.9L63.9,282.7L65.3,281.4M37.5,270.6L36.7,269.0L37.1,267.2M151.4,259.0L150.3,259.7L148.9,259.6M38.6,271.0L38.4,269.7L37.7,268.5M208.7,214.3L209.7,216.4L209.6,218.7M45.8,260.7L43.7,260.5L41.7,261.2M155.0,218.8L153.5,218.2L152.3,217.3M85.0,258.6L85.8,256.9L86.0,255.0M111.9,322.1L109.9,323.0L108.3,324.6" stroke="#267300" stroke-width="1.0" fill="none" stroke-linecap="round" stroke-linejoin="round"/><path d="M70.8,243.4L70.4,242.4L70.1,241.3M132.2,259.4L134.3,259.5L135.9,261.0M124.8,343.3L126.3,341.3L128.7,341.1M12.7,242.4L11.5,243.5L11.5,245.2M56.2,211.1L57.3,211.3L58.4,211.2M129.3,331.0L131.1,331.4L132.4,332.8" stroke="#d3ffbe" stroke-width="1.0" fill="none" stroke-linecap="round" stroke-linejoin="round"/><path d="M16.5,278.0L16.7,277.0L16.4,276.1M91.9,251.1L93.3,253.1L93.5,255.6" stroke="#ffbebe" stroke-width="1.5" fill="none" stroke-linecap="round" stroke-linejoin="round"/><path d="M112.6,250.5L111.5,250.5L110.7,251.2M40.7,249.4L40.2,247.9L40.2,246.4M124.3,218.8L124.2,217.2L123.5,215.7M188.6,208.7L190.0,208.1L191.4,207.6M130.6,293.9L132.8,293.3L134.9,294.1M197.9,194.6L196.7,194.7L195.6,194.9" stroke="#d6bc14" stroke-width="0.5" fill="none" stroke-linecap="round" stroke-linejoin="round"/><path d="M165.4,231.6L164.3,230.0L163.1,228.5M128.1,294.1L129.5,294.2L130.5,295.3M183.8,186.2L182.8,187.2L182.7,188.6M110.1,221.2L110.6,223.0L111.9,224.5M107.4,268.6L108.5,268.8L109.5,268.4M120.1,328.0L121.1,329.9L122.6,331.4M123.7,226.7L124.8,226.9L125.9,226.9M142.1,216.1L141.5,217.2L140.8,218.2M38.8,217.1L40.0,218.6L40.0,220.6M177.8,207.8L179.7,208.2L181.6,208.0M42.9,207.1L42.0,206.3L40.8,206.0M149.4,303.8L151.0,304.1L152.6,303.7M101.2,253.1L101.0,255.4L99.3,256.9M63.9,264.8L65.9,265.6L67.8,266.6M80.4,281.6L82.4,281.1L84.3,281.8M131.1,299.8L132.1,299.8L133.1,299.5M97.6,327.6L97.5,329.5L96.8,331.2M144.3,247.7L143.9,246.2L142.9,245.0M137.9,236.2L139.2,237.0L139.9,238.4" stroke="#ffffbe" stroke-width="1.0" fill="none" stroke-linecap="round" stroke-linejoin="round"/><path d="M180.8,211.2L181.4,212.0L181.7,213.0M33.5,259.5L32.8,257.9L31.9,256.5M199.2,214.2L199.0,215.4L198.9,216.7M87.1,262.8L88.7,261.4L90.5,260.3M209.3,214.5L211.6,213.6L213.7,212.3M34.9,243.7L34.2,245.4L34.1,247.2M38.0,236.2L38.4,233.8L39.9,232.0" stroke="#ffffbe" stroke-width="0.5" fill="none" stroke-linecap="round" stroke-linejoin="round"/><path d="M97.1,259.9L96.0,258.8L94.4,258.7M108.4,348.7L110.0,349.8L112.0,349.6M181.7,191.2L180.8,190.6L180.2,189.8M96.7,254.3L97.9,255.8L100.0,256.0M27.1,247.2L28.9,246.1L30.5,244.9M132.0,249.2L131.2,250.8L131.3,252.6" stroke="#4ce600" stroke-width="0.5" fill="none" stroke-linecap="round" stroke-linejoin="round"/><path d="M97.6,307.2L99.9,306.3L101.6,304.7M77.1,225.5L79.2,224.4L81.2,222.9" stroke="#ffbebe" stroke-width="1.0" fill="none" stroke-linecap="round" stroke-linejoin="round"/><path d="M56.2,288.6L57.5,290.1L59.5,290.1M147.7,289.2L149.6,287.6L151.8,286.5M75.8,279.5L75.3,278.4L75.4,277.2M42.2,210.8L40.0,210.9L37.9,211.9M119.4,270.9L117.0,270.3L114.6,270.1M50.3,244.8L51.7,246.3L53.6,247.0M113.5,318.9L115.5,319.3L117.4,318.4M22.1,265.7L23.2,266.3L23.9,267.4M117.1,243.6L118.1,241.9L120.1,241.5" stroke="#d6bc14" stroke-width="1.5" fill="none" stroke-linecap="round" stroke-linejoin="round"/><path d="M5.4,277.1L4.9,276.2L3.8,275.9M90.5,233.5L92.0,232.9L93.3,231.7M153.8,297.6L152.2,298.0L150.8,298.8M118.0,338.2L115.6,337.8L113.1,338.0M119.2,277.3L118.6,275.6L119.3,274.0M35.3,265.1L35.1,264.0L34.1,263.4M58.6,214.3L60.0,215.7L61.7,216.8M99.9,341.1L99.7,339.2L98.5,337.7M192.1,217.3L193.2,216.9L194.2,216.3M194.3,220.9L193.9,219.2L192.9,217.8M40.8,293.0L38.9,294.5L37.4,296.4M76.9,285.1L78.7,285.5L80.2,286.6M88.7,289.8L88.9,287.9L87.8,286.2M63.4,265.6L63.1,267.0L62.5,268.3M86.0,298.2L87.1,297.4L88.4,296.9" stroke="#ffff00" stroke-width="0.5" fill="none" stroke-linecap="round" stroke-linejoin="round"/><path d="M89.9,285.7L90.5,284.5L90.2,283.3" stroke="#4ce600" stroke-width="1.5" fill="none" stroke-linecap="round" stroke-linejoin="round"/><path d="M129.2,331.0L130.4,330.4L131.7,330.3M163.2,233.1L162.0,231.9L161.0,230.5M144.8,324.4L143.9,323.2L142.8,322.1M90.9,273.5L91.5,271.9L92.5,270.6M99.2,325.5L101.5,325.5L103.7,326.3M139.0,261.6L138.7,259.5L139.2,257.4M192.1,211.4L190.5,211.3L189.4,210.2M118.9,229.2L117.5,227.9L117.0,226.1M208.6,203.9L210.4,204.3L212.0,203.4M116.4,291.9L116.5,293.2L115.6,294.1M144.1,293.0L143.5,291.0L141.9,289.9M139.7,294.5L137.6,294.5L136.1,296.1M66.9,243.9L65.5,243.8L64.5,244.8M18.3,257.9L19.7,256.9L21.5,256.5M206.8,231.5L207.7,231.0L208.1,230.1M135.0,277.6L136.4,277.7L137.7,278.2M104.0,275.7L104.6,276.8L105.4,277.7M100.7,277.4L101.4,279.2L102.3,280.9M76.6,223.8L75.6,221.6L76.2,219.2M98.6,265.7L99.6,264.9L100.0,263.8M161.3,202.3L160.2,202.2L159.5,201.4M102.2,232.9L102.9,231.6L103.0,230.0M113.9,279.8L112.6,280.9L111.0,281.1M207.3,216.7L208.5,215.3L209.2,213.5M81.1,261.5L79.8,260.3L79.8,258.5" stroke="#ffff00" stroke-width="1.5" fill="none" stroke-linecap="round" stroke-linejoin="round"/><path d="M34.5,268.4L33.0,269.7L31.0,269.9" stroke="#ffbebe" stroke-width="0.5" fill="none" stroke-linecap="round" stroke-linejoin="round"/><path d="M97.3,261.8L98.5,262.6L99.5,263.7M53.8,244.5L54.3,246.8L54.7,249.0M35.4,232.0L36.4,230.7L37.1,229.1M69.6,267.2L68.2,267.4L67.2,268.3M178.1,216.5L179.3,217.2L180.4,217.9M117.5,295.2L118.6,296.3L118.5,297.8M28.4,278.1L28.4,280.0L27.6,281.8M151.0,286.3L152.3,287.2L153.4,288.4M30.6,273.6L30.8,271.6L29.7,269.9M108.5,259.2L109.5,259.9L110.2,260.8" stroke="#ffffbe" stroke-width="1.5" fill="none" stroke-linecap="round" stroke-linejoin="round"/><path d="M172.7,205.7L173.2,204.4L174.5,203.9M115.0,305.1L113.0,304.9L111.8,303.3M119.7,273.6L120.1,272.5L120.7,271.6M103.2,263.6L102.2,261.7L102.3,259.5M107.3,352.4L106.4,350.9L104.7,350.5M37.6,272.4L38.9,272.3L40.2,272.7M82.0,243.3L81.9,245.3L81.1,247.2M63.6,272.3L61.6,271.6L59.6,271.5M172.1,224.7L173.4,225.8L174.3,227.2" stroke="#267300" stroke-width="1.5" fill="none" stroke-linecap="round" stroke-linejoin="round"/><path d="M25.8,231.2L27.7,230.6L29.5,229.7M109.5,292.0L109.4,290.5L108.5,289.3M38.0,233.1L37.6,232.0L36.9,231.2M148.2,248.8L146.5,248.6L145.3,249.7M208.4,224.2L210.7,224.2L212.9,224.3M227.2,231.2L228.5,231.3L229.8,231.5M178.6,212.9L180.8,214.1L183.3,213.8" stroke="#267300" stroke-width="0.5" fill="none" stroke-linecap="round" stroke-linejoin="round"/><path d="M114.2,272.1L113.1,274.2L112.5,276.5M123.2,240.6L125.4,241.0L127.5,241.3M73.8,217.7L74.4,218.9L74.0,220.3M186.5,193.0L184.8,194.3L183.3,195.7M45.3,268.4L43.8,269.0L42.2,269.1M76.6,217.9L75.3,218.3L74.5,219.4M192.1,199.7L191.9,201.9L191.2,204.1M53.6,236.2L52.2,236.9L51.4,238.3M112.5,238.5L113.9,238.3L115.0,237.4M35.8,234.1L34.0,234.8L33.1,236.4M212.6,189.5L214.2,188.5L216.2,188.6M62.5,256.1L62.1,254.5L62.6,252.9M26.6,230.2L27.0,231.2L26.8,232.1M73.3,280.5L71.6,279.7L69.9,280.5M200.8,201.3L200.4,199.2L201.1,197.2M145.3,276.7L143.7,276.7L142.1,276.7M57.3,230.4L57.0,232.1L57.2,233.8M176.5,219.7L177.4,221.9L178.6,224.1M89.8,313.9L90.5,312.9L91.3,312.0M51.6,212.1L53.4,211.7L54.9,212.8M102.1,251.6L104.3,252.5L106.6,251.8M173.8,218.5L172.8,216.2L173.1,213.8M134.3,327.2L133.0,326.7L132.1,325.9M64.5,281.1L64.2,279.0L62.7,277.6" stroke="#d6bc14" stroke-width="1.0" fill="none" stroke-linecap="round" stroke-linejoin="round"/><path d="M85.5,287.5L84.3,287.3L83.2,287.2M189.2,211.8L188.6,213.6L189.2,215.4M102.3,251.2L101.1,250.0L100.3,248.5M100.4,293.3L101.5,295.3L103.0,297.1M93.8,252.2L95.0,252.5L95.8,253.6M97.6,278.1L98.3,276.9L98.4,275.5M113.7,253.7L112.3,255.1L110.3,255.6M85.0,306.8L85.8,305.3L85.2,303.7M140.9,313.4L138.6,313.1L136.6,314.4M69.8,208.4L68.9,209.9L69.5,211.6M22.2,260.2L20.1,260.5L18.0,259.9M116.5,219.8L118.9,220.3L121.1,219.4M126.0,257.1L127.5,257.7L128.2,259.2M82.7,256.0L83.3,254.7L83.1,253.3M188.3,215.9L190.2,215.8L192.1,215.6M162.5,210.8L161.8,209.3L161.4,207.6M131.4,314.1L133.1,312.3L135.5,312.0M39.9,224.0L40.9,221.9L41.8,219.8M21.6,261.7L21.8,263.0L22.6,264.1M157.0,236.5L155.5,238.4L154.5,240.5M53.5,204.7L55.7,205.2L57.0,206.9M157.3,216.7L158.9,215.1L160.3,213.4M198.0,216.8L197.8,214.7L197.7,212.5M83.1,275.3L81.4,274.4L80.0,273.0" stroke="#4ce600" stroke-width="1.0" fill="none" stroke-linecap="round" stroke-linejoin="round"/><path d="M115.1,233.5L117.3,234.4L119.6,234.1M200.6,204.1L198.6,203.6L197.8,201.7M97.4,269.2L99.3,270.8L101.5,272.0M104.8,271.3L104.0,270.6L103.5,269.7M45.6,217.7L46.3,216.0L47.3,214.6M160.0,198.9L160.6,200.1L161.3,201.3M117.0,350.7L116.8,352.8L115.4,354.4M151.3,254.6L150.7,252.8L151.7,251.3M66.5,267.1L66.0,266.1L66.0,265.0M213.0,200.1L213.5,198.5L212.6,197.3M97.4,328.6L99.3,329.0L100.7,330.4M167.5,243.6L166.7,245.6L165.5,247.4M108.1,274.3L108.6,272.1L109.6,270.1M59.9,286.7L58.5,286.1L57.0,286.5M154.9,213.8L156.2,213.2L157.4,212.3M8.5,276.0L9.3,277.0L9.8,278.2M116.2,279.9L115.4,280.9L115.1,282.1M77.8,233.6L79.8,232.8L81.6,231.8M37.9,286.0L37.0,286.6L35.9,286.9M108.0,352.2L107.7,350.5L106.5,349.3M131.7,324.4L129.4,323.5L127.6,322.0M99.5,269.2L99.2,271.0L98.6,272.6M105.8,259.2L108.2,259.5L110.7,259.5M140.6,300.5L139.4,302.2L138.4,304.0M90.0,320.9L90.7,321.8L91.6,322.7M122.1,305.5L120.9,306.4L119.4,306.1M152.0,319.5L150.7,319.5L149.7,320.4M37.3,263.6L36.6,265.7L36.8,267.9M52.1,251.4L51.5,249.7L49.8,248.9M161.3,238.3L158.9,237.6L156.9,236.3M66.9,224.0L66.3,225.2L66.3,226.6M63.6,226.2L64.4,225.6L65.5,225.7M48.8,234.5L51.2,234.0L53.0,232.3M79.8,251.6L78.7,250.4L78.1,249.0M73.8,295.2L72.7,297.1L70.6,297.5M59.8,219.7L58.9,217.9L59.4,216.0M105.4,292.9L105.2,291.1L105.4,289.3M50.3,237.0L51.5,236.8L52.5,236.2M128.5,273.3L128.2,275.4L128.7,277.5M201.7,235.9L201.6,238.2L200.0,240.0M93.4,282.4L95.7,282.2L97.9,282.6M209.9,194.2L210.0,193.2L210.6,192.4M226.8,237.2L224.9,238.0L223.0,237.6M62.4,229.8L60.1,229.1L58.0,230.0M128.6,227.3L129.2,228.6L129.3,230.0M3.9,276.2L3.8,277.8L2.8,279.0M34.7,277.4L35.5,279.3L36.7,281.0M134.8,235.3L136.7,234.1L138.4,232.7M34.9,231.9L33.1,232.0L31.9,230.7M190.1,230.0L190.4,231.1L191.4,231.7M118.5,318.4L119.1,316.9L120.0,315.5M99.6,334.6L101.1,333.6L102.8,334.1M111.5,264.7L111.8,266.9L110.3,268.6M130.5,295.2L128.7,296.4L127.1,297.8M96.1,290.5L96.2,291.7L96.7,292.8M107.5,253.7L108.7,253.2L110.0,253.1M135.1,287.4L134.2,288.0L133.5,288.6M71.5,208.0L70.2,209.1L69.0,210.3M43.8,253.6L43.3,254.5L43.5,255.6M61.6,247.2L63.4,245.4L65.9,245.8M218.4,233.9L218.6,231.8L217.1,230.3M172.3,229.8L173.0,229.0L173.9,228.4M110.9,299.3L110.3,297.2L109.4,295.3M137.4,327.1L137.5,328.6L136.5,329.9M181.2,189.2L183.2,187.9L184.1,185.7M48.3,212.1L47.5,209.9L47.8,207.6M82.9,314.3L82.9,316.4L82.1,318.3M142.5,259.5L143.2,258.5L144.2,258.1" stroke="#ffff00" stroke-width="1.0" fill="none" stroke-linecap="round" stroke-linejoin="round"/><polyline points="89.3,324.0 102.5,319.3 109.9,323.1 119.3,332.4 128.7,334.3" fill="none" stroke="#ffff00" stroke-width="1.8" stroke-linejoin="round" stroke-linecap="round" /><polyline points="126.8,313.7 136.2,306.2 147.4,302.5 158.6,304.3" fill="none" stroke="#ffff00" stroke-width="2.0" stroke-linejoin="round" stroke-linecap="round" /><polyline points="65.0,296.9 76.2,295.0 87.5,292.2" fill="none" stroke="#ffff00" stroke-width="1.5" stroke-linejoin="round" stroke-linecap="round" /><polyline points="101.9,262.7 101.0,271.3 99.8,280.9" fill="none" stroke="#ffbebe" stroke-width="1.5" stroke-linejoin="round" stroke-linecap="round" /><polyline points="99.6,280.0 100.6,289.4 102.5,298.7 105.3,310.0 107.1,317.5" fill="none" stroke="#ffbebe" stroke-width="1.5" stroke-linejoin="round" stroke-linecap="round" /><polygon points="94.0,303.4 97.8,302.5 98.7,310.0 95.0,310.9" fill="#ffbebe" /><polyline points="90.5,223.6 91.5,229.4 96.2,237.0 102.9,244.6" fill="none" stroke="#ffbebe" stroke-width="2.6" stroke-linejoin="round" stroke-linecap="round" /><polyline points="90.5,223.6 91.5,229.4 96.2,237.0 102.9,244.6" fill="none" stroke="#ff0000" stroke-width="1.2" stroke-linejoin="round" stroke-linecap="round" /><polyline points="121.0,259.9 125.8,268.5 135.3,275.2 145.8,274.2 151.0,271.0" fill="none" stroke="#ffbebe" stroke-width="2.4" stroke-linejoin="round" stroke-linecap="round" /><polyline points="121.0,259.9 125.8,268.5 135.3,275.2" fill="none" stroke="#ff0000" stroke-width="1.0" stroke-linejoin="round" stroke-linecap="round" /><polygon points="89.5,223.2 91.8,222.9 94.3,230.3 99.1,237.9 106.7,245.0 110.5,249.4 116.3,252.3 122.9,256.1 125.8,261.8 128.7,268.5 136.3,274.2 145.8,272.9 151.0,269.8 151.4,272.1 145.8,275.5 135.3,276.7 125.8,270.4 121.0,262.7 114.4,259.9 108.6,260.8 102.9,264.1 93.4,264.1 92.4,260.8 101.0,257.0 102.9,252.3 98.1,245.6 93.4,237.9 90.5,230.3" fill="#ffbebe" /><polygon points="97.6,239.3 101.4,240.0 106.7,245.0 110.5,249.4 116.6,251.9 122.4,256.5 124.8,261.8 119.1,262.9 114.0,259.5 108.6,259.9 102.5,263.7 93.7,263.7 95.3,260.3 102.5,257.6 104.0,252.3 99.1,245.8" fill="#ff0000" /><polyline points="90.7,223.6 91.8,229.7 96.2,237.0 101.0,242.7" fill="none" stroke="#ff0000" stroke-width="1.3" stroke-linejoin="round" stroke-linecap="round" /><polyline points="122.9,260.8 126.8,268.5 135.3,275.2 143.0,274.2" fill="none" stroke="#ff0000" stroke-width="1.0" stroke-linejoin="round" stroke-linecap="round" /><polygon points="106.3,250.0 113.4,251.9 115.1,256.1 109.0,258.4 105.4,254.5" fill="#730000" /></g><g clip-path="url(#pclip)"><rect x="280.00" y="160.00" width="254.00" height="210.00" fill="#bd8410" /><rect x="280" y="160" width="254" height="210" filter="url(#p_c2)"/><rect x="280" y="160" width="254" height="210" filter="url(#p_s3)"/><rect x="280" y="160" width="254" height="210" filter="url(#p_g2)"/><path d="M369.7,218.3L372.1,215.2L372.5,211.3M459.4,337.6L460.6,334.8L461.4,331.9M400.3,212.4L400.0,216.9L397.0,220.2M400.9,299.6L405.4,296.9L410.0,294.3M480.7,312.9L480.7,315.3L481.8,317.4M469.2,246.6L466.3,250.8L467.4,255.7M437.2,213.5L439.2,213.4L440.8,212.2M345.6,202.8L344.2,205.8L343.5,209.0M390.5,298.7L391.0,295.2L391.2,291.6M431.0,238.1L436.3,239.3L440.8,242.2M352.7,210.5L357.8,213.5L362.6,216.9M478.6,330.5L475.5,331.4L472.4,331.9M482.5,306.9L479.0,310.8L475.2,314.5M329.7,247.7L328.2,244.1L325.3,241.5M426.0,285.2L425.2,281.8L423.3,279.0M461.2,288.1L456.7,289.0L452.6,287.0M477.3,264.0L479.9,264.4L482.4,263.5M414.4,274.5L417.2,279.6L420.9,284.1M326.2,264.1L327.4,260.9L330.0,258.8M447.4,186.8L448.7,184.0L450.6,181.6M295.2,232.0L292.7,230.7L290.1,229.4M405.6,200.7L407.8,198.9L410.6,198.7M498.9,212.1L493.6,211.6L489.2,208.7M456.2,314.4L455.8,310.8L452.9,308.7M439.4,224.2L444.4,225.4L449.4,224.2M446.9,189.5L447.5,184.1L451.1,180.2M461.9,344.2L467.2,344.1L470.7,340.2M445.5,210.7L449.7,208.7L454.1,210.3M438.0,199.4L432.3,200.0L426.5,200.3M388.7,272.5L388.6,269.4L390.7,267.1M436.8,208.7L440.1,208.1L442.3,205.6M449.7,252.7L449.1,250.4L447.1,249.3M426.0,210.5L430.4,208.4L435.4,208.3M377.4,197.0L381.8,196.2L385.7,194.2M438.8,242.5L442.8,243.6L445.7,246.5M377.9,253.1L377.0,249.2L377.9,245.3M494.7,203.6L493.9,199.5L493.8,195.3M444.5,237.7L444.9,235.6L445.9,233.7M374.4,233.3L373.5,227.7L376.3,222.7M384.1,234.5L381.0,234.6L378.7,236.7M450.7,242.2L448.4,239.1L444.9,237.5M351.2,236.1L351.0,233.5L351.7,231.0M403.6,227.9L402.9,230.5L401.2,232.4M364.3,284.0L369.1,287.6L375.0,287.9M440.4,318.7L441.9,320.6L441.9,323.1M470.9,222.8L470.5,218.7L471.4,214.8M362.7,240.7L363.8,245.6L364.1,250.7M350.2,217.8L349.2,219.7L349.0,221.9M331.3,232.3L336.2,231.8L340.1,228.7M475.3,231.2L470.4,229.5L465.7,227.8M407.3,290.3L411.9,291.5L414.5,295.5M391.4,221.1L389.7,223.9L387.7,226.5M346.8,260.4L345.5,262.1L345.0,264.2M399.3,306.6L399.3,302.1L402.3,298.8M435.7,188.9L432.8,188.4L430.5,186.5M443.4,257.0L445.7,262.2L445.5,267.8M337.2,212.8L335.7,215.9L332.3,217.1M411.4,294.0L409.6,295.7L407.2,295.8M316.4,256.5L317.9,258.2L319.8,259.5M332.1,242.2L329.9,236.6L329.9,230.7M386.4,313.8L383.5,310.4L379.5,308.4M475.6,231.3L476.4,233.6L476.5,236.1M437.5,184.9L438.9,186.7L439.4,188.8" stroke="#267300" stroke-width="2.0" fill="none" stroke-linecap="round" stroke-linejoin="round"/><path d="M362.0,212.4L364.7,211.2L367.7,211.1M469.1,290.6L467.4,286.1L466.0,281.6M431.5,238.3L428.3,237.5L425.4,235.9M454.4,229.5L449.0,229.9L445.5,234.1M343.2,242.0L345.7,240.6L348.4,239.8M491.2,242.6L492.5,238.8L491.8,234.9M492.1,257.1L488.3,255.0L485.8,251.5M473.8,347.8L474.9,346.1L475.0,344.1M412.0,250.8L407.9,249.9L404.0,248.4M451.3,272.2L451.5,275.0L449.8,277.4" stroke="#b4a20a" stroke-width="1.0" fill="none" stroke-linecap="round" stroke-linejoin="round"/><path d="M310.6,232.0L307.4,236.2L307.0,241.5M466.4,234.3L464.2,234.9L462.9,236.8M308.7,229.9L309.0,224.7L305.4,220.9M527.3,217.0L529.0,222.6L532.4,227.3M329.3,217.9L325.7,214.9L321.0,213.9M329.6,267.3L332.6,262.6L334.9,257.6M370.3,202.0L372.7,202.6L375.1,202.9M461.9,244.2L461.1,241.7L461.5,239.1M508.0,234.0L502.9,234.1L498.7,231.1M378.5,268.1L374.6,270.8L371.6,274.3M355.7,271.2L355.0,267.8L354.4,264.5M469.3,328.3L467.8,323.5L463.1,321.7M497.6,213.6L498.4,210.4L498.0,207.2M374.1,300.1L374.4,303.6L372.5,306.6M457.6,298.3L458.5,296.0L460.5,294.6M372.9,265.1L375.3,259.9L378.7,255.2M403.0,304.3L401.4,307.1L400.5,310.2M407.7,236.6L412.3,233.9L416.8,231.0M377.4,195.5L383.1,194.2L388.2,196.9M464.6,236.9L467.8,238.4L471.2,237.8M442.6,197.8L443.1,192.6L446.8,188.8M488.8,294.8L489.1,290.9L489.6,287.1M396.5,285.4L400.7,285.3L404.9,284.8M410.9,187.9L411.4,190.3L410.9,192.8M391.5,228.1L394.9,227.6L397.0,224.9M460.1,252.8L458.2,258.0L459.7,263.2M358.6,253.2L356.6,252.9L354.5,253.0M365.4,203.1L363.6,198.4L359.7,195.2M460.7,262.3L457.6,267.3L451.9,268.4M362.9,256.8L360.1,258.2L357.0,258.0M347.1,229.4L349.6,224.0L351.4,218.3M403.6,205.5L397.9,207.2L392.5,209.9M483.4,248.1L482.1,252.6L479.8,256.7M509.1,244.3L506.3,239.5L503.0,235.1M323.8,243.8L320.3,245.7L317.1,248.2M443.2,334.2L448.9,333.1L453.3,329.4M398.7,252.3L401.6,248.2L403.2,243.5M477.8,291.7L475.3,289.5L472.2,288.3M393.1,296.4L389.7,299.0L386.3,301.6M496.9,221.4L499.9,218.7L501.0,214.8M463.1,245.8L464.0,243.6L463.1,241.4M457.8,321.2L458.4,315.6L454.3,311.7M333.9,271.0L330.2,269.5L326.1,269.8M447.7,305.7L451.1,302.1L455.1,299.2M471.8,232.9L468.6,228.8L463.6,227.8M443.3,272.6L446.1,274.0L449.1,274.4M398.6,271.7L394.5,273.8L390.2,275.6M475.2,266.6L480.0,269.5L485.5,269.8M466.2,338.3L465.5,343.4L468.5,347.6M320.4,255.1L320.0,249.8L316.3,245.9" stroke="#e69800" stroke-width="1.5" fill="none" stroke-linecap="round" stroke-linejoin="round"/><path d="M403.1,294.4L407.6,295.0L411.4,297.5M332.7,233.3L335.7,230.4L336.0,226.2M387.4,315.7L389.6,319.9L391.6,324.2M359.4,249.5L360.2,252.0L358.8,254.2M427.1,185.4L430.9,186.3L434.7,185.8M342.2,250.4L345.4,251.4L348.3,252.8M335.5,234.9L337.8,236.8L340.7,237.5M477.2,226.8L481.9,230.0L487.1,232.4M487.5,282.6L484.1,281.3L482.4,278.0M471.3,302.9L475.3,302.0L479.3,302.2M323.6,215.8L320.1,215.3L316.7,214.9M411.0,261.6L412.1,257.1L409.7,253.2M493.1,237.3L491.4,234.1L490.5,230.6M340.3,226.0L334.8,227.2L329.4,225.3M394.1,288.0L398.4,285.1L399.2,280.0M471.0,308.3L472.3,314.2L475.3,319.3M425.8,238.1L426.6,241.9L426.0,245.8M476.0,295.8L474.5,293.7L472.1,293.1M327.3,235.9L324.9,234.4L322.0,234.7M296.4,209.3L291.5,211.7L287.0,214.8M410.3,253.1L407.1,253.1L403.9,252.6M374.3,239.3L371.1,236.7L368.0,234.0M312.6,211.1L313.8,209.5L314.5,207.6M436.4,198.1L436.7,200.6L437.2,202.9M342.6,206.8L339.8,202.4L337.8,197.5M466.0,211.5L460.9,210.7L455.7,211.6M458.1,280.9L453.2,283.8L450.3,288.6M444.4,253.6L439.8,256.6L435.7,260.3M484.6,311.6L487.4,312.9L489.9,314.7M472.5,196.0L470.1,194.5L467.4,194.4M334.8,224.4L331.3,224.8L327.7,224.8M430.9,215.2L428.0,210.8L424.5,206.9M410.7,217.6L408.5,218.9L406.5,220.5M366.6,214.4L370.4,213.4L374.2,212.3M488.1,209.4L483.2,211.1L478.2,209.7M372.8,204.0L368.2,207.7L364.7,212.4M465.7,237.7L468.5,235.5L468.5,231.9M429.2,230.5L427.8,226.7L429.0,222.8M464.0,231.5L469.0,232.5L474.1,232.3M406.6,250.7L409.2,248.9L411.9,247.1M488.2,239.0L485.8,237.2L482.8,236.9M371.4,241.6L368.5,243.3L365.3,242.5M491.5,280.7L490.1,278.2L487.4,277.5M427.6,265.4L430.9,267.0L434.4,266.0M322.2,266.1L323.2,269.5L321.9,272.9M443.7,334.0L446.6,335.3L448.5,337.8M489.0,296.2L491.3,293.1L494.5,291.1M376.5,242.2L378.0,239.8L377.8,237.0M504.8,233.4L505.9,236.6L509.2,237.9M462.3,251.1L466.2,249.7L468.3,246.1M371.8,199.9L369.2,199.8L366.8,198.7M361.4,272.9L365.8,275.3L370.7,276.2M348.7,261.3L349.9,264.9L352.9,267.2M295.3,215.2L299.7,213.3L304.2,214.8M363.3,200.3L358.7,197.9L353.5,197.1" stroke="#a87000" stroke-width="2.0" fill="none" stroke-linecap="round" stroke-linejoin="round"/><path d="M397.0,261.6L394.9,259.8L394.4,257.1M287.8,205.7L290.1,208.6L291.3,212.1M322.9,271.9L323.4,266.2L323.9,260.6M417.0,239.4L421.1,235.4L426.2,232.9M416.1,267.3L412.4,269.0L408.7,270.6M485.5,237.5L490.8,238.2L494.7,241.7M462.0,350.1L463.6,354.6L467.7,357.0M439.5,236.4L443.3,235.5L445.3,232.2M470.3,352.4L465.9,355.0L462.8,359.0M413.3,238.1L414.2,240.9L416.3,242.9M393.5,196.6L396.0,200.7L400.8,201.4M469.8,275.4L468.7,279.7L465.4,282.6M361.6,249.7L359.5,250.0L357.7,249.0M294.0,202.8L292.1,197.9L290.2,192.9M348.2,210.2L346.3,206.2L344.2,202.2M389.9,297.6L385.3,294.4L379.7,293.3M441.2,236.6L436.0,234.9L431.0,237.1M393.0,287.9L394.9,282.7L392.8,277.5M338.1,253.4L336.9,256.8L335.5,260.2M330.6,216.3L336.2,217.0L339.7,221.4M470.1,277.1L471.1,279.8L469.6,282.3M456.1,208.1L456.1,210.7L455.5,213.3" stroke="#ffff00" stroke-width="2.5" fill="none" stroke-linecap="round" stroke-linejoin="round"/><path d="M347.5,258.4L348.7,255.4L349.3,252.1M329.6,242.1L327.9,246.9L325.3,251.3M392.0,241.9L393.7,246.4L395.6,250.8M405.4,209.9L411.0,211.5L416.4,209.2M462.2,317.1L462.7,312.1L462.1,307.2M466.6,333.1L471.5,330.2L474.5,325.3M472.7,324.0L473.6,318.7L471.5,313.9M302.6,221.3L299.7,220.4L296.7,220.9M470.1,322.5L473.8,321.1L477.4,320.0M433.7,232.2L435.9,229.5L438.5,227.2M415.9,255.5L414.6,257.4L412.6,258.4M376.0,210.8L372.3,214.9L367.3,217.4M374.7,227.8L376.8,230.7L376.6,234.3M382.8,274.8L378.6,273.2L375.6,269.8M338.8,275.3L339.8,271.9L342.7,269.7M368.0,225.8L367.4,230.9L367.0,236.0M393.6,245.3L396.1,241.2L400.2,238.7M434.0,290.1L432.0,293.7L432.2,297.8M482.6,249.0L484.7,247.8L487.2,247.6M471.0,276.0L467.0,274.0L463.2,271.7M456.7,216.3L461.1,217.2L465.2,219.1M372.3,257.3L377.5,257.7L382.6,258.5M318.2,222.0L320.2,223.2L322.5,224.0M399.0,271.0L403.7,270.2L408.4,269.1M434.2,247.1L437.1,247.4L440.0,247.4M371.8,295.3L369.4,299.9L364.8,302.1M296.0,210.6L299.4,213.5L303.5,215.2M464.0,274.1L461.4,276.7L461.3,280.4M402.5,311.4L404.2,313.4L406.7,313.9M479.1,216.9L475.9,218.0L472.7,219.3M420.4,283.3L421.2,287.1L423.6,290.1M351.8,234.7L356.8,237.2L360.9,241.0M502.9,247.3L507.9,248.5L512.6,246.6M388.1,289.0L389.2,286.9L391.3,285.6M370.5,196.2L372.6,195.3L374.5,194.0M374.6,255.3L373.7,252.7L372.4,250.4M410.3,230.8L414.6,233.4L419.6,232.4M489.2,238.1L487.7,234.9L488.4,231.5M513.5,227.4L512.9,225.5L513.8,223.7M385.4,209.7L389.3,211.9L392.3,215.2M428.7,200.4L430.2,198.2L432.5,196.6M422.5,280.4L425.4,278.2L428.3,276.1M348.3,273.5L345.2,274.5L344.0,277.5M468.2,199.3L465.9,203.5L461.8,205.9M300.8,219.7L302.9,220.6L305.1,220.6M311.2,229.4L305.3,230.1L301.4,234.5M481.7,206.3L481.8,201.2L483.1,196.2M371.2,280.9L372.9,286.0L375.2,290.9M443.5,210.6L444.4,204.8L449.3,201.4M514.7,242.7L512.1,238.4L507.4,236.6M495.0,222.0L494.2,225.4L495.9,228.6M432.6,260.6L435.6,256.8L437.3,252.2M409.1,231.2L405.0,233.1L400.4,233.7M482.6,305.7L483.7,307.7L485.8,308.7M437.1,303.1L441.4,299.2L446.9,297.9M421.2,251.8L420.0,248.4L417.1,246.5M422.5,260.2L420.2,258.8L419.4,256.2M415.8,216.9L419.8,212.8L425.5,212.5M409.9,196.3L404.2,197.6L398.8,199.7M383.3,262.1L387.0,263.0L389.1,266.1M390.9,257.5L394.0,261.7L398.6,264.0M366.1,225.3L363.8,230.0L364.4,235.3M330.6,236.5L332.0,240.9L332.2,245.5M482.6,252.5L485.2,247.9L483.4,242.8M385.4,193.6L387.0,188.3L388.0,182.9M348.4,227.0L349.1,222.9L351.7,219.7M452.0,350.0L447.8,350.3L443.6,350.9M474.7,222.3L476.8,224.4L479.4,225.7M501.1,264.8L498.2,264.9L496.0,262.9M345.5,214.0L345.7,209.9L343.5,206.4M368.8,198.8L371.9,201.4L375.8,202.5M427.1,273.3L427.6,276.3L427.9,279.4M399.4,279.9L402.0,285.0L406.3,288.7M396.1,225.4L392.5,229.7L387.2,231.5M484.7,206.8L479.8,206.0L474.8,205.9M463.7,245.6L465.6,251.2L467.6,256.9M302.8,235.7L303.3,240.4L307.1,243.3" stroke="#ffbebe" stroke-width="1.5" fill="none" stroke-linecap="round" stroke-linejoin="round"/><path d="M451.2,200.7L456.5,203.2L460.5,207.4M456.9,195.0L457.9,199.3L456.9,203.6M345.7,212.2L347.1,209.7L347.6,206.8M403.5,241.2L408.1,242.4L412.9,242.0M306.1,244.0L311.0,245.9L315.8,248.1M376.0,242.9L372.5,239.5L367.6,239.1M466.4,218.3L464.5,220.2L462.5,222.2M371.7,230.1L371.4,232.1L370.2,233.7M297.8,197.4L301.1,197.8L304.2,198.4M422.2,218.8L426.1,221.2L430.6,221.0M386.9,202.4L382.3,204.9L380.7,209.9M381.9,299.7L384.0,302.8L385.9,306.0M437.3,220.2L436.5,218.1L436.3,215.8M451.9,282.2L453.0,279.1L456.0,277.6M410.4,240.1L409.0,241.7L407.7,243.4M447.9,188.2L450.8,188.8L452.4,191.2" stroke="#267300" stroke-width="2.5" fill="none" stroke-linecap="round" stroke-linejoin="round"/><path d="M324.0,236.2L319.5,233.9L317.1,229.2M307.8,219.7L307.9,224.6L310.9,228.6M367.8,273.4L367.2,275.4L367.5,277.5M390.8,202.7L394.1,203.8L397.3,202.4M467.6,243.3L470.0,242.1L471.2,239.7M323.3,224.0L324.1,226.0L324.6,228.2M393.9,280.5L392.5,282.0L390.6,282.5" stroke="#ffffbe" stroke-width="2.0" fill="none" stroke-linecap="round" stroke-linejoin="round"/><path d="M336.3,274.7L339.1,270.7L341.8,266.5M439.3,294.0L440.1,288.7L437.3,284.1M311.6,220.5L312.7,222.8L314.7,224.4M448.7,340.7L451.2,335.8L453.0,330.6M375.8,242.7L379.8,245.3L384.4,244.2M483.3,214.6L480.0,210.1L478.6,204.6M298.3,229.6L297.6,232.2L298.2,234.9M310.4,220.4L312.2,219.0L313.5,217.2M358.3,226.9L362.4,230.9L362.0,236.6M368.8,274.7L370.7,277.7L371.9,281.0M337.1,272.0L334.0,267.3L328.4,266.9M427.4,180.4L423.0,181.0L418.9,183.1M504.1,230.2L502.6,232.6L500.0,233.5M448.2,300.1L452.7,303.2L455.9,307.5M460.5,293.3L455.7,295.9L450.3,295.1M450.3,224.5L447.1,228.1L442.4,228.8M385.3,266.0L386.8,269.1L389.7,271.1M401.4,319.0L397.0,315.4L391.5,316.4" stroke="#ffd37f" stroke-width="1.0" fill="none" stroke-linecap="round" stroke-linejoin="round"/><path d="M410.6,253.5L407.7,253.9L404.8,254.2M327.9,227.6L324.1,229.2L320.1,229.9M413.2,255.8L412.3,253.2L411.8,250.5M363.2,214.3L364.8,219.9L367.3,225.2M407.4,237.9L405.4,233.6L404.7,229.0M432.9,277.8L431.2,274.4L427.6,273.1M325.2,266.4L327.6,269.8L331.1,272.1M468.0,264.0L469.3,266.2L470.1,268.7M433.9,298.9L435.4,295.1L433.7,291.4M383.9,236.5L380.8,233.4L378.1,230.0M484.1,261.7L482.2,258.6L482.5,255.1M311.4,203.6L312.6,206.0L314.4,208.0M472.4,339.3L469.4,336.6L466.9,333.5M456.0,221.9L452.1,224.9L449.5,228.9M294.6,221.7L290.8,226.3L285.6,229.2M358.0,247.3L361.4,248.1L364.4,246.3M365.5,244.4L370.8,243.8L375.9,241.9M412.6,213.0L408.3,215.0L404.0,213.2M445.6,295.9L447.8,298.9L447.0,302.6M440.8,224.7L439.4,226.2L438.7,228.1M389.9,239.3L391.8,234.0L395.9,230.3M460.9,248.4L461.6,245.7L460.9,243.0M440.1,231.4L438.7,234.3L436.0,236.0M428.4,258.2L425.7,255.7L422.9,253.4M385.1,267.4L383.3,271.8L380.8,275.9M445.9,214.1L445.0,211.1L446.6,208.4M499.5,217.3L497.5,222.8L495.0,228.2M480.6,238.6L478.5,235.3L478.0,231.4M526.7,202.7L526.0,197.1L528.1,191.8M424.5,261.4L424.2,265.5L426.8,268.8M382.0,262.1L382.8,258.5L385.9,256.6M398.1,315.4L401.5,315.5L404.9,315.6M291.6,215.5L287.0,214.1L282.3,215.4M351.1,269.9L353.5,271.0L354.9,273.3M462.4,195.6L466.4,195.2L470.3,195.4M287.8,207.6L287.3,211.5L288.7,215.2M298.1,241.5L295.7,237.6L295.6,233.0M317.0,213.5L313.2,213.3L309.9,215.0M393.5,208.9L398.6,207.5L403.4,209.5M483.7,318.7L488.8,319.7L493.9,318.8M435.5,288.7L430.7,286.7L425.5,286.4M459.1,353.1L461.4,355.5L464.8,355.9M424.9,237.5L427.4,237.9L429.8,238.9M367.6,212.8L370.3,216.1L374.5,217.0M385.7,272.3L388.6,272.1L391.4,272.8M376.7,309.1L371.8,310.0L369.5,314.4M365.7,298.6L367.4,301.8L370.8,303.3M453.3,310.7L456.1,308.0L455.9,304.1M407.7,233.1L406.6,238.9L404.9,244.5M504.5,250.2L506.2,248.5L508.6,248.3M377.2,303.2L380.6,299.7L384.2,296.4M412.6,266.4L417.4,267.4L420.8,271.0M351.5,218.3L347.7,217.6L344.3,219.4M316.6,268.7L317.2,266.4L318.0,264.3M352.1,245.9L349.7,245.2L347.7,243.6M416.9,207.9L414.8,208.8L412.6,209.5M395.2,278.7L397.9,275.5L401.1,272.8M452.1,221.6L454.1,223.3L455.9,225.1M456.1,346.7L453.8,343.0L455.1,339.0M471.5,314.4L467.9,309.8L464.5,305.0M438.2,304.0L440.2,301.9L443.0,301.4M410.8,249.8L411.0,253.4L410.9,257.1M301.1,204.8L299.6,201.0L300.0,196.8M439.9,324.9L439.4,319.8L438.0,314.8M427.5,218.9L430.4,219.0L432.9,220.5M290.1,200.2L284.5,201.2L280.0,197.9M470.1,213.4L465.6,211.8L460.9,212.4M351.0,208.0L347.2,212.4L341.8,214.5M452.1,331.8L456.3,333.0L458.5,336.7" stroke="#ffff00" stroke-width="1.5" fill="none" stroke-linecap="round" stroke-linejoin="round"/><path d="M413.4,233.1L415.2,231.6L417.6,231.2M483.0,308.9L481.0,310.4L480.3,312.9M424.5,207.6L425.1,210.2L426.8,212.1M479.1,250.1L476.6,245.9L475.7,241.1M385.6,275.9L384.9,280.4L387.9,283.8M502.7,243.1L498.9,241.7L495.4,239.6M365.8,266.8L361.4,265.7L356.9,266.6" stroke="#ff0000" stroke-width="2.0" fill="none" stroke-linecap="round" stroke-linejoin="round"/><path d="M470.3,285.1L473.8,285.7L477.3,286.8M320.9,259.1L323.2,257.5L324.3,254.9M292.3,190.3L288.4,189.7L284.4,189.5M381.0,264.5L385.7,263.5L390.4,264.7M368.2,253.4L365.6,254.6L362.8,254.7M445.2,196.6L443.3,191.9L444.3,187.0M433.3,185.3L431.6,188.3L431.8,191.7M473.0,245.8L472.8,250.4L471.9,254.9M474.1,318.2L478.9,320.3L483.8,322.3M481.2,208.1L476.2,208.8L471.2,209.9M425.7,229.8L427.8,227.4L427.6,224.2M456.1,322.4L455.2,318.1L451.4,315.9M406.2,219.3L401.1,216.5L399.5,210.9M393.9,203.4L394.5,200.3L395.2,197.1M491.5,203.2L489.4,205.1L487.1,206.8M407.7,296.9L404.8,300.3L404.3,304.8M326.8,273.3L330.4,269.3L334.6,265.8M463.2,196.8L458.6,194.2L453.3,194.5M404.9,275.8L406.1,273.3L408.7,272.7M428.0,211.9L426.6,210.4L424.8,209.3M471.1,317.5L477.1,317.8L482.5,320.3M429.4,192.5L432.3,191.4L435.5,191.2M499.2,245.2L504.6,243.3L507.4,238.2M471.4,335.5L476.7,334.1L482.1,335.0M488.9,258.8L486.9,255.1L483.3,252.9M401.7,258.4L404.1,257.9L406.5,258.1M313.0,201.2L310.8,202.8L310.0,205.3M311.8,221.4L306.3,220.8L301.1,219.1M313.0,253.3L309.7,252.0L308.4,248.7M301.5,249.5L305.5,247.9L307.6,244.2M485.1,254.5L485.1,259.7L485.8,264.8M296.6,221.3L292.9,222.9L289.2,221.2M396.0,210.8L398.4,213.2L401.7,214.3M349.1,268.7L343.8,269.6L340.0,273.4M371.7,232.9L374.5,230.0L378.2,228.7M406.2,211.9L411.0,209.9L414.8,206.2M387.0,221.2L389.3,221.2L391.1,219.8M311.4,258.1L315.5,261.5L320.6,263.3M496.3,216.1L499.3,221.2L497.7,226.9M383.8,259.5L383.5,255.0L385.6,251.0M370.1,302.0L371.1,299.6L371.9,297.2M509.8,235.5L514.1,234.4L516.3,230.6M316.0,263.6L318.7,262.3L320.1,259.6M299.2,214.6L295.6,214.5L293.1,211.8M487.7,249.3L490.2,251.3L490.4,254.5M310.5,238.5L314.8,238.9L317.5,242.2M480.0,208.2L484.5,207.2L487.2,203.6M310.7,205.5L308.3,208.2L304.8,209.4M419.1,215.6L419.2,213.4L420.6,211.7M348.0,235.9L349.8,241.0L354.6,243.6M313.7,266.5L313.7,263.2L311.5,260.7M337.0,215.9L341.2,217.0L344.9,219.5M401.2,237.3L405.1,234.0L408.2,230.2M370.9,303.2L368.8,304.7L366.4,305.7M311.7,217.6L314.2,219.8L315.7,222.8M428.4,214.0L428.9,212.1L430.6,211.0M444.6,252.6L446.5,253.7L448.0,255.2M403.9,293.5L403.2,297.7L405.6,301.1M405.5,265.2L406.7,260.6L407.9,256.0M311.0,206.1L307.2,209.5L302.2,209.2M317.8,238.9L320.8,240.8L323.3,243.5M514.8,225.0L514.7,222.3L515.3,219.6M401.1,298.5L403.6,298.0L405.0,295.8M497.4,266.3L495.9,262.4L497.6,258.5M496.0,252.9L496.9,250.2L498.3,247.6M469.0,315.4L468.6,317.8L469.3,320.1M303.0,211.1L302.4,213.8L304.2,215.9M512.0,235.2L511.6,230.4L514.9,226.9M460.7,271.4L460.9,266.1L463.8,261.7M402.7,222.3L399.8,219.7L397.2,216.9M432.2,215.8L431.0,218.1L430.8,220.5M362.4,207.6L366.2,207.6L369.0,204.9M428.3,242.6L426.5,244.2L425.4,246.4M458.7,267.9L457.2,272.3L454.0,275.8M414.0,274.5L416.3,274.0L418.5,273.1M316.2,245.0L314.9,248.1L312.6,250.6M355.2,228.4L360.3,227.4L365.5,228.1M472.9,346.7L470.0,341.7L470.3,335.9" stroke="#a87000" stroke-width="1.0" fill="none" stroke-linecap="round" stroke-linejoin="round"/><path d="M376.8,287.5L375.6,289.4L375.4,291.6M357.5,238.8L359.9,234.7L361.8,230.4M497.8,263.9L497.1,268.7L495.1,273.2M393.4,317.5L391.2,316.4L388.8,316.5M377.1,272.8L376.3,270.0L377.0,267.2M402.6,201.0L399.4,199.9L396.9,197.7M434.7,323.8L432.2,322.5L430.9,320.1M317.9,273.1L317.2,270.5L317.7,267.9M367.3,251.0L371.6,247.5L372.5,242.1M364.6,282.6L364.8,278.1L366.4,273.9M428.3,263.6L425.6,265.3L423.3,267.6M480.6,261.1L479.4,259.2L478.3,257.2M402.2,288.4L403.0,293.6L405.4,298.3M365.1,261.3L367.6,259.6L370.6,259.0M324.0,213.6L323.6,216.1L324.2,218.5M388.8,268.9L387.2,270.1L385.8,271.6M389.9,251.0L390.1,246.1L388.8,241.4M325.3,255.4L325.7,258.5L328.1,260.5M295.2,207.5L295.2,209.6L296.3,211.4M295.4,229.1L299.4,229.3L303.4,229.2M365.2,264.1L366.5,261.8L365.6,259.4M402.0,244.3L404.4,245.2L406.9,244.3M436.4,263.3L438.2,260.1L437.0,256.6M467.2,285.8L466.2,282.4L464.1,279.5M501.6,224.0L502.4,220.8L504.3,218.1M489.4,299.2L489.4,303.9L486.2,307.2M345.7,223.2L344.8,221.1L343.0,219.7M362.4,250.3L358.6,248.4L354.6,249.9M383.5,322.0L387.3,324.8L391.9,323.8M427.6,242.9L428.6,248.4L427.8,253.9M439.2,245.3L437.6,242.1L435.8,239.0M376.8,254.9L376.8,249.2L379.3,244.1M304.8,253.5L302.4,258.8L303.7,264.4M350.7,238.0L351.0,240.3L349.7,242.1M439.1,287.7L435.5,288.3L431.8,288.0M411.9,219.2L410.0,220.7L409.4,222.9M327.1,251.9L328.9,252.9L330.9,252.9M327.5,234.7L324.1,232.3L322.0,228.7M357.3,237.9L353.7,237.8L350.1,237.3M474.0,302.4L472.4,305.7L470.1,308.5M470.6,352.8L471.8,349.9L470.6,347.1M450.7,339.6L447.8,335.1L447.1,329.8M391.4,278.1L393.1,274.8L395.5,272.1M485.7,271.5L487.1,269.7L487.3,267.5M364.2,248.3L360.7,244.2L357.9,239.5M326.3,211.1L322.0,214.2L318.5,218.1M454.5,352.0L459.7,349.6L465.4,350.6M447.0,286.6L445.3,285.0L443.6,283.6M364.0,251.4L364.3,247.3L365.1,243.2M440.1,325.3L441.8,330.4L443.5,335.5M370.1,307.0L370.7,301.2L374.9,297.3M431.9,250.0L434.4,249.2L436.1,247.1M345.4,203.1L349.7,206.7L354.1,210.4" stroke="#ffbebe" stroke-width="1.0" fill="none" stroke-linecap="round" stroke-linejoin="round"/><path d="M506.8,242.9L510.2,245.3L513.3,247.9M403.9,286.5L408.9,288.4L413.9,290.1M370.9,287.3L372.9,288.7L373.9,290.9M495.9,224.7L497.6,219.4L496.7,214.0M351.0,241.1L351.3,245.8L348.3,249.4M434.4,256.3L430.0,255.6L426.8,252.6M501.5,253.0L506.2,251.3L509.9,248.1M303.8,240.5L304.1,238.5L305.5,236.8M436.7,310.3L438.3,306.9L437.1,303.4M309.0,225.2L305.5,221.9L301.5,219.3M491.6,237.2L487.6,236.1L483.6,237.3M354.8,270.7L355.7,273.2L357.4,275.1M463.8,189.8L465.3,188.3L466.7,186.7M468.3,230.6L470.4,235.2L468.8,240.0M387.8,228.1L389.8,224.4L392.1,220.9M425.8,228.1L423.0,229.4L420.0,228.9M467.6,282.6L464.2,281.2L461.0,279.4M416.5,263.6L417.8,261.8L419.7,260.5M448.6,317.9L447.3,314.2L446.9,310.2M378.4,218.5L375.6,216.0L371.8,216.4M308.0,248.1L306.2,250.4L303.9,252.1M364.7,246.0L358.9,244.5L355.1,239.9M377.0,268.4L373.5,270.4L369.6,271.0M448.9,321.6L446.4,320.5L443.8,320.3M491.5,231.3L495.8,235.3L498.0,240.6M490.5,258.1L492.6,263.2L492.1,268.7M490.9,213.4L493.0,213.0L494.6,211.5M445.7,273.5L447.5,271.9L449.0,269.9M489.9,250.3L484.8,249.6L480.6,252.6M387.4,265.1L390.4,268.0L390.1,272.2M509.4,225.9L510.1,222.8L513.0,221.4M465.9,230.4L467.2,234.4L470.3,237.1M387.0,310.2L381.8,310.1L376.8,308.4M445.3,249.2L443.0,249.5L440.9,248.5M437.1,284.4L442.0,283.3L446.2,280.5M425.1,282.9L421.6,286.2L420.0,290.8M462.1,332.4L465.5,334.8L469.6,335.8" stroke="#ffd37f" stroke-width="2.0" fill="none" stroke-linecap="round" stroke-linejoin="round"/><path d="M307.6,217.7L309.8,218.9L311.3,220.8M375.9,204.7L380.8,206.7L386.1,206.5M406.0,237.1L402.7,240.2L398.2,239.6M320.0,231.6L317.6,226.4L314.4,221.6M529.9,206.1L525.8,204.3L522.4,201.5M325.4,275.4L330.4,277.2L334.7,280.2M446.5,210.7L447.8,214.6L447.3,218.6M459.9,261.6L457.3,259.9L454.2,260.5M474.5,279.3L472.1,282.3L471.9,286.1M323.3,256.8L320.5,258.9L319.7,262.2M442.1,230.3L445.5,232.2L447.5,235.6M379.4,293.5L380.9,288.9L381.8,284.1M465.9,344.7L463.9,345.5L461.9,346.0" stroke="#ffd37f" stroke-width="2.5" fill="none" stroke-linecap="round" stroke-linejoin="round"/><path d="M471.5,246.1L474.6,244.3L475.7,240.9M377.5,200.4L381.2,201.4L385.0,201.4M379.9,189.7L375.8,185.3L370.0,184.2M369.7,295.6L375.5,294.8L381.3,294.3M395.4,299.9L394.5,302.7L394.3,305.6M519.8,231.0L514.7,227.9L512.8,222.4M378.1,239.8L380.2,239.5L382.2,239.2M459.6,285.1L455.9,285.4L452.2,285.5M369.2,197.9L364.7,200.7L361.4,204.9M474.5,215.9L476.8,212.6L477.2,208.6M431.1,222.8L433.5,223.0L435.8,223.6M442.2,188.6L440.9,186.9L441.2,184.8M374.3,320.9L375.3,324.1L377.3,326.7M447.7,278.7L450.2,277.4L452.4,275.7M478.4,290.1L475.9,291.7L473.1,292.7M376.1,224.3L380.4,225.2L384.7,226.2M503.8,243.5L502.6,240.3L500.3,237.9M405.8,196.9L406.3,194.6L407.7,192.7M461.1,241.8L461.8,245.9L461.3,250.1M390.2,287.9L390.0,282.4L388.9,277.0M364.0,249.2L359.9,252.3L355.5,254.9M513.9,227.7L515.2,231.3L516.7,234.7M362.7,208.0L363.4,210.8L365.4,212.9M375.7,277.8L378.3,276.0L381.4,275.8M447.4,221.6L452.6,223.7L457.6,226.2M323.4,253.0L326.2,256.9L330.5,258.8M428.9,258.0L427.0,262.4L428.8,266.8M377.8,258.6L373.8,259.3L371.2,262.3M394.8,250.9L391.8,253.0L388.1,252.9M344.8,204.9L343.3,209.6L342.4,214.4M375.1,225.2L380.6,223.3L383.9,218.5M365.4,289.0L363.3,287.8L361.3,286.4M427.4,252.5L430.9,251.1L434.5,251.2M394.4,191.8L390.1,188.0L384.4,187.3M379.5,288.3L377.4,293.8L374.5,298.9M450.8,330.0L455.0,332.0L459.4,330.2M478.0,312.1L476.1,316.6L472.1,319.4M397.0,195.0L401.5,198.1L403.2,203.4M331.4,213.1L331.5,207.5L329.0,202.4M395.3,233.0L397.0,231.5L397.6,229.3M485.6,275.3L487.6,274.5L489.6,275.3M375.5,193.8L381.1,193.6L386.7,193.6M460.9,224.6L458.8,225.7L456.4,225.9M396.0,287.6L399.6,284.3L403.1,280.9M391.6,312.5L386.5,313.8L382.4,317.0M493.1,280.0L497.1,281.0L500.6,278.6M464.3,349.2L467.5,347.1L469.4,343.7M402.1,254.6L396.8,255.2L392.2,258.0M439.0,333.7L433.8,334.9L429.3,331.9" stroke="#e69800" stroke-width="1.5" fill="none" stroke-linecap="round" stroke-linejoin="round"/><path d="M440.6,338.4L443.7,338.9L446.8,339.0M386.1,307.0L382.6,306.4L380.6,303.4M351.1,208.4L347.0,212.7L346.5,218.6M335.2,268.0L333.1,269.1L330.7,268.7M314.3,252.6L315.6,247.2L320.4,244.3M431.7,205.6L434.6,208.1L438.1,209.9M439.9,223.2L441.3,227.3L445.2,229.5M445.7,234.3L446.0,230.5L447.3,227.1M364.1,218.8L366.5,222.5L366.3,226.9M442.6,210.1L439.0,209.3L435.4,208.3M464.2,217.1L463.5,213.4L461.0,210.5M466.0,197.2L462.1,194.4L457.3,194.7M471.1,297.5L468.7,299.2L466.0,300.1M402.5,258.8L397.2,259.1L392.1,258.2M431.1,265.5L435.1,269.7L437.3,275.1M420.3,256.0L418.7,260.5L418.4,265.3M309.8,242.6L315.5,244.3L320.5,241.0M472.6,220.3L468.9,221.1L466.3,223.7M452.4,207.8L446.7,207.6L441.2,206.2M398.7,215.1L399.1,217.7L400.1,220.2M469.0,299.6L469.5,301.9L470.1,304.1M323.4,253.1L324.8,248.9L323.9,244.6M416.4,235.3L412.3,235.9L409.3,233.1M515.4,244.3L511.6,248.0L506.9,250.5M317.1,269.3L321.5,271.3L325.3,274.2M406.0,226.4L402.9,229.7L403.5,234.1M379.9,222.7L379.9,220.6L379.7,218.6M465.6,203.5L469.2,205.5L470.7,209.4M469.0,286.6L463.9,286.4L459.1,288.0M490.5,226.5L492.1,223.8L495.0,222.7M404.0,281.7L402.6,278.6L403.3,275.3M432.6,272.3L434.4,273.5L435.8,275.2M405.4,218.3L404.8,215.2L402.4,213.2M477.4,206.9L473.8,211.0L472.0,216.2M461.7,189.6L464.6,186.6L464.7,182.5M460.1,234.9L460.6,237.4L459.9,239.8M401.2,303.3L399.3,305.4L398.9,308.2M399.5,207.1L396.0,209.8L393.1,212.9M336.0,229.7L338.4,229.3L340.1,227.6M438.0,245.7L441.6,246.9L443.3,250.4M378.8,231.6L382.6,230.1L383.9,226.3M383.3,299.5L384.9,302.1L386.1,304.9" stroke="#a87000" stroke-width="1.5" fill="none" stroke-linecap="round" stroke-linejoin="round"/><path d="M467.0,251.8L469.6,248.2L474.0,248.0M470.9,240.2L470.4,237.1L468.5,234.7M490.4,223.8L490.9,225.9L492.7,226.9M385.0,198.6L383.2,197.0L382.7,194.7M394.6,315.4L397.0,313.0L400.2,311.8M305.1,245.5L305.1,248.5L306.7,251.1M301.0,242.2L300.9,238.7L298.9,235.8M456.0,292.4L453.7,291.2L452.7,288.7M395.1,278.5L398.9,282.6L404.4,282.3M512.9,243.8L509.8,243.1L508.0,240.3M342.5,219.3L344.6,224.7L342.1,229.9M507.5,237.0L507.5,241.7L504.7,245.7M436.3,295.7L433.9,299.7L429.8,301.9M465.9,217.9L468.1,216.6L470.6,216.7M434.4,249.1L438.2,251.5L442.6,250.1M476.0,292.8L473.1,289.2L473.3,284.7M429.6,266.9L427.4,269.6L424.3,271.1M370.8,197.9L369.1,192.4L366.8,187.1M426.5,251.2L423.4,246.1L420.1,241.2M443.3,285.8L440.2,289.6L439.6,294.5M376.8,254.9L374.7,252.9L373.9,250.0M437.8,307.6L436.5,305.7L435.1,304.0M438.3,225.0L434.3,229.1L430.0,233.0M476.8,227.4L477.8,233.3L474.6,238.2M453.6,231.3L456.6,236.0L457.5,241.5M322.8,256.5L327.7,255.5L331.7,258.3M294.6,219.9L298.8,216.7L303.5,214.2M480.0,317.8L475.6,315.6L474.4,310.9M375.5,256.5L371.4,258.1L367.1,257.0M462.4,292.6L463.1,290.5L463.5,288.3M437.3,262.3L433.5,261.5L431.1,258.4M318.0,235.4L315.7,235.2L313.7,236.2M462.2,203.7L460.9,206.0L459.2,208.2M432.0,272.4L430.3,268.5L429.4,264.3M506.9,237.9L507.4,232.7L509.7,227.9M405.8,205.7L401.7,203.9L397.3,203.8M365.5,277.7L366.2,275.0L364.7,272.7M460.1,357.9L461.3,363.6L463.1,369.1M414.9,237.8L415.7,235.3L417.8,233.6M455.8,238.5L459.0,236.0L462.5,234.0M439.1,293.1L433.3,292.7L427.6,294.4M498.4,232.8L498.5,230.3L497.1,228.3M410.3,266.2L406.9,264.8L405.5,261.3" stroke="#ffff00" stroke-width="1.0" fill="none" stroke-linecap="round" stroke-linejoin="round"/><path d="M293.2,207.4L289.0,206.3L286.3,202.7M432.5,227.7L437.1,229.9L440.4,233.7M413.6,225.5L416.1,227.0L418.9,227.5M415.9,208.4L421.4,209.5L426.5,211.8M394.6,279.8L396.9,284.0L398.3,288.6M382.8,207.2L378.8,205.8L374.7,204.4M360.7,261.6L363.0,263.9L366.2,264.1M375.2,274.2L374.1,272.5L372.1,272.0M439.0,330.4L440.6,332.0L442.9,331.9M401.5,306.1L397.6,309.7L393.1,312.5M501.1,255.7L499.2,257.6L498.9,260.3M497.4,224.2L492.3,223.6L487.5,221.6M453.4,212.9L452.1,216.7L449.7,220.0M489.0,234.3L483.8,234.0L478.5,234.5M452.2,221.1L448.5,220.8L444.7,221.1M415.7,220.2L413.9,221.1L411.9,221.0M364.6,224.9L367.6,222.4L369.6,219.0M376.0,261.7L375.1,255.9L376.9,250.3M455.8,255.8L455.0,252.0L453.7,248.3M487.2,226.1L482.6,223.7L481.5,218.7M504.8,250.0L506.4,248.7L506.8,246.7M363.5,279.7L363.4,275.5L360.0,272.8M475.2,197.5L473.4,194.8L471.2,192.6M392.1,281.2L393.3,284.6L396.6,285.9M453.8,311.7L450.2,308.8L445.8,307.1M431.2,203.4L432.8,204.8L435.0,204.5M357.9,274.1L354.3,276.7L349.9,276.2M447.9,263.7L449.1,260.6L448.5,257.3M391.2,242.1L395.8,238.2L401.7,237.5M426.1,270.9L424.3,270.1L423.4,268.2M432.9,249.9L430.2,254.5L425.2,256.2M444.2,202.3L444.5,198.9L442.0,196.4M471.7,269.0L474.3,269.3L476.8,269.3M492.5,253.3L498.0,255.0L503.3,252.9M369.7,275.5L365.2,274.5L360.6,274.1M350.8,239.2L346.6,236.4L344.8,231.8M441.1,217.5L440.0,212.3L441.8,207.4M395.5,223.7L391.5,225.5L387.2,224.4M493.5,249.2L488.8,248.6L485.6,245.1M462.7,279.0L460.7,279.6L459.0,278.6M460.1,355.5L459.5,352.4L458.1,349.6M465.5,238.7L464.3,240.6L462.5,241.8M464.2,238.7L463.7,234.5L463.1,230.2M446.1,219.2L449.4,222.5L450.7,226.9M373.2,292.2L377.9,292.1L382.3,290.3M303.8,234.4L299.5,230.7L294.4,228.3M355.7,232.6L357.3,234.9L359.7,236.5M441.1,280.8L441.1,274.9L444.0,269.7M348.1,219.1L346.1,219.5L344.6,220.9M433.4,255.2L435.5,260.5L435.2,266.2M376.2,298.9L379.1,299.5L382.1,299.8M300.0,225.8L295.5,226.4L291.3,224.9M492.2,288.0L487.6,288.0L483.8,290.6M328.8,207.4L330.2,208.9L330.7,210.9M434.6,180.5L430.0,177.8L424.7,177.8M394.9,192.8L396.4,190.7L398.6,189.5M359.6,277.1L357.9,278.6L356.8,280.4M400.8,231.8L403.6,228.8L407.7,227.6M453.6,320.0L458.0,316.3L462.8,313.0M359.9,274.6L364.3,273.9L368.0,271.3M432.4,277.7L428.5,274.8L425.5,271.0M458.4,281.8L454.8,285.5L450.2,287.8M325.8,266.8L324.5,268.4L324.9,270.4M369.1,284.0L368.3,281.2L366.7,278.6M357.0,241.6L359.2,241.5L360.7,240.0M492.1,260.1L490.5,256.5L492.2,252.9M489.7,261.5L495.5,260.1L498.0,254.7" stroke="#e69800" stroke-width="1.0" fill="none" stroke-linecap="round" stroke-linejoin="round"/><path d="M484.4,220.9L490.1,222.2L495.3,219.5M391.5,292.1L391.4,286.4L387.9,282.0M404.7,203.8L407.6,205.5L410.9,204.8M435.0,295.0L437.4,294.6L439.7,293.8M379.0,189.6L378.0,193.3L374.4,194.7M354.2,206.8L353.0,201.7L353.8,196.5M480.5,228.3L477.3,231.4L477.1,235.8M379.1,266.2L381.9,267.8L385.0,268.2M303.0,204.3L301.4,207.3L298.6,208.9M452.9,210.3L450.7,205.5L445.6,203.8M430.3,220.1L429.2,225.3L432.0,229.8M471.6,273.7L471.7,270.9L472.2,268.1M468.4,255.4L466.9,260.6L464.3,265.3M452.7,348.4L453.8,346.5L453.9,344.3M341.2,251.0L344.9,254.6L349.7,256.7M472.7,350.6L476.0,347.5L480.6,347.4M365.3,256.9L362.7,257.5L360.2,257.0M302.8,216.0L302.4,210.9L305.6,206.9M446.2,332.0L446.3,334.8L445.5,337.5M364.2,270.3L366.0,272.6L368.4,274.5M447.7,236.2L443.5,238.0L441.1,241.9M450.9,208.5L452.8,207.0L452.8,204.5M361.9,232.7L359.9,228.3L359.0,223.7M454.3,298.3L450.7,299.7L448.5,303.0M438.0,194.8L439.0,197.5L441.3,199.3M483.5,232.7L485.4,235.6L486.5,238.9M366.2,206.9L370.9,203.5L374.5,198.9M337.4,217.3L334.6,217.3L331.7,217.4M455.5,317.6L458.3,317.4L461.0,316.6M490.4,242.7L494.0,238.5L494.1,232.9M446.6,309.7L448.1,315.0L450.9,319.8M393.0,248.1L390.3,245.8L387.8,243.2M385.4,268.6L388.0,268.4L390.6,267.9M307.2,223.8L311.6,227.1L317.0,227.5M438.5,236.0L436.1,234.5L433.3,234.8M468.6,296.1L466.5,292.6L465.0,288.8M487.3,232.1L489.3,232.6L490.9,234.1M405.0,200.5L402.9,196.5L400.0,193.2M455.3,324.4L452.4,320.0L450.8,315.0M413.2,211.2L412.5,206.7L411.6,202.3M489.8,249.6L493.6,251.0L497.3,249.1M468.6,349.1L466.1,353.1L461.5,353.9M288.9,200.5L285.3,196.3L283.3,191.2M472.7,236.7L474.8,239.1L477.0,241.4M400.3,288.5L404.2,285.2L404.1,280.1M454.3,200.3L455.8,203.3L454.6,206.5M513.9,242.0L515.6,240.5L517.5,239.2M311.0,274.7L316.0,275.9L319.1,279.9M427.1,285.9L426.4,289.7L425.0,293.3M459.6,250.3L463.5,254.1L466.1,259.0M468.4,222.6L464.6,218.1L463.1,212.4M459.8,301.0L457.9,304.8L453.9,306.3M364.5,216.4L366.1,219.9L369.6,221.8M377.2,283.2L380.6,283.7L384.0,284.5M399.1,189.4L400.8,187.4L403.1,186.1M392.7,222.3L387.3,222.2L382.4,224.6" stroke="#ffff00" stroke-width="2.0" fill="none" stroke-linecap="round" stroke-linejoin="round"/><path d="M423.8,198.1L421.4,197.6L419.3,199.0M338.4,274.6L334.4,273.4L332.2,269.9M415.0,208.2L417.5,206.5L420.5,206.9M356.1,229.4L350.9,228.0L348.6,223.1M321.0,205.4L323.0,204.5L325.0,203.8" stroke="#ffffbe" stroke-width="2.5" fill="none" stroke-linecap="round" stroke-linejoin="round"/><path d="M472.6,284.9L474.7,284.6L476.8,285.0M400.6,302.3L395.8,301.6L392.0,304.5M409.4,230.8L412.3,232.5L415.6,233.5M359.7,217.8L362.6,213.4L361.9,208.2M353.6,253.7L354.8,248.9L352.5,244.5M473.4,277.3L478.7,278.8L481.1,283.8M352.0,268.7L357.5,268.9L362.6,270.8M372.1,286.8L377.7,285.3L383.5,285.5M489.3,238.8L493.4,234.9L497.8,231.4M495.6,257.8L491.4,256.2L486.9,256.7M469.5,228.0L472.4,227.2L474.3,224.9M472.1,335.2L476.3,338.0L479.9,341.5M395.3,190.8L390.8,193.2L385.7,193.0M322.5,273.9L323.5,271.9L325.6,271.1M400.1,315.6L398.3,314.2L398.0,311.9M460.6,301.0L457.6,295.9L457.7,290.0M429.9,216.6L432.8,215.1L435.4,213.2M467.0,232.9L468.6,229.7L467.4,226.4M391.4,214.0L389.7,209.8L388.2,205.6M476.2,203.6L477.3,206.3L477.8,209.1M311.6,217.1L307.9,218.5L303.9,218.1M463.7,309.1L469.1,307.9L473.2,304.1M349.2,255.7L347.0,254.9L344.6,255.0M471.4,323.8L475.0,319.6L480.3,317.8M420.4,224.6L415.3,222.4L410.5,219.7M351.5,216.2L355.4,213.0L360.3,213.9M314.6,213.5L319.0,210.9L324.1,210.9M476.1,197.6L473.7,197.3L472.2,195.3M479.3,335.3L477.2,335.2L475.3,336.1M432.9,237.8L434.3,242.3L433.7,246.9M502.5,231.2L500.6,228.8L498.2,226.9M372.0,212.8L371.0,217.9L370.1,223.1M426.4,189.4L423.1,189.4L420.5,187.3M451.0,215.2L453.1,218.0L455.9,220.0M349.1,218.8L348.8,213.7L347.3,208.9M328.0,241.5L333.7,243.4L339.1,246.0M392.5,207.8L397.7,209.4L402.9,207.9M363.8,268.7L362.7,271.7L359.8,273.2M310.7,251.5L312.8,255.9L314.4,260.5M384.9,308.9L380.3,307.8L375.6,307.6M369.2,292.2L373.7,291.5L377.2,294.5M427.8,258.7L427.3,264.6L430.3,269.7M464.5,233.2L466.2,235.9L467.8,238.6M316.7,230.8L313.4,227.2L308.7,226.3" stroke="#e69800" stroke-width="2.0" fill="none" stroke-linecap="round" stroke-linejoin="round"/><path d="M368.6,296.6L365.8,293.9L363.2,291.2M365.5,279.6L365.5,276.6L366.1,273.7M404.9,295.1L404.9,297.7L403.2,299.7M452.2,357.3L452.3,354.3L450.9,351.7M441.2,203.8L437.0,205.8L434.8,209.8M512.6,226.1L513.1,228.8L514.5,231.1M316.8,238.0L314.7,238.8L312.7,237.7M516.9,192.2L515.5,188.9L512.1,187.7M408.6,244.2L412.9,241.1L416.6,237.2M459.0,292.1L457.1,292.4L455.2,293.1M396.8,305.4L391.8,308.6L387.0,312.0M455.8,194.6L458.6,193.1L461.7,193.2M455.2,189.4L450.8,189.1L447.3,186.3M391.6,215.8L392.2,218.8L394.3,221.0M434.7,244.8L439.8,243.2L444.5,245.9M452.5,266.4L456.3,265.8L459.5,263.7M385.0,300.3L387.8,296.6L390.4,292.7M450.7,305.4L453.4,306.5L456.3,306.1M453.6,277.7L455.0,275.2L456.0,272.5M321.0,259.1L324.7,258.3L327.1,255.4M436.3,255.8L437.2,258.8L438.5,261.7M484.6,271.4L486.6,269.6L489.3,269.4M423.9,251.6L428.2,252.9L431.0,256.5M305.3,241.4L307.7,246.3L306.1,251.6M463.7,217.4L466.5,222.4L472.1,223.8M369.4,238.6L372.1,240.7L374.6,243.2M511.7,246.1L512.5,249.9L511.4,253.7M441.3,246.1L442.6,247.7L444.5,248.5M407.5,237.3L412.1,238.2L416.5,239.8M451.4,316.6L446.1,319.3L441.0,322.2M425.6,228.3L420.7,227.0L415.9,228.5M414.6,224.4L419.0,225.0L422.9,222.8M458.4,193.5L456.8,189.9L458.7,186.3M376.1,280.1L372.6,284.4L367.9,287.2M484.9,234.1L490.1,234.6L494.2,237.8M470.0,307.1L466.9,305.7L463.4,305.7M438.6,202.8L438.4,206.7L438.3,210.5M325.8,225.8L325.6,222.4L322.9,220.3M493.4,206.5L491.9,201.0L493.6,195.6M456.2,343.9L458.7,341.3L459.8,337.9M388.4,257.9L388.7,260.4L388.1,262.9M358.4,226.3L355.8,229.0L354.3,232.4M380.4,252.2L377.8,256.1L377.4,260.7M379.2,286.7L380.1,284.8L382.0,283.9M295.0,225.8L299.4,228.8L304.5,230.2M494.3,243.0L489.5,240.0L485.8,235.7" stroke="#267300" stroke-width="1.0" fill="none" stroke-linecap="round" stroke-linejoin="round"/><path d="M444.9,256.0L441.1,251.6L440.0,245.9M427.3,276.8L424.6,278.4L423.7,281.4M353.2,245.1L355.2,248.3L357.5,251.2M452.5,340.8L450.6,339.6L448.3,340.0M414.6,242.1L414.6,245.9L411.7,248.3M481.2,292.2L483.1,294.8L484.6,297.7M335.3,202.2L331.2,198.9L331.1,193.5M421.6,280.5L419.5,278.7L417.6,276.7M403.1,241.2L406.3,239.3L410.0,239.8M288.2,200.0L289.8,197.5L292.7,197.2M442.6,266.4L441.6,261.1L444.7,256.7M383.7,293.9L378.2,296.5L372.3,296.7M503.6,219.1L501.6,219.4L499.8,220.2M401.9,246.4L402.6,248.9L404.3,251.0M454.4,217.5L453.2,222.8L448.8,225.7M377.1,257.2L378.7,261.2L377.3,265.4M396.3,291.9L396.9,294.3L397.8,296.6M511.6,235.2L514.7,239.7L514.2,245.1M478.9,202.3L475.1,199.1L473.3,194.5M349.1,253.2L344.6,253.5L341.6,250.3M449.6,250.6L449.1,253.3L449.9,256.0M361.6,265.1L362.4,259.3L362.9,253.4M501.8,246.9L504.7,244.5L507.2,241.7M382.5,214.6L380.8,216.3L378.5,217.3M482.7,214.6L481.6,212.3L479.3,211.1M313.4,242.8L315.8,247.1L315.6,252.1M375.5,206.8L373.6,210.3L373.8,214.3M445.8,337.3L449.4,334.7L449.7,330.2M405.2,213.9L401.7,209.9L399.3,205.1M418.0,199.3L412.2,199.0L407.0,196.4M429.5,230.8L429.1,235.3L428.9,239.8M347.5,260.7L345.2,261.2L343.0,260.6M354.2,209.5L356.4,208.6L357.7,206.6M408.2,263.6L411.2,259.8L414.4,256.1M370.9,219.0L368.7,219.2L367.1,220.7M381.7,224.1L383.3,227.6L385.0,231.0M443.7,195.7L443.0,199.4L440.3,202.1M322.8,238.1L324.0,242.7L323.7,247.4M468.5,265.1L471.5,267.9L471.9,272.0M314.0,259.1L311.0,260.0L308.5,261.8" stroke="#ffbebe" stroke-width="2.0" fill="none" stroke-linecap="round" stroke-linejoin="round"/><path d="M417.7,251.0L423.3,250.5L428.5,252.6M318.6,278.9L314.9,275.8L312.1,271.8M412.8,201.5L409.4,201.1L406.2,199.7M485.2,271.7L484.4,277.5L484.4,283.5" stroke="#4ce600" stroke-width="2.5" fill="none" stroke-linecap="round" stroke-linejoin="round"/><path d="M363.5,221.9L368.0,218.3L370.8,213.2M399.7,235.9L394.7,235.1L389.7,234.9M384.1,276.2L382.7,281.2L379.1,284.9M412.7,230.2L408.9,225.8L409.2,219.9M498.5,268.9L502.3,271.9L507.0,270.9M470.6,255.5L471.6,253.4L472.8,251.4M301.7,251.5L298.6,246.5L293.7,243.2M413.2,279.5L412.0,282.4L412.4,285.5M343.8,253.2L347.1,250.6L350.4,247.8M416.1,226.3L419.7,227.5L423.5,227.4M526.2,218.7L520.3,218.1L515.6,221.7M389.6,232.9L392.5,233.0L395.4,232.9M356.7,225.0L359.3,225.0L361.9,224.8M450.7,191.0L445.0,190.4L440.7,186.7M390.3,293.1L386.4,290.6L381.9,290.4" stroke="#4ce600" stroke-width="1.5" fill="none" stroke-linecap="round" stroke-linejoin="round"/><path d="M351.4,211.4L349.6,208.0L347.0,205.1M425.9,190.3L421.5,188.9L417.2,190.3M467.6,208.7L466.3,205.2L467.5,201.6M412.7,246.8L409.8,247.9L408.3,250.6M394.0,264.8L395.4,259.8L397.8,255.3M395.0,194.0L399.0,194.9L402.9,193.8M447.5,328.7L451.4,332.8L455.9,336.1M450.5,275.4L450.0,269.8L446.4,265.3M457.3,264.7L453.7,268.0L449.3,270.3M389.8,296.6L387.6,297.8L385.4,299.0M474.8,339.4L474.2,343.9L476.4,348.0M345.9,204.2L344.6,201.8L345.4,199.3M349.0,224.3L349.3,218.5L345.4,214.3M295.4,234.7L298.2,235.8L301.2,235.3M486.7,289.8L490.2,294.7L496.1,295.5M435.2,325.2L437.3,321.2L440.5,318.1M342.0,241.5L342.4,246.0L341.6,250.5M428.3,239.8L426.8,236.9L428.0,233.9M380.2,222.9L384.1,224.0L388.0,224.9M470.2,266.7L473.4,265.3L476.4,263.4M498.1,232.7L501.4,228.5L504.0,223.8M497.6,211.4L494.6,208.4L493.2,204.3M410.2,258.2L407.5,260.3L404.2,260.3M396.7,267.0L401.4,263.2L407.3,262.6M341.2,215.8L340.6,221.6L344.2,226.2M373.8,209.8L367.9,209.7L364.1,214.2M428.0,284.5L427.0,281.8L427.0,279.0M475.1,213.5L473.8,218.5L474.5,223.7M302.2,196.3L306.2,194.9L310.3,194.3M473.8,336.5L474.2,330.7L476.3,325.2M501.4,255.2L502.8,253.5L505.0,253.0M394.8,312.7L397.9,310.4L401.6,311.0M370.8,267.6L364.9,266.5L360.1,263.1M432.2,202.8L436.1,200.9L440.2,202.2M412.2,213.1L408.4,215.6L407.2,220.1M363.2,211.2L361.6,213.8L359.5,216.2M371.8,204.3L368.7,204.1L365.7,204.9M456.5,339.0L452.6,341.2L450.2,345.1M352.1,267.1L354.4,264.6L357.0,262.4M430.3,284.2L432.3,285.9L434.9,286.5M441.3,264.1L439.1,261.4L437.7,258.2M293.0,230.0L291.7,228.1L290.4,226.2" stroke="#a87000" stroke-width="1.5" fill="none" stroke-linecap="round" stroke-linejoin="round"/><path d="M413.9,222.9L417.5,223.1L420.8,224.6M380.3,280.0L380.2,276.8L378.0,274.4M461.3,319.1L463.2,323.1L466.6,325.9M437.0,228.7L437.2,230.9L438.8,232.4M482.7,222.4L484.5,218.8L484.1,214.8M363.7,273.3L365.7,275.5L366.9,278.1M467.3,277.2L463.3,278.5L459.6,276.4M471.0,346.1L475.1,348.3L477.9,352.1" stroke="#4ce600" stroke-width="1.0" fill="none" stroke-linecap="round" stroke-linejoin="round"/><path d="M488.3,285.6L482.6,286.3L479.5,291.1" stroke="#ff0000" stroke-width="2.5" fill="none" stroke-linecap="round" stroke-linejoin="round"/><path d="M477.8,311.7L477.9,314.5L476.5,316.9M294.2,205.0L290.6,203.8L287.2,202.4M424.3,244.5L425.0,248.6L427.9,251.7M411.0,292.7L406.4,293.8L404.4,298.0M387.9,212.3L389.5,207.8L393.3,204.9M394.0,242.4L393.7,246.7L393.2,250.9M464.3,316.7L463.7,314.5L464.1,312.3M493.7,254.1L490.8,258.2L486.1,259.9M353.0,199.7L349.8,203.6L344.8,204.5M500.0,219.0L495.9,219.1L492.9,216.3M371.1,253.6L377.1,253.6L382.8,252.0M352.5,267.9L350.0,272.8L346.0,276.5M351.3,214.5L350.1,218.5L351.5,222.5M401.2,204.7L403.5,201.4L405.7,198.1M336.4,219.0L338.9,220.7L341.9,221.4M455.3,332.6L453.5,328.8L451.1,325.4M363.9,232.3L367.7,233.9L371.8,234.9M378.2,279.1L374.5,279.7L371.6,277.2M376.6,195.1L381.8,193.4L387.0,191.6M457.7,221.7L453.9,223.2L451.1,226.2M375.1,210.3L377.7,209.7L379.2,207.6M389.7,291.9L392.3,293.4L394.5,295.4M489.2,257.1L491.5,262.4L492.6,268.2M512.2,223.7L515.0,222.2L518.0,223.5M304.5,201.4L308.4,203.0L310.2,206.9M339.3,271.0L344.4,270.0L348.7,272.9M458.3,311.1L460.4,307.9L463.8,305.9M414.5,209.6L410.7,210.8L406.8,210.2M454.9,317.3L450.7,315.5L447.8,312.1M369.2,287.0L366.6,291.1L367.1,295.9M358.7,266.5L358.4,272.1L355.7,277.0M377.5,200.1L373.9,198.4L369.9,198.8M494.8,204.8L497.0,202.4L497.6,199.2M366.2,288.1L366.2,282.1L370.7,278.2M420.1,227.1L423.4,230.1L427.8,229.9M301.6,244.6L306.0,245.1L309.9,247.3M456.8,190.6L459.3,191.0L461.6,190.0M367.0,263.7L366.6,265.9L367.8,267.7M299.9,193.0L301.9,192.8L303.7,193.7M404.0,204.5L407.5,208.2L412.7,207.8M323.6,214.2L318.6,211.7L313.7,209.0" stroke="#a87000" stroke-width="1.5" fill="none" stroke-linecap="round" stroke-linejoin="round"/><path d="M463.4,337.2L468.2,336.2L472.0,333.0M313.8,245.3L311.6,241.1L311.5,236.4M490.9,252.7L487.3,254.0L483.6,254.9M326.1,229.9L329.2,232.8L331.8,236.2M390.9,203.2L394.3,208.1L396.0,213.8M342.3,231.6L346.5,233.4L349.9,236.2M484.2,262.5L486.0,257.2L490.1,253.4M387.0,310.1L384.6,305.5L379.7,303.8M478.9,313.6L481.0,318.4L480.7,323.6M423.3,284.7L422.5,287.6L420.3,289.7M438.2,245.8L434.8,246.5L431.5,247.4M347.7,204.4L346.1,200.5L343.2,197.6M476.2,213.7L473.9,208.8L471.6,204.0M417.3,242.6L415.2,240.3L412.1,239.7M473.1,348.6L469.4,347.1L465.5,348.3M327.6,234.6L327.5,237.2L327.4,239.9M343.1,257.2L338.6,255.1L333.8,256.6M302.8,236.6L298.0,236.9L294.9,240.5M471.1,345.0L467.0,343.7L464.0,340.5M404.8,300.8L402.8,301.4L400.8,301.8M482.0,227.9L479.5,227.1L476.9,227.5M434.2,323.7L431.8,323.0L429.3,322.3M308.9,254.8L309.1,252.5L307.7,250.6M484.7,267.0L487.8,268.3L491.2,268.5M501.9,248.9L500.5,254.0L498.0,258.6M424.9,242.9L426.5,244.7L428.9,245.1" stroke="#e69800" stroke-width="2.5" fill="none" stroke-linecap="round" stroke-linejoin="round"/><path d="M427.0,224.7L422.4,221.8L420.0,217.0M374.3,214.5L376.2,210.8L379.9,209.0M444.6,283.8L444.0,281.0L443.8,278.1M364.6,224.3L368.7,225.2L372.0,227.7M347.3,208.7L342.2,211.7L336.9,214.2M457.3,236.5L456.1,241.9L453.6,246.8M445.9,237.6L442.4,241.0L439.5,245.0M410.3,253.8L412.4,259.0L410.5,264.2M452.7,327.6L449.4,331.2L444.4,331.9M492.5,272.9L494.2,268.4L496.4,264.1M456.5,264.6L458.1,266.6L460.6,266.8M350.6,227.3L348.9,230.1L346.7,232.4M380.1,264.1L382.4,263.5L384.8,263.8M330.4,207.1L333.8,207.3L337.0,206.2M332.3,239.7L334.8,242.9L338.8,243.0M297.7,233.6L302.1,233.4L305.8,235.6M299.6,229.3L299.0,225.8L297.5,222.6M395.2,303.2L393.0,298.5L390.0,294.2M311.7,205.4L309.3,209.0L305.5,211.1M304.5,231.7L307.2,234.7L309.9,237.8M306.0,196.5L308.8,196.5L311.0,194.8M457.6,221.1L456.7,223.8L457.2,226.6M348.9,263.6L346.5,260.8L343.7,258.4M436.7,270.5L431.3,269.4L425.9,267.8M458.6,214.3L457.6,217.0L456.6,219.7M350.0,238.1L347.5,236.1L344.3,236.3M384.2,192.2L383.5,186.4L381.3,180.9M456.8,264.5L456.2,268.3L454.9,271.9M307.7,240.7L313.3,240.7L319.0,241.2M519.1,227.7L525.0,226.4L530.9,227.4M463.5,272.9L460.8,278.3L455.3,280.5M404.1,219.0L398.9,221.6L397.6,227.3M425.2,282.7L425.6,285.0L424.2,286.9M316.4,245.8L320.2,247.1L324.2,246.3M297.0,206.9L298.3,204.7L299.8,202.6M363.8,293.1L364.0,298.7L364.0,304.3M439.7,314.7L442.5,318.5L447.1,319.6M465.6,259.0L470.3,257.6L475.2,257.7" stroke="#a87000" stroke-width="2.5" fill="none" stroke-linecap="round" stroke-linejoin="round"/><path d="M318.0,217.8L317.2,215.6L315.2,214.5M394.5,316.9L396.8,316.6L398.9,316.0M365.1,248.8L363.1,243.2L358.8,239.3M474.1,213.4L471.0,213.1L467.9,212.7M448.1,345.4L446.0,350.1L447.5,355.1M421.5,208.8L420.9,211.8L419.6,214.6M510.4,243.9L515.4,245.0L519.5,242.0M341.5,264.0L339.5,266.4L339.4,269.5M393.5,202.5L396.3,204.6L398.0,207.6M504.3,238.4L500.3,235.5L498.4,230.9" stroke="#ffffbe" stroke-width="1.0" fill="none" stroke-linecap="round" stroke-linejoin="round"/><path d="M388.0,282.7L383.8,281.1L380.2,278.5M350.2,259.9L346.2,263.4L341.0,264.3M452.7,187.7L448.8,191.4L443.4,191.9M429.7,197.4L427.5,194.7L424.0,194.3M430.0,245.0L429.4,242.4L430.0,239.8M481.6,267.0L485.6,271.0L490.1,274.5M409.7,253.8L410.4,257.3L408.6,260.4M335.5,220.2L331.2,220.2L327.6,222.5M334.1,256.1L337.5,256.1L340.3,254.1M349.6,260.0L350.3,262.8L349.1,265.5M412.3,267.4L414.1,265.0L414.3,262.0M496.4,241.2L495.1,238.4L496.0,235.4M442.3,219.4L444.3,222.9L445.4,226.7M487.6,254.0L488.3,256.0L489.5,257.8M363.4,219.2L360.2,216.2L356.0,215.0M384.7,295.0L381.3,293.5L377.6,293.1M481.7,270.7L482.5,272.6L483.4,274.4M410.6,213.5L414.8,209.5L419.1,205.8M420.5,187.4L418.9,184.0L416.3,181.3M291.9,208.0L291.4,212.9L288.3,216.8M450.1,237.1L449.8,233.1L448.0,229.6M350.0,203.7L352.2,202.0L354.3,200.1M353.7,256.2L357.2,258.5L358.6,262.4M446.9,332.4L448.4,327.5L447.8,322.5M483.2,267.2L483.7,263.4L483.0,259.7M333.5,262.9L328.5,264.1L323.3,263.9M379.4,251.3L375.9,250.9L373.8,248.2M357.3,249.5L351.9,248.3L346.4,247.6M319.4,234.4L316.3,231.2L313.4,227.7M446.8,282.8L443.3,279.6L438.6,278.9M481.2,329.3L484.5,334.3L485.9,340.1M467.3,293.6L463.5,295.7L459.4,297.3M405.9,220.4L402.7,223.7L398.5,225.6M419.1,239.9L416.0,239.9L412.8,240.2M454.2,329.5L451.2,330.6L448.0,330.7M304.6,249.1L307.8,250.3L309.6,253.2M319.1,258.3L317.4,254.6L314.7,251.6M455.5,223.1L454.6,225.3L454.9,227.6M469.7,313.4L465.1,313.5L460.5,313.8M458.0,298.7L457.3,294.7L453.7,292.6M443.6,287.7L442.4,290.1L443.5,292.6M446.6,187.6L442.7,189.5L438.6,188.0M488.3,246.3L491.4,245.5L493.5,243.1M459.5,215.7L461.4,217.4L463.8,218.5M394.1,287.0L397.6,288.3L401.1,289.8M328.8,226.3L330.5,223.8L333.0,222.3M450.6,314.9L445.7,315.2L440.7,314.7M459.6,350.8L458.6,354.5L460.3,357.9M390.7,214.2L392.7,215.4L393.8,217.5M397.5,319.5L398.1,314.5L397.6,309.5M406.2,289.0L410.2,289.3L413.5,291.5M367.6,275.0L366.1,279.1L365.9,283.6M352.4,202.8L354.0,199.5L357.2,197.6M461.2,217.8L458.6,215.4L455.1,215.6M382.5,243.6L379.2,247.0L375.6,249.9" stroke="#a87000" stroke-width="2.0" fill="none" stroke-linecap="round" stroke-linejoin="round"/><path d="M381.9,258.3L383.3,262.5L387.4,264.1M327.0,240.7L329.5,240.4L331.6,239.0M470.9,213.6L470.9,211.1L472.4,209.0M388.8,269.2L389.5,265.9L389.5,262.5M486.4,298.5L486.3,295.2L486.0,291.9M414.5,214.3L413.3,216.0L411.2,216.6M308.1,260.2L304.0,259.2L299.8,259.8M411.2,274.2L413.9,273.1L416.6,273.6M458.0,347.1L453.4,349.9L448.1,349.2" stroke="#ffffbe" stroke-width="1.5" fill="none" stroke-linecap="round" stroke-linejoin="round"/><path d="M317.5,226.1L320.2,224.5L322.6,222.6M517.8,242.2L520.1,246.7L521.0,251.7M410.1,217.2L412.9,215.3L415.8,213.6M454.7,272.0L456.9,271.1L458.2,269.1M423.8,280.3L427.4,281.6L431.1,282.7M343.9,225.2L345.3,228.3L347.1,231.3M341.8,218.7L336.9,217.9L332.8,215.0M445.5,337.9L444.4,339.8L442.8,341.4M492.5,246.5L496.8,247.2L500.1,244.4M401.8,249.2L399.9,254.4L401.6,259.7M458.4,219.0L458.6,221.6L460.2,223.7M396.1,250.5L392.9,250.5L390.7,248.3M479.3,335.4L481.0,333.6L483.3,333.2M376.5,257.2L373.3,259.0L372.2,262.6M424.3,236.1L427.6,236.3L430.8,237.3M309.5,238.3L311.6,236.8L313.8,235.4M290.6,206.0L293.3,207.9L294.1,211.1M362.2,244.5L364.9,248.1L367.5,251.7M308.8,274.6L306.8,275.1L304.8,275.8M329.1,233.0L329.4,229.4L331.9,226.8M367.3,278.1L364.5,279.6L362.7,282.2M362.5,229.2L367.1,230.2L371.7,229.1M410.0,293.3L411.9,289.2L415.5,286.5M466.7,301.3L466.4,305.4L464.2,308.9M434.6,209.6L434.0,212.4L432.3,214.8M332.7,265.7L332.5,268.3L332.1,270.9M460.8,196.4L457.9,200.4L457.7,205.3" stroke="#b4a20a" stroke-width="1.5" fill="none" stroke-linecap="round" stroke-linejoin="round"/><path d="M406.9,271.7L404.2,271.0L401.5,270.4M467.7,219.4L469.4,221.9L470.0,224.8M346.5,232.2L342.5,233.5L339.1,236.0M473.9,348.7L471.7,348.5L469.7,349.2M401.8,207.6L401.3,211.4L398.0,213.3M431.7,186.1L432.4,191.2L435.4,195.4M387.2,201.6L387.7,196.8L388.2,192.0M470.6,202.5L475.4,204.9L480.7,204.5M386.9,241.3L383.6,242.4L380.6,244.3M462.6,354.0L467.9,351.8L473.3,353.8M425.1,194.1L429.6,191.7L434.4,193.1M498.9,249.3L498.1,253.4L496.7,257.3M481.1,234.1L484.4,237.8L488.6,240.5M376.5,260.0L377.1,257.1L376.1,254.4M365.7,215.9L363.7,212.6L364.6,208.9M450.7,222.9L447.4,221.7L444.9,219.2M453.5,278.1L456.2,275.5L457.7,272.1M414.3,224.2L416.3,221.8L417.2,218.8M316.5,241.4L319.9,239.5L323.4,237.5M469.1,202.9L472.8,204.6L473.9,208.6M390.3,270.6L393.3,272.4L396.6,273.1M312.2,228.7L309.5,231.6L308.1,235.3M349.9,230.4L348.5,235.4L347.3,240.4M440.6,277.6L437.8,275.9L437.0,272.7M432.2,210.1L436.7,208.0L441.7,208.4M306.4,250.1L306.9,252.8L308.8,254.6M358.1,205.9L363.2,205.5L367.5,202.7M380.9,269.5L383.0,268.7L385.3,269.0M374.8,300.1L371.2,304.1L371.8,309.4M460.8,229.5L456.1,230.4L453.3,234.3M385.6,279.2L382.4,279.7L379.2,280.2M500.1,232.8L495.5,234.6L491.3,237.4M468.7,331.4L467.3,326.6L470.1,322.5M382.9,247.2L384.6,242.4L387.3,238.2M327.0,250.2L327.5,252.3L329.1,253.8M338.0,239.4L335.1,237.4L334.1,234.1M449.2,313.2L450.3,311.5L449.8,309.5M450.8,229.9L450.4,231.9L449.0,233.4M440.0,335.2L438.9,339.5L439.9,343.9" stroke="#ffd37f" stroke-width="1.5" fill="none" stroke-linecap="round" stroke-linejoin="round"/><path d="M335.4,217.8L333.7,219.2L331.6,218.9M456.7,205.4L455.0,206.6L452.9,207.3M483.4,315.5L485.9,317.8L488.8,319.7M449.5,265.2L450.4,262.8L451.0,260.4M315.7,251.8L318.5,251.6L321.3,252.0M496.4,213.5L499.2,212.6L501.6,210.8M438.9,208.8L441.0,209.9L443.4,209.5M487.8,262.7L491.4,267.2L491.8,273.0M450.9,269.4L448.3,268.1L446.1,266.3M344.6,236.0L339.6,236.5L336.9,240.6M309.8,202.1L309.9,205.9L310.4,209.6M286.7,203.4L282.2,206.1L277.3,204.6M513.2,227.0L512.9,222.0L512.0,217.0M395.5,230.4L400.2,227.1L405.8,226.4M431.1,187.3L428.2,185.1L425.2,183.1" stroke="#b4a20a" stroke-width="2.0" fill="none" stroke-linecap="round" stroke-linejoin="round"/><path d="M386.8,198.3L381.9,196.9L377.4,194.5M492.4,204.7L490.6,209.6L490.2,214.8M400.1,317.6L400.6,320.3L401.8,322.7M477.9,263.2L480.0,264.8L481.3,267.2M420.5,248.9L424.2,247.8L427.5,249.7M453.0,313.3L453.0,309.4L454.3,305.7M461.0,278.9L457.2,278.2L453.4,278.9M397.8,279.9L400.0,284.0L404.6,284.8M413.9,267.5L411.7,269.1L409.3,270.5M378.4,287.1L376.8,282.1L377.6,276.8M373.2,280.4L376.0,283.7L376.6,288.1M466.3,311.2L467.8,313.5L469.9,315.3M471.2,346.8L475.4,347.3L479.5,346.7M367.7,222.9L370.9,221.0L373.4,218.3M348.4,236.3L346.3,238.9L344.8,241.9M325.0,216.3L329.1,212.9L333.7,210.3M473.6,338.4L477.8,337.2L481.7,335.4M420.5,245.0L421.6,239.2L418.4,234.3M409.8,223.8L412.1,226.2L414.4,228.7M439.3,213.7L437.2,214.9L434.8,215.4M361.8,289.3L361.8,291.8L362.6,294.1M381.2,295.9L381.5,299.9L384.4,302.7M481.7,274.6L483.4,276.9L486.2,277.9M462.8,283.1L462.3,278.9L461.5,274.7M481.9,220.8L478.1,223.5L475.8,227.5M434.0,235.8L435.3,240.3L439.3,242.6M335.0,216.8L335.4,221.2L337.8,224.9M433.1,185.9L435.2,188.9L438.8,189.1M452.7,304.8L449.8,306.3L447.0,308.0M430.2,220.3L425.8,219.4L421.4,220.4M506.8,249.2L507.8,254.5L509.4,259.7M421.9,270.2L420.9,273.8L421.0,277.6M497.1,223.9L499.7,221.1L503.5,220.4M428.8,283.8L428.4,278.1L429.9,272.5M434.4,261.8L436.8,263.8L436.7,266.8M457.8,329.6L459.7,333.1L458.4,336.8M473.8,244.1L478.4,241.7L483.5,240.9M419.5,224.3L423.0,221.3L425.8,217.6M393.6,314.3L393.5,318.1L394.8,321.7M475.9,236.6L477.4,239.4L477.2,242.6M475.8,222.8L471.5,224.4L467.9,227.1M450.7,236.9L451.9,231.9L450.1,227.1M466.9,275.9L462.7,275.3L458.4,275.0M353.8,223.0L357.5,227.3L356.6,232.8" stroke="#e69800" stroke-width="2.0" fill="none" stroke-linecap="round" stroke-linejoin="round"/><path d="M439.3,285.3L433.9,287.6L428.1,288.7M479.0,244.2L481.3,245.9L483.7,247.5M386.3,229.7L380.6,230.5L374.8,230.0M410.7,248.9L410.7,253.4L413.9,256.6M319.3,266.3L318.0,262.7L315.2,260.1" stroke="#ff0000" stroke-width="1.0" fill="none" stroke-linecap="round" stroke-linejoin="round"/><path d="M457.9,290.2L455.7,288.0L452.7,287.4" stroke="#ff0000" stroke-width="1.5" fill="none" stroke-linecap="round" stroke-linejoin="round"/><path d="M512.8,246.3L510.1,248.9L509.8,252.7M435.8,221.3L440.5,220.3L445.3,219.5M373.8,292.0L375.1,296.0L373.4,299.9" stroke="#b4a20a" stroke-width="2.5" fill="none" stroke-linecap="round" stroke-linejoin="round"/><path d="M450.3,313.0L447.8,312.9L445.9,314.3M323.8,230.6L322.1,233.8L318.6,234.9M491.1,208.0L488.6,202.9L490.8,197.6M497.7,265.1L498.9,267.9L501.3,269.8M457.3,238.8L460.7,235.1L463.0,230.7M481.1,291.2L478.8,289.0L476.7,286.5M428.9,182.3L429.5,180.4L431.3,179.4M494.8,242.2L496.6,238.2L500.1,235.6M470.8,228.4L473.0,227.7L475.2,228.1M378.4,305.6L379.7,307.5L382.0,307.9M472.7,269.4L475.7,271.0L477.1,274.0M501.6,252.7L501.1,249.8L502.0,247.0M492.2,226.3L490.6,229.3L491.6,232.5M462.4,213.5L463.2,216.8L463.9,220.1M492.6,257.7L494.7,253.5L497.7,249.7M394.2,228.0L395.4,223.9L399.0,221.8M311.1,241.7L315.3,244.5L319.3,247.6M399.8,215.7L396.2,212.2L392.4,209.0M389.1,211.4L387.5,216.4L382.7,218.5M334.2,233.5L333.7,236.6L333.9,239.7M363.8,250.1L365.3,251.4L367.4,251.2M476.7,336.5L476.9,338.6L477.8,340.6M333.8,260.6L331.3,258.8L328.2,259.0M427.5,277.9L429.8,275.0L430.6,271.3M490.6,228.3L491.1,233.0L487.7,236.4M438.5,307.2L438.2,310.3L439.9,313.0M481.3,238.0L479.9,240.2L477.5,241.1M463.5,232.0L460.8,233.3L457.8,233.6M393.1,199.3L388.7,196.4L383.6,197.7M478.7,210.8L477.4,206.1L476.3,201.4M394.6,310.7L395.7,307.8L397.6,305.4M406.0,234.1L407.7,230.0L406.7,225.7M336.3,200.3L338.6,202.2L341.3,203.3M471.7,266.8L470.6,269.6L468.7,272.0M374.8,274.7L377.0,271.0L377.3,266.8M402.0,207.4L405.0,203.9L409.3,202.1M356.0,224.3L358.2,220.2L360.9,216.5M438.8,278.0L434.7,275.4L430.4,272.9M363.3,285.2L361.2,279.6L355.6,277.4M461.3,358.5L462.9,360.9L463.2,363.7M418.6,206.4L421.6,206.0L424.3,207.6" stroke="#ffbebe" stroke-width="2.0" fill="none" stroke-linecap="round" stroke-linejoin="round"/><path d="M319.1,211.3L320.2,207.7L321.5,204.2M451.7,333.2L447.5,332.2L444.2,329.4M392.6,220.2L395.4,220.4L397.8,219.1M426.2,261.9L422.4,265.9L416.9,266.6M312.9,281.0L310.1,284.7L311.0,289.2M487.4,212.7L483.7,215.2L480.9,218.7M364.0,289.0L361.7,290.2L359.2,290.9M322.9,232.1L328.4,232.3L333.4,230.2M458.7,198.8L456.7,200.6L454.1,200.1M399.0,282.0L399.9,276.3L398.8,270.7M476.3,226.6L473.9,231.3L471.2,235.8M454.1,320.5L452.2,325.1L447.5,326.6M404.9,192.7L410.2,192.4L415.5,192.2M467.6,304.4L470.5,302.0L471.3,298.4M482.6,204.4L480.2,207.4L476.3,207.5M295.2,226.9L293.4,231.9L292.4,237.1M327.0,249.9L324.5,249.9L322.3,248.7" stroke="#4ce600" stroke-width="2.0" fill="none" stroke-linecap="round" stroke-linejoin="round"/><path d="M390.4,252.4L385.8,255.8L380.1,256.5M476.0,238.0L474.0,236.6L471.5,236.8M453.9,192.4L451.2,194.6L449.5,197.7M403.4,274.7L406.7,276.6L408.4,280.0M321.3,211.0L324.8,209.7L328.2,211.2M315.2,202.1L319.1,202.5L322.0,205.1M430.3,193.9L432.2,197.2L435.6,198.7M465.4,326.0L463.8,323.3L464.4,320.3M479.4,227.3L481.5,226.5L483.8,226.6M429.8,266.3L426.1,264.7L422.5,262.7M313.9,275.7L313.7,280.0L311.1,283.5M492.2,277.8L496.5,275.7L497.6,271.0M362.1,231.9L360.7,233.8L359.1,235.4M316.7,211.0L313.2,211.9L310.1,209.9M452.3,297.1L450.9,291.8L449.9,286.5M421.5,237.2L423.3,240.5L425.8,243.4M312.2,224.7L309.9,227.1L306.9,228.6M394.6,233.0L396.6,235.4L396.0,238.4M433.5,293.8L432.6,288.6L432.0,283.4M418.0,283.0L419.0,278.1L421.4,273.8M352.9,256.4L353.6,260.2L356.4,262.9M401.8,206.8L399.0,208.9L395.6,208.1M454.5,345.5L455.5,340.6L459.3,337.3M455.7,215.1L453.8,217.9L454.7,221.1M349.4,259.4L354.2,262.1L359.5,260.6M411.5,279.8L416.1,279.9L419.9,282.3M483.8,305.8L486.1,306.9L488.6,307.4M474.0,217.8L469.4,215.3L464.2,215.0M375.7,240.9L371.3,241.2L367.8,238.7M444.5,279.9L441.2,278.0L438.4,275.4M440.5,226.4L442.5,228.9L443.8,231.8M510.5,236.8L506.7,236.6L502.9,237.0M415.4,206.0L418.7,202.1L418.9,197.0M388.0,252.1L389.9,250.0L389.4,247.3M444.0,280.7L444.8,283.6L444.1,286.4M409.5,300.1L406.1,298.3L402.2,298.5M484.8,269.9L489.8,273.0L495.6,274.0M414.0,211.8L410.5,213.5L406.7,214.3M403.3,261.5L405.7,266.9L404.8,272.8M363.2,292.6L365.8,292.9L368.2,291.8M424.7,240.7L422.6,241.1L420.6,240.3M447.4,284.6L449.7,288.6L449.4,293.1M389.7,295.2L390.5,297.6L390.0,300.1M423.5,187.7L426.8,182.8L426.7,176.9M371.1,194.9L373.1,192.6L374.0,189.7M462.3,272.9L462.5,267.7L463.7,262.6M301.4,219.4L305.1,216.3L309.8,215.0M464.6,268.3L465.1,270.7L463.6,272.6M403.2,307.3L405.6,310.4L407.0,314.1M464.3,258.7L459.4,258.4L454.6,257.9M363.9,222.7L364.4,217.3L363.3,211.9M452.7,335.9L449.8,338.1L447.0,340.3M458.2,216.1L460.7,214.8L463.4,215.0M425.5,277.9L428.7,276.3L431.5,274.3M315.6,282.4L314.1,278.1L314.7,273.7M322.2,245.2L326.4,241.8L331.9,242.0M455.2,282.4L457.2,283.1L459.3,283.7M366.8,214.5L365.8,217.2L363.1,218.2M365.0,263.8L366.1,267.9L369.6,270.1M441.2,298.9L439.2,298.6L437.3,299.4M406.4,238.2L403.9,243.0L405.1,248.4M344.0,269.2L346.5,269.1L348.9,268.5M312.2,219.8L310.5,217.6L310.2,214.9M338.9,247.7L336.0,249.2L333.5,251.2M500.5,232.4L502.4,238.0L501.3,243.8M473.3,319.1L476.4,318.1L477.8,315.3M493.7,204.7L495.4,199.3L500.1,196.0" stroke="#267300" stroke-width="1.5" fill="none" stroke-linecap="round" stroke-linejoin="round"/><path d="M380.7,237.7L382.5,241.6L381.1,245.7M380.1,277.4L381.8,281.5L384.9,284.8M450.5,241.7L454.0,246.1L459.2,248.0M393.0,295.1L390.6,297.2L387.6,298.0M433.6,186.1L430.6,187.4L429.0,190.2M328.4,268.4L327.2,264.6L326.1,260.8M404.0,237.2L408.0,240.3L408.7,245.4M402.1,269.4L403.8,266.9L403.6,263.9M367.5,253.2L364.1,256.9L359.7,259.5M357.6,275.4L358.8,272.2L360.3,269.1M396.2,276.7L392.7,275.1L389.0,273.9M444.6,317.4L440.2,320.9L436.7,325.2M436.8,299.3L437.8,296.4L437.2,293.4M305.7,201.1L308.5,201.1L310.6,203.0M368.0,286.9L368.5,292.8L370.6,298.2M506.1,244.8L503.4,240.8L500.9,236.8M322.0,211.5L316.4,213.5L313.9,218.9M305.4,243.2L302.6,243.6L301.1,246.0M418.3,222.0L416.8,223.8L415.9,225.9M458.3,212.2L459.4,215.1L460.6,218.0M406.7,206.7L409.9,203.0L414.3,200.8M439.5,255.6L438.8,253.2L438.5,250.8M453.8,217.6L450.3,218.0L446.9,217.2M418.1,265.9L419.8,267.1L421.1,268.6M465.1,361.8L468.0,367.0L471.0,372.1" stroke="#ffbebe" stroke-width="2.5" fill="none" stroke-linecap="round" stroke-linejoin="round"/><polygon points="393.6,199.4 403.2,197.4 408.9,203.2 401.3,208.9 395.5,214.6 391.7,208.9" fill="#ffbebe" fill-opacity="0.7"/><polygon points="412.7,216.5 422.3,214.6 428.0,222.3 420.3,228.0 413.7,226.1" fill="#ffbebe" fill-opacity="0.7"/><polygon points="384.1,220.3 391.7,218.4 395.5,226.1 387.9,229.9" fill="#ffbebe" fill-opacity="0.7"/><polygon points="372.6,249.0 387.9,245.2 399.4,249.0 393.6,254.7 376.5,256.6" fill="#ffbebe" fill-opacity="0.7"/><polygon points="429.9,195.5 439.4,193.6 441.3,203.2 433.7,208.9 428.9,203.2" fill="#ffbebe" fill-opacity="0.7"/><polygon points="361.3,208.6 372.8,206.7 374.7,218.2 367.1,223.9 360.4,218.2" fill="#ffbebe" fill-opacity="0.7"/><polygon points="304.1,243.0 313.6,241.1 315.5,252.5 307.9,254.4" fill="#ffbebe" fill-opacity="0.7"/><polygon points="323.6,247.6 333.2,245.7 331.3,257.2 325.5,264.8 319.8,262.9" fill="#ffbebe" fill-opacity="0.7"/><polygon points="340.8,251.5 352.3,250.5 356.1,259.1 344.6,261.0" fill="#ffbebe" fill-opacity="0.7"/><polygon points="381.5,243.8 392.9,241.9 396.7,249.5 385.3,251.5" fill="#ffbebe" fill-opacity="0.7"/><polygon points="437.8,174.3 452.1,168.6 460.7,168.6 477.9,178.1 500.8,194.4 508.4,187.7 520.8,194.4 532.3,210.6 523.7,221.1 518.0,225.8 506.5,221.1 497.0,203.9 483.6,200.1 472.2,194.4 462.6,188.6 453.1,186.7 441.6,181.0 434.0,179.1 434.0,174.3" fill="#e69800" /><polygon points="445.5,175.3 456.9,171.5 466.4,179.1 476.0,186.7 472.2,190.5 462.6,184.8 451.2,182.9" fill="#a87000" /><polygon points="481.7,188.6 497.0,196.3 510.3,198.2 519.9,203.9 518.0,209.6 506.5,207.7 495.1,201.0 483.6,195.3" fill="#a87000" /><polygon points="462.6,173.4 472.2,179.1 479.8,180.0 476.9,183.9 468.4,181.0" fill="#ffd37f" fill-opacity="0.6"/><polygon points="510.3,191.5 519.9,195.3 525.6,201.0 519.9,201.0 512.2,196.3" fill="#a87000" fill-opacity="0.8"/><polygon points="488.4,223.0 497.0,215.3 510.3,209.6 523.7,207.7 529.4,209.6 523.7,221.1 518.0,225.8 507.5,222.0 498.9,226.8 491.3,231.6 487.4,228.7" fill="#a87000" /><polygon points="491.3,221.1 500.8,217.3 506.5,219.2 498.9,224.9" fill="#e69800" /><polygon points="507.5,223.0 518.0,221.1 518.9,226.8 516.1,229.7 508.4,229.7" fill="#ffd37f" /><polygon points="497.0,215.3 506.5,211.5 510.3,217.3 506.5,223.0 498.9,223.0" fill="#ffd37f" fill-opacity="0.5"/><polygon points="465.0,220.3 452.8,229.9 441.3,239.4 429.9,249.0 426.1,252.8 431.8,253.7 445.2,243.2 456.6,233.7 465.0,228.0" fill="#e69800" /><path d="M482.5,321.3L484.4,322.3L486.5,323.2M471.7,331.8L471.2,336.1L470.5,340.3M445.5,342.7L448.4,345.0L449.6,348.5M436.2,307.8L440.2,310.2L444.8,309.5M441.5,313.9L445.0,315.0L448.5,314.0M474.3,326.9L475.3,330.4L476.9,333.8M458.2,319.3L458.2,322.2L456.4,324.4M459.9,324.0L462.0,324.1L463.9,325.0M466.4,297.5L469.5,300.8L469.9,305.3M465.8,298.8L468.0,300.5L469.2,303.0M485.5,301.8L487.8,301.9L490.0,302.5M464.3,328.7L466.2,331.0L468.0,333.4" stroke="#ffff00" stroke-width="1.5" fill="none" stroke-linecap="round" stroke-linejoin="round"/><path d="M456.5,314.3L458.5,315.2L459.9,316.8M461.0,300.2L460.4,303.9L462.4,307.0M480.4,319.5L485.4,321.4L490.7,321.8M453.0,303.1L452.9,306.1L455.0,308.3M454.7,287.1L454.9,289.7L455.8,292.2M474.2,301.6L477.2,303.1L480.0,304.9M464.0,319.4L465.3,323.4L463.9,327.4M450.2,298.7L453.6,300.1L456.4,302.6M477.5,326.0L480.3,326.5L483.0,325.5M466.4,301.2L468.5,305.8L473.1,307.9M446.2,316.7L450.1,318.7L453.1,321.9M434.2,311.0L437.3,311.3L440.2,312.6M446.6,336.8L447.6,339.1L448.0,341.7M473.7,336.2L478.6,338.0L480.7,342.8M467.4,354.8L469.3,358.1L471.8,361.1M473.9,306.9L474.9,308.6L474.9,310.7M449.4,281.6L453.0,282.0L456.6,281.4M479.4,309.4L480.8,313.7L482.4,317.9M462.2,363.7L462.5,367.0L462.7,370.3M441.5,341.4L441.3,344.1L443.0,346.2M436.6,295.1L439.6,296.7L442.5,298.5M470.8,318.1L474.2,319.0L475.8,322.2M454.8,331.0L457.9,331.4L461.0,330.6M459.6,345.5L462.6,347.1L465.5,349.0M492.9,290.7L496.3,294.1L500.4,296.5M446.9,324.6L452.1,325.9L457.3,324.3M458.9,345.3L461.3,348.0L464.7,349.0M434.6,318.8L434.1,324.2L436.5,329.1M459.8,339.9L463.8,340.1L467.3,338.3M465.3,307.7L467.0,311.3L466.1,315.2M460.8,328.1L463.4,328.4L465.9,327.8M465.3,293.8L465.4,296.1L465.8,298.4M462.6,340.3L467.2,342.0L471.3,344.6M473.0,315.1L474.6,317.1L476.1,319.2M465.7,335.4L467.3,338.2L469.7,340.5M466.4,331.0L469.4,332.6L470.9,335.6M438.7,295.8L438.9,298.1L440.1,300.2M470.7,330.6L472.3,332.7L474.0,334.5M436.8,328.0L437.5,331.7L435.5,334.9M435.6,319.6L437.9,320.5L440.0,321.8M451.7,315.6L453.9,316.1L455.2,317.8M467.7,281.9L467.2,284.6L466.2,287.1M493.7,289.0L495.4,290.9L497.5,292.0M453.0,321.4L456.7,321.5L460.0,319.8" stroke="#a87000" stroke-width="2.0" fill="none" stroke-linecap="round" stroke-linejoin="round"/><path d="M442.9,285.1L445.6,288.2L446.3,292.3M476.2,298.6L475.8,303.7L471.7,306.9M449.1,330.7L452.8,333.2L454.0,337.5M444.8,313.8L446.1,318.7L449.3,322.4M453.6,320.5L454.8,323.1L454.2,325.9M466.1,287.7L466.8,290.8L465.3,293.5M474.7,314.1L475.2,318.0L472.8,321.0" stroke="#ffff00" stroke-width="2.0" fill="none" stroke-linecap="round" stroke-linejoin="round"/><path d="M454.2,307.2L456.5,307.5L458.4,309.0M461.9,347.5L464.7,348.9L466.5,351.5M448.5,350.1L453.6,351.4L456.2,356.0M451.3,340.7L454.7,344.8L459.0,348.1M449.0,302.0L450.7,304.7L453.3,306.5" stroke="#ffbebe" stroke-width="1.5" fill="none" stroke-linecap="round" stroke-linejoin="round"/><path d="M441.3,338.9L441.8,342.5L440.4,345.9M463.7,322.0L465.8,326.1L467.5,330.4M470.9,316.4L473.7,320.5L477.9,323.1M450.1,323.0L452.6,327.7L455.0,332.4M451.1,339.7L451.5,343.7L448.8,346.5M461.8,317.3L464.0,319.2L466.9,320.0M463.7,338.1L463.4,340.7L462.9,343.2M432.9,310.1L434.1,314.1L435.3,318.1M465.6,356.4L467.3,358.1L468.6,360.2M460.9,298.9L463.5,302.0L467.4,303.2M472.6,320.4L474.7,323.0L477.5,324.7M470.6,342.8L475.8,343.7L480.8,345.3M479.0,321.9L478.9,325.2L477.1,328.0M461.8,288.7L464.1,288.8L466.5,289.0M445.2,287.7L446.5,289.7L446.0,292.1M483.2,293.8L483.2,297.3L483.8,300.7M461.5,344.5L461.6,347.8L460.6,351.0M437.0,333.2L438.3,334.8L439.9,336.2M466.6,332.1L469.4,336.8L470.1,342.1" stroke="#e69800" stroke-width="1.5" fill="none" stroke-linecap="round" stroke-linejoin="round"/><path d="M469.2,349.8L472.9,352.1L477.1,353.0M471.7,313.9L474.0,314.3L475.5,316.0M442.3,311.6L442.3,314.9L444.4,317.5" stroke="#e69800" stroke-width="1.0" fill="none" stroke-linecap="round" stroke-linejoin="round"/><path d="M435.3,306.3L437.6,307.5L439.3,309.3M453.2,336.7L456.6,337.0L459.8,336.1M448.2,347.8L448.2,352.4L445.2,355.9M439.7,334.3L439.3,336.4L439.2,338.7M484.4,315.1L485.0,317.2L486.5,318.9M474.4,282.2L475.8,284.2L476.8,286.5M460.7,306.1L464.2,306.9L466.2,309.8M487.5,293.1L488.5,296.5L488.4,300.0M443.3,332.7L443.9,336.9L441.0,340.1M475.3,308.9L477.0,311.6L476.7,314.8M468.4,296.6L467.5,302.0L471.0,306.2M466.6,281.1L467.6,285.9L464.9,290.0M434.2,282.0L436.5,286.2L440.5,288.8M439.6,333.5L440.1,338.3L443.4,341.8" stroke="#e69800" stroke-width="2.5" fill="none" stroke-linecap="round" stroke-linejoin="round"/><path d="M462.6,322.0L464.8,326.6L464.7,331.7" stroke="#ffd37f" stroke-width="2.5" fill="none" stroke-linecap="round" stroke-linejoin="round"/><path d="M474.5,290.8L477.4,292.0L480.5,291.4M481.6,318.3L483.0,319.7L484.4,321.3M453.6,344.5L456.9,345.9L459.1,348.7M445.1,289.6L445.6,291.9L447.2,293.7M475.3,299.7L477.4,302.6L480.1,305.0M463.9,339.9L467.8,343.7L470.4,348.4M481.8,284.2L483.9,285.4L486.1,286.4M469.0,311.0L469.8,314.4L472.2,316.8M455.3,342.1L460.3,342.4L465.2,343.1M437.6,315.3L437.2,317.7L435.7,319.6M448.0,328.0L453.3,329.1L458.0,326.5M447.8,287.0L447.4,292.3L443.0,295.2M444.2,336.9L444.0,339.1L442.1,340.4M465.7,336.6L465.3,341.1L462.9,345.0" stroke="#e69800" stroke-width="2.0" fill="none" stroke-linecap="round" stroke-linejoin="round"/><path d="M489.9,297.7L490.8,301.5L489.1,305.1M442.8,332.6L447.8,333.4L452.2,336.0M435.6,322.4L435.9,324.4L437.5,325.7" stroke="#ffbebe" stroke-width="2.5" fill="none" stroke-linecap="round" stroke-linejoin="round"/><path d="M439.0,282.3L440.5,286.1L443.6,288.6M450.1,291.1L452.5,291.5L455.0,291.7M472.9,349.9L476.8,352.6L481.6,352.7M461.8,304.3L464.0,304.8L465.0,306.8" stroke="#a87000" stroke-width="1.0" fill="none" stroke-linecap="round" stroke-linejoin="round"/><path d="M464.8,323.1L465.8,324.9L467.8,325.4M471.8,282.9L471.3,286.6L471.7,290.4M460.8,327.1L464.5,327.4L467.3,329.8M454.9,318.5L460.3,318.8L464.6,315.3M463.4,312.1L468.4,312.7L472.4,315.9M442.0,340.7L446.4,341.1L450.8,340.5M477.5,338.3L479.8,343.0L479.2,348.1M451.2,313.4L454.6,315.5L455.5,319.3M473.6,338.2L478.4,340.5L480.9,345.2M440.5,338.2L443.7,340.7L444.1,344.8M477.6,300.5L480.9,302.6L484.4,304.4M452.8,335.4L455.5,335.7L457.9,336.9M484.3,307.9L486.9,308.8L489.5,308.0M478.3,315.3L482.0,318.0L484.5,321.8M453.5,298.2L456.0,302.4L458.1,306.7M463.1,357.6L463.6,361.5L462.5,365.3M451.4,302.4L453.6,305.5L457.4,306.1M435.5,297.3L435.7,300.5L435.0,303.6M465.9,357.3L466.9,361.7L468.5,365.9M459.3,281.3L460.5,284.4L458.9,287.3M444.0,323.9L446.3,324.4L448.7,324.4M465.6,301.4L469.3,302.1L473.1,302.1M481.4,304.2L486.1,306.7L489.9,310.5M463.5,315.5L466.4,316.4L468.6,318.4M486.6,300.9L489.2,303.0L491.9,304.9M450.9,341.4L455.0,341.7L458.8,340.2M466.0,321.0L470.7,323.3L475.6,321.5M450.4,313.0L450.6,317.8L452.2,322.4M468.4,335.1L470.5,339.3L471.5,344.0M485.0,309.7L487.3,310.5L488.9,312.2M454.6,317.1L454.7,320.4L457.1,322.7M436.3,301.3L437.1,304.0L438.2,306.5M439.0,326.6L441.3,330.1L440.2,334.1M471.0,292.7L472.4,296.2L473.7,299.8M443.9,308.6L446.6,310.3L448.1,313.0M441.3,285.4L446.4,286.7L451.0,289.3M481.7,318.6L485.6,319.1L488.7,316.7M493.6,288.8L497.3,291.9L498.9,296.5M434.1,322.9L437.0,327.4L436.5,332.8M442.4,340.8L443.6,342.8L445.2,344.6M457.6,351.7L461.1,355.8L462.2,361.0M467.7,288.7L470.3,293.4L474.9,296.0M464.0,284.0L465.4,286.6L466.9,289.2M443.9,295.8L448.0,297.6L451.6,300.2M473.3,303.0L476.4,303.6L477.9,306.4M443.7,323.4L448.8,323.4L453.9,324.3M434.9,304.9L437.1,308.1L438.4,311.8M476.7,317.2L480.2,317.7L483.7,316.7M459.5,329.7L459.6,333.7L457.7,337.2M486.2,293.6L486.1,296.4L483.9,298.2M440.0,320.7L444.4,321.0L448.3,323.0M440.6,288.7L441.6,293.4L445.4,296.4M451.8,351.1L451.0,355.8L448.1,359.7M455.3,318.6L458.3,319.3L461.2,318.3" stroke="#a87000" stroke-width="1.5" fill="none" stroke-linecap="round" stroke-linejoin="round"/><path d="M447.5,314.6L452.6,315.5L457.0,312.8M452.5,296.0L456.0,296.2L459.1,294.6M455.9,309.3L460.0,312.4L462.0,317.1M464.9,321.9L465.5,326.5L466.9,330.9M487.9,306.8L489.7,308.5L489.7,311.0M473.9,292.7L476.3,295.6L476.0,299.3M487.2,293.1L489.4,297.3L490.2,302.0M469.2,290.5L470.6,294.8L469.2,299.1M443.0,320.8L446.4,323.5L450.6,324.6" stroke="#267300" stroke-width="1.5" fill="none" stroke-linecap="round" stroke-linejoin="round"/><path d="M458.1,290.6L459.3,294.7L459.7,299.0" stroke="#267300" stroke-width="1.0" fill="none" stroke-linecap="round" stroke-linejoin="round"/><path d="M439.6,326.7L441.1,328.9L440.5,331.5M492.3,293.4L494.7,296.8L496.5,300.5M480.3,313.5L482.4,315.4L483.2,318.2M480.4,328.9L484.6,332.1L488.7,335.3M433.6,323.0L435.2,327.7L437.8,332.1M454.0,348.4L455.4,352.0L459.2,353.4" stroke="#267300" stroke-width="2.0" fill="none" stroke-linecap="round" stroke-linejoin="round"/><path d="M442.6,312.3L443.7,316.0L442.2,319.7M434.7,323.7L437.3,324.0L439.3,322.2M457.8,339.0L458.1,342.8L460.3,346.0M438.2,297.4L442.6,297.4L445.4,300.9M447.2,302.9L448.2,306.0L447.0,309.0M444.9,341.3L449.0,345.0L450.6,350.2M440.4,283.9L442.1,286.1L444.8,286.9" stroke="#ffd37f" stroke-width="1.5" fill="none" stroke-linecap="round" stroke-linejoin="round"/><path d="M461.2,283.1L462.2,287.0L461.5,291.0M472.2,294.4L474.2,295.7L476.5,295.9M442.7,308.6L445.4,309.4L447.8,310.7M462.1,303.2L461.8,306.7L459.8,309.6M481.0,311.2L483.6,314.8L487.3,317.2M455.2,336.5L456.1,339.5L458.7,341.1" stroke="#ffff00" stroke-width="2.5" fill="none" stroke-linecap="round" stroke-linejoin="round"/><path d="M482.2,280.9L484.7,285.6L486.0,290.8M447.0,295.0L449.7,297.3L453.0,298.6" stroke="#ffd37f" stroke-width="1.0" fill="none" stroke-linecap="round" stroke-linejoin="round"/><path d="M485.8,282.0L487.6,283.9L488.9,286.2" stroke="#267300" stroke-width="2.5" fill="none" stroke-linecap="round" stroke-linejoin="round"/><path d="M456.8,280.4L455.9,284.3L457.2,288.1M487.4,292.5L486.7,297.1L483.2,300.2M462.2,345.9L462.9,348.9L463.4,351.9M443.9,325.9L443.2,329.7L440.8,332.6M451.5,340.3L456.0,342.7L460.0,346.1M483.7,311.9L488.4,312.1L493.0,313.6M486.2,290.6L490.1,294.2L489.9,299.6M460.2,295.0L463.9,298.1L468.7,298.2M449.6,294.3L455.0,295.7L459.5,298.8M448.2,346.5L447.9,350.6L447.0,354.8" stroke="#ffd37f" stroke-width="2.0" fill="none" stroke-linecap="round" stroke-linejoin="round"/><path d="M460.2,322.8L461.5,325.8L463.6,328.4M492.9,286.8L495.6,290.7L500.0,292.3M452.3,312.4L453.4,314.8L455.4,316.5M465.5,347.5L466.0,350.3L465.0,353.1" stroke="#ffbebe" stroke-width="2.0" fill="none" stroke-linecap="round" stroke-linejoin="round"/><path d="M483.9,299.9L484.4,301.9L483.5,303.9M446.0,346.6L447.2,351.9L445.8,357.1M469.5,342.3L472.9,343.6L474.5,346.9M472.3,295.5L474.9,297.3L477.2,299.6M450.9,288.8L454.7,291.9L457.3,296.0M441.7,286.0L442.8,291.0L444.2,295.9M465.7,342.2L466.1,344.9L464.7,347.3M457.4,327.1L457.0,331.9L453.6,335.3M481.0,312.0L480.5,316.7L482.6,321.0M483.3,283.0L485.9,287.4L490.4,289.7M475.0,317.8L477.3,320.1L478.8,323.1M447.5,333.4L451.9,334.5L456.3,334.3M451.9,306.0L456.9,306.8L459.7,311.0M450.3,345.2L452.5,345.8L454.7,346.1M469.8,335.0L472.6,336.9L474.6,339.7M440.7,337.4L443.0,340.5L445.6,343.3M463.3,332.3L467.5,333.8L470.3,337.2M473.3,319.2L476.7,321.7L479.0,325.3M460.2,311.3L460.9,316.5L463.3,321.1M453.0,283.6L454.4,285.5L455.3,287.6M454.4,310.7L456.3,314.0L456.4,317.7M449.7,303.0L453.5,304.1L457.3,303.3M475.3,341.6L475.1,343.7L474.3,345.6M461.0,330.2L465.1,333.8L469.5,336.9M471.3,319.2L470.5,324.1L468.9,328.9M446.3,304.8L450.4,305.0L453.6,302.3M486.2,309.4L488.5,309.6L490.6,308.5M458.7,318.6L462.4,319.9L466.3,319.9M434.2,294.3L433.9,299.6L431.1,304.0M439.7,326.6L441.7,329.7L440.6,333.2M460.2,327.5L459.8,332.2L462.5,336.0M458.4,357.2L462.3,360.3L464.2,364.8M448.4,297.3L449.7,302.0L451.4,306.6M461.0,303.5L460.5,308.3L456.8,311.3" stroke="#a87000" stroke-width="2.5" fill="none" stroke-linecap="round" stroke-linejoin="round"/><g filter="url(#rough)"><polygon points="289.7,209.2 294.2,207.7 297.2,212.2 295.7,216.0 291.2,216.7 289.0,213.0" fill="#267300" stroke="#267300" stroke-width="1.4" stroke-linejoin="round"/><polygon points="296.5,218.2 301.0,216.7 303.2,221.2 301.0,227.2 297.2,227.9 295.7,222.7" fill="#267300" stroke="#267300" stroke-width="1.4" stroke-linejoin="round"/><polygon points="307.0,222.7 311.5,221.2 313.0,226.4 310.7,230.9 307.0,231.7 305.5,227.2" fill="#267300" stroke="#267300" stroke-width="1.4" stroke-linejoin="round"/><polygon points="319.0,216.7 324.9,214.5 332.4,215.2 334.7,219.0 329.4,221.2 322.7,220.5" fill="#267300" stroke="#267300" stroke-width="1.4" stroke-linejoin="round"/><polygon points="316.7,227.2 322.0,224.2 332.4,222.7 341.4,223.4 345.9,227.9 346.7,233.2 342.9,237.7 338.4,241.4 332.4,243.7 328.7,242.2 334.7,238.4 339.9,234.7 341.4,230.2 336.9,227.9 329.4,228.7 323.4,230.9 318.2,231.7" fill="#267300" stroke="#267300" stroke-width="1.4" stroke-linejoin="round"/><polygon points="349.7,198.0 357.9,196.5 363.0,197.2 363.0,205.5 357.9,207.0 351.9,204.7" fill="#267300" stroke="#267300" stroke-width="1.4" stroke-linejoin="round"/><polygon points="339.9,201.0 344.4,199.5 345.9,205.5 342.2,207.7 339.2,205.5" fill="#267300" stroke="#267300" stroke-width="1.4" stroke-linejoin="round"/><polygon points="301.0,242.9 306.2,242.2 307.7,245.9 304.7,249.7 301.0,248.2" fill="#267300" stroke="#267300" stroke-width="1.4" stroke-linejoin="round"/><polygon points="312.2,253.4 319.0,251.2 324.9,252.7 325.7,257.2 320.5,260.9 313.7,260.2 310.7,257.2" fill="#267300" stroke="#267300" stroke-width="1.4" stroke-linejoin="round"/><polygon points="283.7,215.2 286.0,214.5 286.7,222.0 284.5,222.7" fill="#267300" stroke="#267300" stroke-width="1.4" stroke-linejoin="round"/><polygon points="332.4,251.2 335.4,248.9 337.7,253.4 334.7,260.9 331.7,257.9" fill="#267300" stroke="#267300" stroke-width="1.4" stroke-linejoin="round"/><polygon points="349.7,219.0 354.2,218.2 354.9,223.4 351.2,224.9" fill="#267300" stroke="#267300" stroke-width="1.4" stroke-linejoin="round"/><polygon points="348.9,239.9 357.9,238.4 363.0,239.9 363.0,245.9 354.9,246.7 349.7,244.4" fill="#267300" stroke="#267300" stroke-width="1.4" stroke-linejoin="round"/><polygon points="351.9,255.7 363.0,253.4 363.0,263.0 353.4,263.0" fill="#267300" stroke="#267300" stroke-width="1.4" stroke-linejoin="round"/><polygon points="297.2,239.9 298.7,236.9 300.2,240.7 298.7,242.9" fill="#267300" stroke="#267300" stroke-width="1.4" stroke-linejoin="round"/><polygon points="313.0,204.0 316.7,201.7 318.2,207.0 315.2,209.2" fill="#267300" stroke="#267300" stroke-width="1.4" stroke-linejoin="round"/><polygon points="365.0,195.5 372.6,191.7 380.3,189.8 386.0,188.9 390.8,193.6 397.4,191.7 406.0,186.9 410.8,188.9 417.5,186.9 422.3,191.7 429.9,193.6 428.0,198.4 420.3,197.4 414.6,194.6 408.9,196.5 403.2,193.6 397.4,197.4 391.7,198.4 386.0,195.5 380.3,197.4 372.6,198.4 365.0,200.3" fill="#267300" stroke="#267300" stroke-width="1.4" stroke-linejoin="round"/><polygon points="376.5,204.1 383.1,203.2 389.8,207.9 393.6,215.6 389.8,219.4 383.1,216.5 378.4,211.8" fill="#267300" stroke="#267300" stroke-width="1.4" stroke-linejoin="round"/><polygon points="400.3,207.9 407.9,203.2 417.5,202.2 424.2,206.0 422.3,213.7 415.6,215.6 413.7,222.3 407.9,220.3 402.2,215.6 398.4,211.8" fill="#267300" stroke="#267300" stroke-width="1.4" stroke-linejoin="round"/><polygon points="440.4,191.7 449.0,189.8 454.7,195.5 457.6,203.2 453.7,207.9 446.1,206.0 441.3,201.3" fill="#267300" stroke="#267300" stroke-width="1.4" stroke-linejoin="round"/><polygon points="432.7,214.6 441.3,212.7 447.1,220.3 446.1,229.9 440.4,232.7 438.5,224.2 433.7,220.3" fill="#267300" stroke="#267300" stroke-width="1.4" stroke-linejoin="round"/><polygon points="420.3,229.9 429.9,226.1 434.7,231.8 432.7,240.4 424.2,241.3 420.3,237.5" fill="#267300" stroke="#267300" stroke-width="1.4" stroke-linejoin="round"/><polygon points="379.3,228.9 386.0,229.9 388.9,236.6 383.1,239.4 378.4,235.6" fill="#267300" stroke="#267300" stroke-width="1.4" stroke-linejoin="round"/><polygon points="391.7,238.5 400.3,237.5 404.1,243.2 398.4,247.1 392.7,245.2" fill="#267300" stroke="#267300" stroke-width="1.4" stroke-linejoin="round"/><polygon points="365.0,239.4 372.6,238.5 376.5,245.2 370.7,249.0 365.0,247.1" fill="#267300" stroke="#267300" stroke-width="1.4" stroke-linejoin="round"/><polygon points="373.6,260.4 383.1,258.5 386.0,266.1 380.3,270.0 373.6,269.0" fill="#267300" stroke="#267300" stroke-width="1.4" stroke-linejoin="round"/><polygon points="433.7,252.8 445.2,249.0 454.7,254.7 456.6,264.2 449.0,270.0 440.4,264.2 433.7,260.4" fill="#267300" stroke="#267300" stroke-width="1.4" stroke-linejoin="round"/><polygon points="454.7,231.8 465.0,228.0 465.0,241.3 458.5,245.2 453.7,240.4" fill="#267300" stroke="#267300" stroke-width="1.4" stroke-linejoin="round"/><polygon points="474.1,203.9 483.6,202.9 495.1,204.8 498.9,208.7 497.0,214.4 489.3,213.4 481.7,211.5 475.0,208.7" fill="#267300" stroke="#267300" stroke-width="1.4" stroke-linejoin="round"/><polygon points="439.7,191.5 448.3,189.6 453.1,195.3 452.1,202.9 445.5,205.8 438.8,201.0" fill="#267300" stroke="#267300" stroke-width="1.4" stroke-linejoin="round"/><polygon points="434.0,215.3 441.6,213.4 445.5,223.0 442.6,232.5 435.9,234.4 434.0,228.7" fill="#267300" stroke="#267300" stroke-width="1.4" stroke-linejoin="round"/><polygon points="453.1,236.3 462.6,231.6 475.0,230.6 486.5,234.4 489.3,240.2 483.6,244.9 475.0,242.1 466.4,244.0 459.8,249.7 454.0,245.9" fill="#267300" stroke="#267300" stroke-width="1.4" stroke-linejoin="round"/><polygon points="511.3,233.5 519.9,229.7 520.8,236.3 518.0,244.0 512.2,247.8 509.4,242.1" fill="#267300" stroke="#267300" stroke-width="1.4" stroke-linejoin="round"/><polygon points="449.3,251.6 458.8,249.7 462.6,257.3 456.9,265.0 450.2,263.1" fill="#267300" stroke="#267300" stroke-width="1.4" stroke-linejoin="round"/><polygon points="310.3,255.3 317.9,252.4 324.6,254.3 323.6,260.0 316.0,261.9 311.2,260.0" fill="#267300" stroke="#267300" stroke-width="1.4" stroke-linejoin="round"/><polygon points="300.7,243.8 306.5,242.9 308.4,247.6 303.6,249.5" fill="#267300" stroke="#267300" stroke-width="1.4" stroke-linejoin="round"/><polygon points="324.6,259.1 330.3,253.4 333.2,247.6 336.0,249.5 333.2,257.2 328.4,263.9 324.6,268.6 321.7,265.8" fill="#267300" stroke="#267300" stroke-width="1.4" stroke-linejoin="round"/><polygon points="310.3,276.3 315.0,274.4 316.9,281.0 313.1,283.9 310.3,281.0" fill="#267300" stroke="#267300" stroke-width="1.4" stroke-linejoin="round"/><polygon points="336.0,264.8 344.6,261.9 354.2,261.0 358.0,263.9 352.3,267.7 343.7,268.6 337.9,271.5 334.1,270.5" fill="#267300" stroke="#267300" stroke-width="1.4" stroke-linejoin="round"/><polygon points="358.0,253.4 365.6,251.5 368.5,257.2 363.7,260.0 358.9,258.1" fill="#267300" stroke="#267300" stroke-width="1.4" stroke-linejoin="round"/><polygon points="371.3,259.1 379.0,257.2 384.7,262.9 384.7,270.5 379.0,273.4 374.2,270.5 371.3,264.8" fill="#267300" stroke="#267300" stroke-width="1.4" stroke-linejoin="round"/><polygon points="362.7,268.6 370.4,267.7 372.3,272.4 368.5,276.3 362.7,274.4" fill="#267300" stroke="#267300" stroke-width="1.4" stroke-linejoin="round"/><polygon points="372.3,282.0 376.1,281.0 379.0,293.4 381.8,297.3 384.7,285.8 388.5,282.9 389.5,287.7 386.6,299.2 381.8,303.0 377.1,299.2 374.2,291.5" fill="#267300" stroke="#267300" stroke-width="1.4" stroke-linejoin="round"/><polygon points="360.8,281.0 366.6,280.1 368.5,285.8 366.6,291.5 362.7,287.7" fill="#267300" stroke="#267300" stroke-width="1.4" stroke-linejoin="round"/><polygon points="370.4,306.8 379.0,304.9 383.7,309.7 380.9,316.3 376.1,318.2 375.2,313.5 371.3,311.6" fill="#267300" stroke="#267300" stroke-width="1.4" stroke-linejoin="round"/><polygon points="388.5,264.8 395.0,262.9 395.0,272.4 390.4,273.4" fill="#267300" stroke="#267300" stroke-width="1.4" stroke-linejoin="round"/><polygon points="348.4,245.7 356.1,243.8 358.0,248.6 351.3,250.5" fill="#267300" stroke="#267300" stroke-width="1.4" stroke-linejoin="round"/><polygon points="298.8,251.5 302.6,250.5 304.5,256.2 300.7,257.2" fill="#267300" stroke="#267300" stroke-width="1.4" stroke-linejoin="round"/><polygon points="373.8,260.0 380.5,258.1 384.3,262.9 382.4,271.5 376.7,273.4 372.9,268.6" fill="#267300" stroke="#267300" stroke-width="1.4" stroke-linejoin="round"/><polygon points="389.1,254.3 396.7,253.4 399.6,259.1 405.3,261.0 403.4,264.8 396.7,263.9 391.0,261.0" fill="#267300" stroke="#267300" stroke-width="1.4" stroke-linejoin="round"/><polygon points="395.8,284.8 400.5,283.9 403.4,291.5 406.3,295.3 404.4,299.2 399.6,295.3 396.7,290.6" fill="#267300" stroke="#267300" stroke-width="1.4" stroke-linejoin="round"/><polygon points="411.0,264.8 415.8,261.0 419.6,263.9 420.6,271.5 417.7,278.2 414.8,274.4 412.0,269.6" fill="#267300" stroke="#267300" stroke-width="1.4" stroke-linejoin="round"/><polygon points="424.4,262.9 429.2,259.1 434.9,261.0 438.7,267.7 437.7,275.3 432.0,276.3 428.2,271.5 424.4,267.7" fill="#267300" stroke="#267300" stroke-width="1.4" stroke-linejoin="round"/><polygon points="433.0,281.0 439.7,280.1 443.5,285.8 441.6,292.5 445.4,297.3 454.0,303.0 459.7,307.7 458.7,311.6 452.1,308.7 445.4,304.9 438.7,299.2 433.9,291.5 432.0,285.8" fill="#267300" stroke="#267300" stroke-width="1.4" stroke-linejoin="round"/><polygon points="370.0,304.9 376.7,303.9 381.5,308.7 380.5,315.4 382.4,322.1 377.6,324.0 372.9,320.2 370.0,314.4" fill="#267300" stroke="#267300" stroke-width="1.4" stroke-linejoin="round"/><polygon points="397.7,305.8 403.4,304.9 405.3,311.6 402.4,313.5 398.6,310.6" fill="#267300" stroke="#267300" stroke-width="1.4" stroke-linejoin="round"/><polygon points="442.5,251.5 449.2,247.6 454.0,251.5 454.9,259.1 450.2,261.0 445.4,258.1" fill="#267300" stroke="#267300" stroke-width="1.4" stroke-linejoin="round"/><polygon points="456.8,264.8 463.5,261.0 470.0,264.8 470.0,280.1 464.5,281.0 459.7,274.4" fill="#267300" stroke="#267300" stroke-width="1.4" stroke-linejoin="round"/><polygon points="440.6,316.3 445.4,314.4 450.2,320.2 454.9,324.0 454.0,328.7 448.2,325.9 443.5,322.1" fill="#267300" stroke="#267300" stroke-width="1.4" stroke-linejoin="round"/><polygon points="459.7,289.6 465.4,287.7 470.0,295.3 470.0,303.0 464.5,301.1 460.6,296.3" fill="#267300" stroke="#267300" stroke-width="1.4" stroke-linejoin="round"/><polygon points="433.9,329.7 437.7,326.8 441.6,333.5 439.7,341.1 435.8,339.2" fill="#267300" stroke="#267300" stroke-width="1.4" stroke-linejoin="round"/><polygon points="433.9,281.3 441.4,280.0 445.2,287.6 443.9,295.1 437.6,297.6 433.9,291.3" fill="#267300" stroke="#267300" stroke-width="1.4" stroke-linejoin="round"/><polygon points="441.4,298.9 450.2,302.6 459.0,310.2 461.5,316.4 456.5,317.7 448.9,310.2 441.4,303.9" fill="#267300" stroke="#267300" stroke-width="1.4" stroke-linejoin="round"/><polygon points="467.8,287.6 476.5,285.1 480.3,292.6 475.3,301.4 469.0,300.1" fill="#267300" stroke="#267300" stroke-width="1.4" stroke-linejoin="round"/><polygon points="432.6,324.0 437.6,322.7 440.2,329.0 435.1,331.5" fill="#267300" stroke="#267300" stroke-width="1.4" stroke-linejoin="round"/><polygon points="456.5,334.0 467.8,332.7 475.3,336.5 471.5,344.0 462.7,346.5 457.7,341.5" fill="#267300" stroke="#267300" stroke-width="1.4" stroke-linejoin="round"/><polygon points="451.4,346.5 456.5,350.3 460.2,359.1 456.5,360.3 451.4,354.1" fill="#267300" stroke="#267300" stroke-width="1.4" stroke-linejoin="round"/><polygon points="479.0,334.7 484.1,334.0 485.3,338.3 480.3,339.0" fill="#267300" stroke="#267300" stroke-width="1.4" stroke-linejoin="round"/><polygon points="481.6,275.0 489.1,273.8 491.6,282.5 485.3,285.1" fill="#267300" stroke="#267300" stroke-width="1.4" stroke-linejoin="round"/><polygon points="441.4,337.8 445.2,336.5 454.0,349.0 450.2,350.3" fill="#267300" stroke="#267300" stroke-width="1.4" stroke-linejoin="round"/></g><path d="M300.4,201.5L298.3,202.6L296.9,204.6M407.5,235.2L404.2,235.1L401.1,236.1M458.7,312.5L459.4,315.8L459.7,319.2M448.0,306.1L449.4,304.3L449.1,302.0M370.8,301.6L370.9,298.2L370.1,294.9M375.2,318.0L377.3,317.1L379.5,317.1M404.6,237.3L402.5,238.5L400.8,240.3M474.7,197.7L472.6,196.9L470.8,195.4M420.2,227.6L423.0,228.9L424.0,231.8M302.1,250.3L304.4,250.2L306.8,250.3M424.4,259.3L423.9,256.9L422.2,255.1M332.1,206.6L329.9,206.4L328.5,204.7M487.3,203.7L488.5,203.2L489.7,203.0" stroke="#ffbebe" stroke-width="1.5" fill="none" stroke-linecap="round" stroke-linejoin="round"/><path d="M435.3,240.3L433.9,240.7L432.7,239.9M349.4,274.3L348.2,275.2L347.8,276.5" stroke="#ff0000" stroke-width="1.0" fill="none" stroke-linecap="round" stroke-linejoin="round"/><path d="M450.5,343.9L451.8,343.5L452.8,344.2M464.6,356.6L465.3,354.9L465.4,353.0M363.5,209.7L364.4,211.2L365.7,212.3M440.6,323.4L442.6,320.8L442.9,317.6M449.8,302.4L452.0,300.7L453.7,298.6M409.7,230.0L410.9,230.5L411.4,231.8M429.8,241.7L428.5,242.8L427.1,243.8" stroke="#ffd37f" stroke-width="1.0" fill="none" stroke-linecap="round" stroke-linejoin="round"/><path d="M437.2,240.3L434.9,239.2L434.2,236.8M453.5,276.3L452.6,274.9L451.0,274.5M457.4,191.6L454.4,191.6L451.9,189.8M467.5,278.4L468.2,280.1L470.0,280.5M328.7,231.5L327.9,232.5L327.5,233.8M379.1,302.5L379.8,304.6L380.5,306.7M482.0,240.8L484.8,242.6L487.3,244.8M381.2,304.7L380.1,305.7L378.9,306.5" stroke="#4ce600" stroke-width="1.0" fill="none" stroke-linecap="round" stroke-linejoin="round"/><path d="M452.2,315.3L449.4,316.6L446.9,318.4M456.7,311.0L455.5,312.9L454.3,314.8M510.5,228.7L507.4,227.9L504.5,226.4M461.6,266.6L460.8,264.2L458.6,263.1M472.0,248.7L474.3,250.8L477.2,251.8M479.2,287.6L480.9,287.3L482.3,288.1M327.6,263.5L329.7,264.6L332.1,264.3M381.8,275.6L380.0,277.3L377.9,278.8M306.7,242.4L305.3,240.3L304.0,238.1M389.5,256.9L391.4,255.6L393.6,255.6M324.5,219.0L325.4,218.0L326.8,217.9M400.5,255.3L401.8,257.1L403.3,258.7M404.0,197.1L405.5,197.7L407.0,197.3M291.3,198.4L293.0,200.1L295.0,201.2M448.9,246.7L448.7,249.5L447.0,251.7M349.2,272.9L346.0,273.4L343.6,275.7M314.5,211.8L313.7,213.6L312.7,215.3M304.2,233.7L304.7,234.6L305.6,235.1M416.5,242.9L417.2,242.0L418.0,241.0M382.3,212.3L382.7,215.1L384.0,217.6M394.1,205.9L395.7,206.8L397.4,206.2M481.9,236.0L481.4,237.3L481.8,238.6M437.9,279.0L435.3,280.7L432.2,280.5" stroke="#ffbebe" stroke-width="1.0" fill="none" stroke-linecap="round" stroke-linejoin="round"/><path d="M354.7,273.8L354.1,272.1L353.2,270.4M369.2,294.8L370.6,294.8L371.5,295.9M306.8,245.9L308.2,244.9L309.9,245.0M443.8,269.1L445.4,269.8L446.1,271.4M418.2,198.6L417.9,200.2L418.8,201.6" stroke="#ffd37f" stroke-width="1.5" fill="none" stroke-linecap="round" stroke-linejoin="round"/><path d="M439.3,291.1L442.2,290.7L444.2,288.7" stroke="#a87000" stroke-width="0.5" fill="none" stroke-linecap="round" stroke-linejoin="round"/><path d="M398.9,306.0L399.2,303.1L399.8,300.2" stroke="#e69800" stroke-width="0.5" fill="none" stroke-linecap="round" stroke-linejoin="round"/><path d="M454.8,221.4L451.5,222.0L448.8,220.0M384.3,247.4L382.6,247.3L381.1,248.1M302.2,201.7L302.9,203.2L302.5,204.8M516.8,243.3L514.4,241.4L512.4,239.0M448.9,229.1L447.6,231.3L445.2,232.2M459.3,300.1L458.5,299.1L457.7,298.2M375.3,308.0L373.8,308.1L372.6,309.0M429.2,221.7L430.0,222.3L431.0,222.3M447.8,315.9L451.0,315.7L453.4,318.0M474.7,310.0L474.2,312.0L475.1,313.9M438.8,242.1L440.2,243.3L441.4,244.7M389.2,241.2L389.0,238.3L390.1,235.7M383.4,195.2L382.4,196.2L382.0,197.5M466.3,301.8L468.2,301.0L470.3,301.1M468.4,205.5L467.5,204.9L467.1,204.0M368.5,262.3L366.1,262.7L363.7,262.1M450.0,282.9L450.3,281.6L449.8,280.3M408.6,273.9L407.3,274.2L405.9,274.2M444.4,183.8L442.0,182.5L440.4,180.2" stroke="#267300" stroke-width="1.0" fill="none" stroke-linecap="round" stroke-linejoin="round"/><path d="M340.3,274.2L340.0,272.8L340.7,271.6M387.7,286.5L387.1,287.8L387.7,289.0M438.6,329.6L437.7,328.5L436.5,327.6M403.4,216.2L403.4,215.1L404.1,214.3M379.6,323.6L378.0,323.9L377.1,325.2M377.3,282.0L379.4,280.5L381.9,280.9M470.2,329.2L468.3,328.8L466.3,328.6M382.4,196.1L384.5,195.4L385.7,193.6M296.0,204.6L297.4,206.2L299.4,206.7M418.2,275.7L421.3,275.1L423.3,272.7M473.6,232.4L472.3,231.3L471.4,229.9M422.7,212.5L422.5,209.0L422.0,205.7M492.4,281.6L493.5,281.2L494.6,281.3M375.9,279.9L373.3,279.8L370.8,280.1M401.2,300.4L401.8,302.0L403.3,302.7M388.9,242.0L390.4,240.7L390.8,238.8M369.7,219.0L370.7,218.4L371.5,217.6M495.6,269.9L496.8,271.3L498.2,272.5M470.4,343.3L467.7,341.3L465.0,339.4M401.0,200.5L402.8,201.2L404.5,202.0M428.6,246.4L429.3,249.5L431.2,252.0M481.5,201.4L482.4,198.6L484.5,196.7M459.8,239.9L461.2,242.5L460.7,245.4M399.3,257.3L400.4,256.1L400.3,254.5M335.1,237.9L334.1,236.1L334.2,234.0M422.6,211.4L420.7,214.0L420.8,217.2M421.5,255.1L421.1,256.6L421.1,258.3" stroke="#e69800" stroke-width="1.0" fill="none" stroke-linecap="round" stroke-linejoin="round"/><path d="M383.2,199.1L382.6,201.0L381.2,202.4M366.1,227.8L365.6,228.7L364.7,229.2M459.1,229.5L457.3,229.6L455.9,228.4M477.5,197.9L476.6,196.4L476.5,194.6M293.3,230.9L293.6,229.8L294.6,229.1M403.2,310.0L404.0,313.0L402.6,315.7M461.0,286.1L458.3,284.6L457.5,281.6M451.5,215.4L452.9,213.7L454.0,211.8M370.3,308.1L368.5,305.1L368.3,301.7M328.9,244.2L330.4,243.1L331.0,241.4M395.7,204.0L394.7,206.7L395.9,209.2M390.7,200.9L389.1,199.3L388.6,197.2M337.1,214.2L337.0,212.4L336.2,210.7M441.4,260.9L441.6,259.4L442.1,257.9M406.0,202.5L405.9,201.4L405.9,200.2M376.9,292.3L373.5,292.0L370.2,290.8M409.1,235.9L410.6,235.6L412.2,235.4" stroke="#a87000" stroke-width="1.5" fill="none" stroke-linecap="round" stroke-linejoin="round"/><path d="M353.7,238.6L352.2,239.6L351.8,241.4M300.7,213.6L301.9,211.4L301.8,208.9M446.9,324.2L446.4,322.1L447.3,320.0M420.0,264.3L419.9,262.1L421.2,260.3M475.8,239.9L475.0,238.8L474.8,237.5M433.6,286.5L433.3,287.5L433.6,288.5M411.5,276.7L410.8,275.8L409.6,275.7M473.9,261.0L475.0,259.7L475.5,258.1M407.2,219.1L404.5,218.2L402.3,216.2M316.1,245.3L314.4,246.8L313.9,249.1M332.2,264.3L333.6,263.7L334.9,264.3M472.3,209.8L471.6,212.2L471.7,214.6M349.8,245.7L348.5,245.1L347.0,245.2M324.9,252.6L326.6,254.7L327.1,257.3M444.6,322.1L443.9,320.6L444.4,318.9M364.5,283.3L366.7,282.5L368.9,282.8M429.3,257.5L430.7,259.0L430.9,261.0M419.4,185.2L417.5,187.0L415.2,188.1M343.8,205.3L341.9,203.8L339.6,203.0" stroke="#ffff00" stroke-width="1.0" fill="none" stroke-linecap="round" stroke-linejoin="round"/><path d="M451.3,268.2L449.3,269.0L447.2,268.5M375.0,225.7L374.1,222.4L371.1,220.7M490.6,266.7L490.2,265.1L489.1,263.9M434.5,230.0L433.0,230.8L431.4,230.3M448.5,347.1L449.2,350.2L451.9,351.7M474.7,204.2L475.2,203.3L476.3,203.1M323.2,211.7L325.0,213.5L327.1,214.6M466.2,250.9L464.8,252.0L463.5,253.1M466.2,225.8L463.4,224.8L460.9,226.3M381.2,210.1L382.8,209.6L384.5,209.9M502.0,244.3L503.2,243.2L503.4,241.6M303.1,228.9L305.2,229.3L307.3,228.8M400.3,272.8L401.7,272.9L402.9,273.8M393.8,293.2L394.9,293.5L395.9,293.3M417.2,233.0L418.8,231.1L420.6,229.3M337.1,227.3L334.3,228.6L331.3,228.9M357.4,210.4L356.8,208.0L356.6,205.6M354.7,266.6L352.9,267.2L351.7,268.7M358.4,280.7L360.5,279.7L362.7,279.8M434.8,219.8L436.3,219.5L437.8,218.9M436.6,282.0L437.8,283.9L439.5,285.4M388.1,245.8L388.2,247.2L389.0,248.3M347.2,238.6L347.0,240.0L346.5,241.2M402.1,235.0L405.0,236.1L408.0,236.2M399.4,282.6L398.8,279.7L398.1,276.8M466.7,290.0L468.9,290.0L471.2,290.0" stroke="#a87000" stroke-width="1.0" fill="none" stroke-linecap="round" stroke-linejoin="round"/><path d="M457.6,344.9L454.8,344.6L452.0,345.3M373.6,319.5L375.5,321.1L377.9,322.0M463.6,361.0L464.9,361.2L466.2,361.7" stroke="#4ce600" stroke-width="1.5" fill="none" stroke-linecap="round" stroke-linejoin="round"/><path d="M476.4,261.4L477.3,262.0L478.2,262.6M469.7,294.4L470.4,291.2L471.8,288.2M479.3,230.8L481.5,232.0L483.3,233.8" stroke="#ffbebe" stroke-width="0.5" fill="none" stroke-linecap="round" stroke-linejoin="round"/><path d="M299.1,201.8L300.5,201.7L301.7,201.0M319.7,240.0L318.5,241.9L316.4,242.9M454.2,223.7L457.1,221.8L460.0,219.9M444.1,243.5L445.9,245.7L448.7,245.8" stroke="#ffff00" stroke-width="0.5" fill="none" stroke-linecap="round" stroke-linejoin="round"/><path d="M483.1,206.7L481.5,208.7L479.0,209.3M366.6,244.7L365.5,244.6L364.9,243.7M420.3,275.0L420.1,277.8L422.1,279.9M337.1,261.6L335.0,263.3L333.8,265.8M357.4,270.5L358.0,271.5L358.4,272.7M420.1,252.2L421.9,252.5L423.8,252.9M472.6,342.5L474.7,340.8L477.4,341.1M442.2,191.9L442.9,190.9L443.9,190.1M292.6,195.5L295.4,196.5L296.8,199.2M456.3,347.3L457.5,345.3L458.0,343.0M411.5,227.5L410.7,224.8L408.5,223.0M407.0,250.7L406.0,254.0L404.1,256.7M310.4,256.8L312.6,254.2L315.0,251.7M329.8,229.4L329.3,232.2L329.9,235.0M498.4,256.2L499.5,253.9L501.2,252.1M316.2,222.8L314.8,224.9L314.6,227.4" stroke="#e69800" stroke-width="1.5" fill="none" stroke-linecap="round" stroke-linejoin="round"/><path d="M420.7,227.7L419.3,229.7L417.8,231.6M510.4,228.8L513.2,227.7L514.8,225.2M407.7,281.5L405.6,279.6L404.0,277.1M350.5,225.1L349.4,224.4L349.2,223.1M326.6,216.7L327.0,215.4L327.5,214.2M292.2,206.2L295.0,206.2L296.9,204.1M392.9,309.8L390.7,310.9L389.1,312.8M396.4,233.1L395.4,235.7L394.6,238.3M449.9,324.4L451.0,325.9L452.9,326.1M415.2,194.7L415.6,193.5L416.5,192.6M345.7,213.3L347.2,211.1L349.0,209.0M487.6,268.9L487.0,270.6L487.2,272.5M406.5,253.7L408.4,256.4L408.2,259.8M506.4,245.6L504.6,248.4L501.9,250.4M490.0,228.3L489.9,229.8L490.8,230.8" stroke="#267300" stroke-width="1.5" fill="none" stroke-linecap="round" stroke-linejoin="round"/><path d="M368.6,297.9L371.1,298.3L373.5,299.5M498.4,227.4L501.2,226.3L502.8,223.8M462.4,279.6L461.6,283.0L458.5,284.5M371.3,268.6L371.5,271.6L370.7,274.5M443.0,212.8L442.5,211.8L441.4,211.6M464.5,330.8L462.7,331.8L462.0,333.7M442.1,219.6L440.7,217.2L438.0,216.6M481.6,199.1L478.7,200.6L475.5,200.3M488.2,292.8L486.3,290.8L485.9,288.2M478.2,267.8L475.5,269.7L472.3,270.8M365.2,231.5L365.8,234.1L366.9,236.6" stroke="#ffff00" stroke-width="1.5" fill="none" stroke-linecap="round" stroke-linejoin="round"/><path d="M333.3,257.7L332.5,257.0L332.1,256.1M404.1,303.5L404.8,303.2L405.5,303.0M350.5,228.1L350.6,227.2L350.4,226.3M511.8,225.9L512.4,226.3L512.5,227.0M472.4,268.6L471.7,268.8L471.0,268.9M369.3,220.3L368.9,219.9L368.4,219.6M445.2,297.8L446.2,298.2L447.3,297.7M385.8,221.0L384.8,220.5L383.9,219.8M481.4,228.7L480.7,228.6L480.0,228.7M484.5,307.5L485.3,307.3L486.1,307.6M497.6,217.1L496.6,216.9L495.6,216.4M459.2,204.7L459.9,205.3L460.7,205.8M417.2,198.9L417.9,199.6L418.6,200.2M508.7,229.5L509.1,228.8L509.4,228.1M327.9,207.7L327.8,207.2L327.7,206.8M432.2,190.7L432.1,191.4L432.6,192.0M336.2,274.6L335.7,274.1L335.7,273.4M402.2,261.3L401.8,261.3L401.4,261.5M378.4,216.6L377.7,217.0L376.9,216.8M390.7,203.7L390.3,204.4L389.9,205.0M423.5,211.9L423.3,212.4L423.6,213.0M494.6,251.4L494.5,250.2L493.6,249.5M390.2,225.8L389.4,225.8L388.5,225.9M393.8,256.0L394.4,255.6L394.7,255.0M459.2,225.1L459.3,225.9L459.4,226.8M397.6,239.4L398.2,238.9L398.7,238.3M295.3,232.6L294.9,232.3L294.3,232.3M340.4,249.0L340.2,249.6L339.9,250.2M308.8,253.0L308.5,252.8L308.1,252.7M452.7,323.2L452.9,322.2L453.0,321.2M368.1,204.1L367.4,204.5L366.6,204.3M379.0,234.2L378.9,233.7L379.1,233.3M401.9,318.2L402.0,317.3L401.9,316.4M453.6,199.2L453.2,198.4L452.4,198.0M373.9,309.3L373.0,309.6L372.0,309.9M482.7,204.0L483.1,203.6L483.6,203.4M428.0,222.7L427.7,222.4L427.3,222.4M315.2,215.4L315.0,214.5L314.7,213.7M396.1,191.4L395.9,190.8L395.8,190.3M369.7,194.6L369.6,195.4L369.5,196.2" stroke="#ff0000" stroke-width="1.5" fill="none" stroke-linecap="round" stroke-linejoin="round"/><path d="M352.4,218.9L352.8,219.8L353.3,220.6M373.9,219.8L374.7,220.1L375.5,220.7M393.8,288.2L394.6,288.7L395.2,289.3M307.6,223.8L308.6,224.0L309.4,223.5M294.1,230.1L293.3,230.4L292.6,231.0M321.6,207.8L321.6,206.7L321.8,205.6M476.4,230.5L475.6,230.8L474.8,231.2M395.9,275.8L396.6,275.0L397.2,274.2M317.3,212.4L317.8,213.2L318.6,213.7M383.7,256.3L382.9,255.4L383.0,254.2M389.8,302.5L389.1,302.4L388.6,301.9M403.0,245.0L402.9,244.5L402.7,244.0M454.9,296.4L454.9,297.2L454.8,297.9M471.7,237.2L471.2,236.2L471.0,235.2M440.1,332.0L441.0,332.4L442.0,332.2M457.4,227.8L456.8,228.0L456.4,228.5M336.0,210.7L336.0,211.2L335.9,211.8M494.1,285.6L494.3,285.1L494.8,284.8M473.4,287.7L474.0,287.2L474.1,286.6M485.4,274.5L484.6,275.3L483.6,275.8M405.7,258.6L405.8,258.0L406.1,257.4M318.0,279.0L319.0,278.9L319.6,278.2M416.6,223.3L417.7,223.6L418.7,223.9M312.7,250.1L313.4,250.4L313.8,251.0" stroke="#ff0000" stroke-width="1.0" fill="none" stroke-linecap="round" stroke-linejoin="round"/><path d="M315.9,234.9L316.3,234.6L316.9,234.8M308.9,262.0L307.9,261.5L306.8,261.8M459.1,281.1L460.0,280.6L460.7,280.0M479.1,266.1L479.0,265.4L479.2,264.8M496.1,277.9L497.1,277.5L497.4,276.5M507.3,235.3L507.2,236.0L506.9,236.7M504.0,258.1L503.2,258.5L502.3,258.1M357.0,265.8L357.6,266.7L358.5,267.3M365.0,217.8L365.9,217.2L367.0,217.4M390.4,276.2L391.1,276.3L391.5,276.8M440.5,285.6L441.5,286.0L441.9,287.1" stroke="#ff0000" stroke-width="2.0" fill="none" stroke-linecap="round" stroke-linejoin="round"/><polygon points="471.2,215.3 478.8,213.4 486.5,216.3 488.4,223.9 483.6,229.7 476.0,230.2 471.8,225.8" fill="#ffbebe" /><polygon points="473.1,217.3 478.8,215.3 484.6,217.3 486.5,223.0 482.7,227.7 476.9,228.7 473.1,224.9" fill="#730000" /><polygon points="428.0,179.3 436.6,179.3 436.6,183.1 433.7,186.9 428.9,185.0" fill="#730000" /><polyline points="393.6,251.3 413.7,249.4 422.3,249.0" fill="none" stroke="#ff0000" stroke-width="1.3" stroke-linejoin="round" stroke-linecap="round" /><polygon points="413.7,248.0 421.3,248.0 421.3,250.9 413.7,250.9" fill="#730000" /></g><text x="45.20" y="182.60" font-size="11.5" text-anchor="start" font-weight="bold" fill="#000" textLength="58.4" lengthAdjust="spacingAndGlyphs">Waidhofen</text><text x="287.50" y="182.50" font-size="11.5" text-anchor="start" font-weight="bold" fill="#000" textLength="38.1" lengthAdjust="spacingAndGlyphs">Paldau</text><text x="179.30" y="271.00" font-size="7.75" text-anchor="start" font-weight="bold" fill="#000" textLength="114.2" lengthAdjust="spacingAndGlyphs">Cultural landscape persistence</text><text x="179.30" y="283.50" font-size="6.3" text-anchor="start" font-weight="bold" fill="#000" >Forest</text><rect x="179.30" y="289.30" width="8.80" height="8.30" fill="#267300" /><text x="191.30" y="295.60" font-size="6.5" text-anchor="start" font-weight="normal" fill="#000" >around 1820</text><rect x="179.30" y="301.50" width="8.80" height="8.30" fill="#4ce600" /><text x="191.30" y="307.80" font-size="6.5" text-anchor="start" font-weight="normal" fill="#000" >around 1960</text><rect x="179.30" y="313.70" width="8.80" height="8.30" fill="#d3ffbe" /><text x="191.30" y="320.00" font-size="6.5" text-anchor="start" font-weight="normal" fill="#000" >2015</text><text x="257.10" y="283.50" font-size="6.3" text-anchor="start" font-weight="bold" fill="#000" >Cropland</text><rect x="257.10" y="289.30" width="8.80" height="8.30" fill="#a87000" /><text x="269.10" y="295.60" font-size="6.5" text-anchor="start" font-weight="normal" fill="#000" >around 1820</text><rect x="257.10" y="301.50" width="8.80" height="8.30" fill="#e69800" /><text x="269.10" y="307.80" font-size="6.5" text-anchor="start" font-weight="normal" fill="#000" >around 1960</text><rect x="257.10" y="313.70" width="8.80" height="8.30" fill="#ffd37f" /><text x="269.10" y="320.00" font-size="6.5" text-anchor="start" font-weight="normal" fill="#000" >2015</text><text x="179.30" y="333.90" font-size="6.3" text-anchor="start" font-weight="bold" fill="#000" >Grassland</text><rect x="179.30" y="339.70" width="8.80" height="8.30" fill="#b4a20a" /><text x="191.30" y="346.00" font-size="6.5" text-anchor="start" font-weight="normal" fill="#000" >around 1820</text><rect x="179.30" y="351.90" width="8.80" height="8.30" fill="#ffff00" /><text x="191.30" y="358.20" font-size="6.5" text-anchor="start" font-weight="normal" fill="#000" >around 1960</text><rect x="179.30" y="364.10" width="8.80" height="8.30" fill="#ffffbe" /><text x="191.30" y="370.40" font-size="6.5" text-anchor="start" font-weight="normal" fill="#000" >2015</text><text x="257.10" y="333.90" font-size="6.3" text-anchor="start" font-weight="bold" fill="#000" >Settlement and other</text><rect x="257.10" y="339.70" width="8.80" height="8.30" fill="#730000" /><text x="269.10" y="346.00" font-size="6.5" text-anchor="start" font-weight="normal" fill="#000" >around 1820</text><rect x="257.10" y="351.90" width="8.80" height="8.30" fill="#ff0000" /><text x="269.10" y="358.20" font-size="6.5" text-anchor="start" font-weight="normal" fill="#000" >around 1960</text><rect x="257.10" y="364.10" width="8.80" height="8.30" fill="#ffbebe" /><text x="269.10" y="370.40" font-size="6.5" text-anchor="start" font-weight="normal" fill="#000" >2015</text><line x1="20.90" y1="364.40" x2="67.40" y2="364.40" stroke="#000" stroke-width="0.7" /><line x1="20.90" y1="362.30" x2="20.90" y2="366.50" stroke="#000" stroke-width="0.7" /><text x="20.90" y="359.20" font-size="6.3" text-anchor="middle" font-weight="normal" fill="#000" >0</text><line x1="44.15" y1="362.30" x2="44.15" y2="366.50" stroke="#000" stroke-width="0.7" /><text x="44.15" y="359.20" font-size="6.3" text-anchor="middle" font-weight="normal" fill="#000" >2</text><line x1="67.40" y1="362.30" x2="67.40" y2="366.50" stroke="#000" stroke-width="0.7" /><text x="67.40" y="359.20" font-size="6.3" text-anchor="middle" font-weight="normal" fill="#000" >4</text><text x="44.00" y="372.80" font-size="6.4" text-anchor="middle" font-weight="normal" fill="#000" textLength="30.4" lengthAdjust="spacingAndGlyphs">Kilometers</text><line x1="362.20" y1="364.70" x2="414.20" y2="364.70" stroke="#000" stroke-width="0.7" /><line x1="362.20" y1="362.60" x2="362.20" y2="366.80" stroke="#000" stroke-width="0.7" /><text x="362.20" y="359.50" font-size="6.3" text-anchor="middle" font-weight="normal" fill="#000" >0</text><line x1="388.20" y1="362.60" x2="388.20" y2="366.80" stroke="#000" stroke-width="0.7" /><text x="388.20" y="359.50" font-size="6.3" text-anchor="middle" font-weight="normal" fill="#000" >1</text><line x1="414.20" y1="362.60" x2="414.20" y2="366.80" stroke="#000" stroke-width="0.7" /><text x="414.20" y="359.50" font-size="6.3" text-anchor="middle" font-weight="normal" fill="#000" >2</text><text x="387.95" y="373.10" font-size="6.4" text-anchor="middle" font-weight="normal" fill="#000" textLength="29.9" lengthAdjust="spacingAndGlyphs">Kilometers</text><text x="332.20" y="323.10" font-size="14.7" text-anchor="middle" font-weight="normal" fill="#000" stroke="#000" stroke-width="0.35">N</text><polygon points="332.1,327.6 343.2,364 332.1,350.2 320.8,364" fill="#fff" stroke="#000" stroke-width="0.8" stroke-linejoin="miter"/><polygon points="332.1,327.6 332.1,350.2 320.8,364" fill="#000"/><rect x="4.80" y="170.80" width="11.80" height="15.70" fill="#ffffff" stroke="#000" stroke-width="1"/><text transform="translate(10.70,183.00) scale(0.93,1)" font-size="12.4" font-weight="bold" text-anchor="middle" fill="#000">B</text><rect x="44.70" y="416.30" width="100.90" height="119.00" fill="#ffffff" /><line x1="44.70" y1="516.45" x2="145.60" y2="516.45" stroke="#ebebeb" stroke-width="0.3" /><line x1="44.70" y1="489.35" x2="145.60" y2="489.35" stroke="#ebebeb" stroke-width="0.3" /><line x1="44.70" y1="462.25" x2="145.60" y2="462.25" stroke="#ebebeb" stroke-width="0.3" /><line x1="44.70" y1="435.15" x2="145.60" y2="435.15" stroke="#ebebeb" stroke-width="0.3" /><line x1="44.70" y1="530.00" x2="145.60" y2="530.00" stroke="#ebebeb" stroke-width="0.6" /><line x1="44.70" y1="502.90" x2="145.60" y2="502.90" stroke="#ebebeb" stroke-width="0.6" /><line x1="44.70" y1="475.80" x2="145.60" y2="475.80" stroke="#ebebeb" stroke-width="0.6" /><line x1="44.70" y1="448.70" x2="145.60" y2="448.70" stroke="#ebebeb" stroke-width="0.6" /><line x1="44.70" y1="421.60" x2="145.60" y2="421.60" stroke="#ebebeb" stroke-width="0.6" /><line x1="63.45" y1="416.30" x2="63.45" y2="535.30" stroke="#ebebeb" stroke-width="0.6" /><line x1="95.05" y1="416.30" x2="95.05" y2="535.30" stroke="#ebebeb" stroke-width="0.6" /><line x1="126.85" y1="416.30" x2="126.85" y2="535.30" stroke="#ebebeb" stroke-width="0.6" /><rect x="159.60" y="416.30" width="100.40" height="119.00" fill="#ffffff" /><line x1="159.60" y1="516.45" x2="260.00" y2="516.45" stroke="#ebebeb" stroke-width="0.3" /><line x1="159.60" y1="489.35" x2="260.00" y2="489.35" stroke="#ebebeb" stroke-width="0.3" /><line x1="159.60" y1="462.25" x2="260.00" y2="462.25" stroke="#ebebeb" stroke-width="0.3" /><line x1="159.60" y1="435.15" x2="260.00" y2="435.15" stroke="#ebebeb" stroke-width="0.3" /><line x1="159.60" y1="530.00" x2="260.00" y2="530.00" stroke="#ebebeb" stroke-width="0.6" /><line x1="159.60" y1="502.90" x2="260.00" y2="502.90" stroke="#ebebeb" stroke-width="0.6" /><line x1="159.60" y1="475.80" x2="260.00" y2="475.80" stroke="#ebebeb" stroke-width="0.6" /><line x1="159.60" y1="448.70" x2="260.00" y2="448.70" stroke="#ebebeb" stroke-width="0.6" /><line x1="159.60" y1="421.60" x2="260.00" y2="421.60" stroke="#ebebeb" stroke-width="0.6" /><line x1="177.75" y1="416.30" x2="177.75" y2="535.30" stroke="#ebebeb" stroke-width="0.6" /><line x1="209.35" y1="416.30" x2="209.35" y2="535.30" stroke="#ebebeb" stroke-width="0.6" /><line x1="240.75" y1="416.30" x2="240.75" y2="535.30" stroke="#ebebeb" stroke-width="0.6" /><path d="M68.80,421.60 C79.25,421.60 79.25,421.60 89.70,421.60 L89.70,442.19 C79.25,442.19 79.25,442.19 68.80,442.19 Z" fill="#277a0b" fill-opacity="0.45"/><path d="M68.80,442.19 C79.25,442.19 79.25,459.76 89.70,459.76 L89.70,472.53 C79.25,472.53 79.25,454.97 68.80,454.97 Z" fill="#277a0b" fill-opacity="0.45"/><path d="M68.80,454.99 C79.25,454.99 79.25,442.19 89.70,442.19 L89.70,459.54 C79.25,459.54 79.25,472.34 68.80,472.34 Z" fill="#c7b300" fill-opacity="0.45"/><path d="M68.80,472.34 C79.25,472.34 79.25,472.53 89.70,472.53 L89.70,502.34 C79.25,502.34 79.25,502.14 68.80,502.14 Z" fill="#c7b300" fill-opacity="0.45"/><path d="M68.80,502.14 C79.25,502.14 79.25,524.82 89.70,524.82 L89.70,524.93 C79.25,524.93 79.25,502.25 68.80,502.25 Z" fill="#c7b300" fill-opacity="0.45"/><path d="M68.80,502.25 C79.25,502.25 79.25,459.54 89.70,459.54 L89.70,459.76 C79.25,459.76 79.25,502.47 68.80,502.47 Z" fill="#b0780c" fill-opacity="0.45"/><path d="M68.80,502.47 C79.25,502.47 79.25,502.34 89.70,502.34 L89.70,524.80 C79.25,524.80 79.25,524.93 68.80,524.93 Z" fill="#b0780c" fill-opacity="0.45"/><path d="M68.80,524.93 C79.25,524.93 79.25,524.93 89.70,524.93 L89.70,530.00 C79.25,530.00 79.25,530.00 68.80,530.00 Z" fill="#b0780c" fill-opacity="0.45"/><path d="M100.40,421.60 C110.95,421.60 110.95,421.60 121.50,421.60 L121.50,443.82 C110.95,443.82 110.95,443.82 100.40,443.82 Z" fill="#277a0b" fill-opacity="0.45"/><path d="M100.40,443.82 C110.95,443.82 110.95,467.45 121.50,467.45 L121.50,482.63 C110.95,482.63 110.95,459.00 100.40,459.00 Z" fill="#277a0b" fill-opacity="0.45"/><path d="M100.40,459.00 C110.95,459.00 110.95,522.85 121.50,522.85 L121.50,523.60 C110.95,523.60 110.95,459.76 100.40,459.76 Z" fill="#277a0b" fill-opacity="0.45"/><path d="M100.40,459.76 C110.95,459.76 110.95,443.82 121.50,443.82 L121.50,467.13 C110.95,467.13 110.95,483.06 100.40,483.06 Z" fill="#c7b300" fill-opacity="0.45"/><path d="M100.40,483.06 C110.95,483.06 110.95,482.63 121.50,482.63 L121.50,519.49 C110.95,519.49 110.95,519.92 100.40,519.92 Z" fill="#c7b300" fill-opacity="0.45"/><path d="M100.40,519.92 C110.95,519.92 110.95,523.60 121.50,523.60 L121.50,528.48 C110.95,528.48 110.95,524.80 100.40,524.80 Z" fill="#c7b300" fill-opacity="0.45"/><path d="M100.40,524.80 C110.95,524.80 110.95,467.13 121.50,467.13 L121.50,467.45 C110.95,467.45 110.95,525.12 100.40,525.12 Z" fill="#b0780c" fill-opacity="0.45"/><path d="M100.40,525.12 C110.95,525.12 110.95,519.49 121.50,519.49 L121.50,522.85 C110.95,522.85 110.95,528.48 100.40,528.48 Z" fill="#b0780c" fill-opacity="0.45"/><path d="M100.40,528.48 C110.95,528.48 110.95,528.48 121.50,528.48 L121.50,530.00 C110.95,530.00 110.95,530.00 100.40,530.00 Z" fill="#b0780c" fill-opacity="0.45"/><rect x="58.10" y="421.60" width="10.70" height="33.39" fill="#277a0b" stroke="#1f3d10" stroke-opacity="0.35" stroke-width="0.3"/><rect x="58.10" y="454.99" width="10.70" height="47.26" fill="#c7b300" stroke="#1f3d10" stroke-opacity="0.35" stroke-width="0.3"/><rect x="58.10" y="502.25" width="10.70" height="27.75" fill="#b0780c" stroke="#1f3d10" stroke-opacity="0.35" stroke-width="0.3"/><rect x="89.70" y="421.60" width="10.70" height="38.16" fill="#277a0b" stroke="#1f3d10" stroke-opacity="0.35" stroke-width="0.3"/><rect x="89.70" y="459.76" width="10.70" height="65.04" fill="#c7b300" stroke="#1f3d10" stroke-opacity="0.35" stroke-width="0.3"/><rect x="89.70" y="524.80" width="10.70" height="5.20" fill="#b0780c" stroke="#1f3d10" stroke-opacity="0.35" stroke-width="0.3"/><rect x="121.50" y="421.60" width="10.70" height="45.85" fill="#277a0b" stroke="#1f3d10" stroke-opacity="0.35" stroke-width="0.3"/><rect x="121.50" y="467.45" width="10.70" height="55.39" fill="#c7b300" stroke="#1f3d10" stroke-opacity="0.35" stroke-width="0.3"/><rect x="121.50" y="522.85" width="10.70" height="7.15" fill="#7d0a0a" stroke="#1f3d10" stroke-opacity="0.35" stroke-width="0.3"/><path d="M183.10,421.60 C193.55,421.60 193.55,421.60 204.00,421.60 L204.00,497.40 C193.55,497.40 193.55,497.40 183.10,497.40 Z" fill="#277a0b" fill-opacity="0.45"/><path d="M183.10,497.40 C193.55,497.40 193.55,503.44 204.00,503.44 L204.00,511.12 C193.55,511.12 193.55,505.07 183.10,505.07 Z" fill="#277a0b" fill-opacity="0.45"/><path d="M183.10,505.18 C193.55,505.18 193.55,497.40 204.00,497.40 L204.00,501.79 C193.55,501.79 193.55,509.57 183.10,509.57 Z" fill="#c7b300" fill-opacity="0.45"/><path d="M183.10,509.57 C193.55,509.57 193.55,511.12 204.00,511.12 L204.00,517.79 C193.55,517.79 193.55,516.24 183.10,516.24 Z" fill="#c7b300" fill-opacity="0.45"/><path d="M183.10,516.24 C193.55,516.24 193.55,527.45 204.00,527.45 L204.00,527.56 C193.55,527.56 193.55,516.35 183.10,516.35 Z" fill="#c7b300" fill-opacity="0.45"/><path d="M183.10,516.35 C193.55,516.35 193.55,528.75 204.00,528.75 L204.00,528.85 C193.55,528.85 193.55,516.45 183.10,516.45 Z" fill="#c7b300" fill-opacity="0.45"/><path d="M183.10,516.45 C193.55,516.45 193.55,501.79 204.00,501.79 L204.00,503.44 C193.55,503.44 193.55,518.10 183.10,518.10 Z" fill="#b0780c" fill-opacity="0.45"/><path d="M183.10,518.10 C193.55,518.10 193.55,517.79 204.00,517.79 L204.00,527.27 C193.55,527.27 193.55,527.58 183.10,527.58 Z" fill="#b0780c" fill-opacity="0.45"/><path d="M183.10,527.58 C193.55,527.58 193.55,527.56 204.00,527.56 L204.00,528.64 C193.55,528.64 193.55,528.66 183.10,528.66 Z" fill="#b0780c" fill-opacity="0.45"/><path d="M183.10,528.66 C193.55,528.66 193.55,528.85 204.00,528.85 L204.00,529.54 C193.55,529.54 193.55,529.35 183.10,529.35 Z" fill="#b0780c" fill-opacity="0.45"/><path d="M183.10,529.35 C193.55,529.35 193.55,527.27 204.00,527.27 L204.00,527.40 C193.55,527.40 193.55,529.48 183.10,529.48 Z" fill="#7d0a0a" fill-opacity="0.45"/><path d="M183.10,529.48 C193.55,529.48 193.55,528.64 204.00,528.64 L204.00,528.70 C193.55,528.70 193.55,529.54 183.10,529.54 Z" fill="#7d0a0a" fill-opacity="0.45"/><path d="M183.10,529.54 C193.55,529.54 193.55,529.54 204.00,529.54 L204.00,530.00 C193.55,530.00 193.55,530.00 183.10,530.00 Z" fill="#7d0a0a" fill-opacity="0.45"/><path d="M214.70,421.60 C225.05,421.60 225.05,421.60 235.40,421.60 L235.40,496.40 C225.05,496.40 225.05,496.40 214.70,496.40 Z" fill="#277a0b" fill-opacity="0.45"/><path d="M214.70,496.40 C225.05,496.40 225.05,510.60 235.40,510.60 L235.40,513.85 C225.05,513.85 225.05,499.65 214.70,499.65 Z" fill="#277a0b" fill-opacity="0.45"/><path d="M214.70,499.65 C225.05,499.65 225.05,520.35 235.40,520.35 L235.40,520.89 C225.05,520.89 225.05,500.19 214.70,500.19 Z" fill="#277a0b" fill-opacity="0.45"/><path d="M214.70,500.19 C225.05,500.19 225.05,521.98 235.40,521.98 L235.40,525.23 C225.05,525.23 225.05,503.44 214.70,503.44 Z" fill="#277a0b" fill-opacity="0.45"/><path d="M214.70,503.44 C225.05,503.44 225.05,496.40 235.40,496.40 L235.40,510.49 C225.05,510.49 225.05,517.53 214.70,517.53 Z" fill="#c7b300" fill-opacity="0.45"/><path d="M214.70,517.53 C225.05,517.53 225.05,513.85 235.40,513.85 L235.40,519.81 C225.05,519.81 225.05,523.50 214.70,523.50 Z" fill="#c7b300" fill-opacity="0.45"/><path d="M214.70,523.50 C225.05,523.50 225.05,520.89 235.40,520.89 L235.40,521.76 C225.05,521.76 225.05,524.36 214.70,524.36 Z" fill="#c7b300" fill-opacity="0.45"/><path d="M214.70,524.36 C225.05,524.36 225.05,525.23 235.40,525.23 L235.40,528.27 C225.05,528.27 225.05,527.40 214.70,527.40 Z" fill="#c7b300" fill-opacity="0.45"/><path d="M214.70,527.40 C225.05,527.40 225.05,510.49 235.40,510.49 L235.40,510.54 C225.05,510.54 225.05,527.45 214.70,527.45 Z" fill="#b0780c" fill-opacity="0.45"/><path d="M214.70,527.45 C225.05,527.45 225.05,519.81 235.40,519.81 L235.40,520.14 C225.05,520.14 225.05,527.78 214.70,527.78 Z" fill="#b0780c" fill-opacity="0.45"/><path d="M214.70,527.78 C225.05,527.78 225.05,521.76 235.40,521.76 L235.40,521.92 C225.05,521.92 225.05,527.94 214.70,527.94 Z" fill="#b0780c" fill-opacity="0.45"/><path d="M214.70,527.94 C225.05,527.94 225.05,528.27 235.40,528.27 L235.40,529.02 C225.05,529.02 225.05,528.70 214.70,528.70 Z" fill="#b0780c" fill-opacity="0.45"/><path d="M214.70,528.75 C225.05,528.75 225.05,520.14 235.40,520.14 L235.40,520.35 C225.05,520.35 225.05,528.97 214.70,528.97 Z" fill="#7d0a0a" fill-opacity="0.45"/><path d="M214.70,529.02 C225.05,529.02 225.05,529.02 235.40,529.02 L235.40,530.00 C225.05,530.00 225.05,530.00 214.70,530.00 Z" fill="#7d0a0a" fill-opacity="0.45"/><rect x="172.40" y="421.60" width="10.70" height="83.58" fill="#277a0b" stroke="#1f3d10" stroke-opacity="0.35" stroke-width="0.3"/><rect x="172.40" y="505.18" width="10.70" height="11.27" fill="#c7b300" stroke="#1f3d10" stroke-opacity="0.35" stroke-width="0.3"/><rect x="172.40" y="516.45" width="10.70" height="12.90" fill="#b0780c" stroke="#1f3d10" stroke-opacity="0.35" stroke-width="0.3"/><rect x="172.40" y="529.35" width="10.70" height="0.65" fill="#7d0a0a" stroke="#1f3d10" stroke-opacity="0.35" stroke-width="0.3"/><rect x="204.00" y="421.60" width="10.70" height="81.84" fill="#277a0b" stroke="#1f3d10" stroke-opacity="0.35" stroke-width="0.3"/><rect x="204.00" y="503.44" width="10.70" height="23.96" fill="#c7b300" stroke="#1f3d10" stroke-opacity="0.35" stroke-width="0.3"/><rect x="204.00" y="527.40" width="10.70" height="1.30" fill="#b0780c" stroke="#1f3d10" stroke-opacity="0.35" stroke-width="0.3"/><rect x="204.00" y="528.70" width="10.70" height="1.30" fill="#7d0a0a" stroke="#1f3d10" stroke-opacity="0.35" stroke-width="0.3"/><rect x="235.40" y="421.60" width="10.70" height="89.00" fill="#277a0b" stroke="#1f3d10" stroke-opacity="0.35" stroke-width="0.3"/><rect x="235.40" y="510.60" width="10.70" height="9.76" fill="#c7b300" stroke="#1f3d10" stroke-opacity="0.35" stroke-width="0.3"/><rect x="235.40" y="520.35" width="10.70" height="1.63" fill="#b0780c" stroke="#1f3d10" stroke-opacity="0.35" stroke-width="0.3"/><rect x="235.40" y="521.98" width="10.70" height="8.02" fill="#7d0a0a" stroke="#1f3d10" stroke-opacity="0.35" stroke-width="0.3"/><rect x="44.70" y="403.30" width="100.90" height="13.00" fill="#d9d9d9" stroke="#4d4d4d" stroke-width="0.55"/><rect x="44.70" y="416.30" width="100.90" height="119.00" fill="none" stroke="#4d4d4d" stroke-width="0.55"/><text x="95.15" y="412.30" font-size="6.9" text-anchor="middle" font-weight="bold" fill="#1a1a1a" >Waidhofen</text><rect x="159.60" y="403.30" width="100.40" height="13.00" fill="#d9d9d9" stroke="#4d4d4d" stroke-width="0.55"/><rect x="159.60" y="416.30" width="100.40" height="119.00" fill="none" stroke="#4d4d4d" stroke-width="0.55"/><text x="209.80" y="412.30" font-size="6.9" text-anchor="middle" font-weight="bold" fill="#1a1a1a" >Paldau</text><line x1="63.45" y1="535.30" x2="63.45" y2="537.20" stroke="#333333" stroke-width="0.5" /><text x="63.45" y="543.70" font-size="5.6" text-anchor="middle" font-weight="normal" fill="#2b2b2b" >1820</text><line x1="95.05" y1="535.30" x2="95.05" y2="537.20" stroke="#333333" stroke-width="0.5" /><text x="95.05" y="543.70" font-size="5.6" text-anchor="middle" font-weight="normal" fill="#2b2b2b" >1960</text><line x1="126.85" y1="535.30" x2="126.85" y2="537.20" stroke="#333333" stroke-width="0.5" /><text x="126.85" y="543.70" font-size="5.6" text-anchor="middle" font-weight="normal" fill="#2b2b2b" >2015</text><line x1="177.75" y1="535.30" x2="177.75" y2="537.20" stroke="#333333" stroke-width="0.5" /><text x="177.75" y="543.70" font-size="5.6" text-anchor="middle" font-weight="normal" fill="#2b2b2b" >1820</text><line x1="209.35" y1="535.30" x2="209.35" y2="537.20" stroke="#333333" stroke-width="0.5" /><text x="209.35" y="543.70" font-size="5.6" text-anchor="middle" font-weight="normal" fill="#2b2b2b" >1960</text><line x1="240.75" y1="535.30" x2="240.75" y2="537.20" stroke="#333333" stroke-width="0.5" /><text x="240.75" y="543.70" font-size="5.6" text-anchor="middle" font-weight="normal" fill="#2b2b2b" >2015</text><line x1="42.80" y1="530.00" x2="44.70" y2="530.00" stroke="#333333" stroke-width="0.5" /><text x="41.40" y="532.00" font-size="5.6" text-anchor="end" font-weight="normal" fill="#2b2b2b" >0</text><line x1="42.80" y1="502.90" x2="44.70" y2="502.90" stroke="#333333" stroke-width="0.5" /><text x="41.40" y="504.90" font-size="5.6" text-anchor="end" font-weight="normal" fill="#2b2b2b" >25</text><line x1="42.80" y1="475.80" x2="44.70" y2="475.80" stroke="#333333" stroke-width="0.5" /><text x="41.40" y="477.80" font-size="5.6" text-anchor="end" font-weight="normal" fill="#2b2b2b" >50</text><line x1="42.80" y1="448.70" x2="44.70" y2="448.70" stroke="#333333" stroke-width="0.5" /><text x="41.40" y="450.70" font-size="5.6" text-anchor="end" font-weight="normal" fill="#2b2b2b" >75</text><line x1="42.80" y1="421.60" x2="44.70" y2="421.60" stroke="#333333" stroke-width="0.5" /><text x="41.40" y="423.60" font-size="5.6" text-anchor="end" font-weight="normal" fill="#2b2b2b" >100</text><text transform="translate(28.30,475.80) rotate(-90)" font-size="7.1" font-weight="bold" text-anchor="middle" fill="#111">Landslide distribution [%]</text><rect x="4.80" y="400.40" width="11.60" height="15.20" fill="#ffffff" stroke="#000" stroke-width="1"/><text transform="translate(10.60,412.50) scale(0.93,1)" font-size="12.4" font-weight="bold" text-anchor="middle" fill="#000">C</text><rect x="349.50" y="416.30" width="82.90" height="68.70" fill="#ffffff" /><line x1="360.75" y1="416.30" x2="360.75" y2="485.00" stroke="#ebebeb" stroke-width="0.3" /><line x1="375.65" y1="416.30" x2="375.65" y2="485.00" stroke="#ebebeb" stroke-width="0.3" /><line x1="390.55" y1="416.30" x2="390.55" y2="485.00" stroke="#ebebeb" stroke-width="0.3" /><line x1="405.45" y1="416.30" x2="405.45" y2="485.00" stroke="#ebebeb" stroke-width="0.3" /><line x1="420.35" y1="416.30" x2="420.35" y2="485.00" stroke="#ebebeb" stroke-width="0.3" /><line x1="349.50" y1="426.20" x2="432.40" y2="426.20" stroke="#ebebeb" stroke-width="0.6" /><line x1="349.50" y1="443.40" x2="432.40" y2="443.40" stroke="#ebebeb" stroke-width="0.6" /><line x1="349.50" y1="460.50" x2="432.40" y2="460.50" stroke="#ebebeb" stroke-width="0.6" /><line x1="349.50" y1="477.30" x2="432.40" y2="477.30" stroke="#ebebeb" stroke-width="0.6" /><line x1="353.30" y1="416.30" x2="353.30" y2="485.00" stroke="#ebebeb" stroke-width="0.6" /><line x1="368.20" y1="416.30" x2="368.20" y2="485.00" stroke="#ebebeb" stroke-width="0.6" /><line x1="383.10" y1="416.30" x2="383.10" y2="485.00" stroke="#ebebeb" stroke-width="0.6" /><line x1="398.00" y1="416.30" x2="398.00" y2="485.00" stroke="#ebebeb" stroke-width="0.6" /><line x1="412.90" y1="416.30" x2="412.90" y2="485.00" stroke="#ebebeb" stroke-width="0.6" /><line x1="427.80" y1="416.30" x2="427.80" y2="485.00" stroke="#ebebeb" stroke-width="0.6" /><rect x="446.70" y="416.30" width="83.30" height="68.70" fill="#ffffff" /><line x1="458.00" y1="416.30" x2="458.00" y2="485.00" stroke="#ebebeb" stroke-width="0.3" /><line x1="473.20" y1="416.30" x2="473.20" y2="485.00" stroke="#ebebeb" stroke-width="0.3" /><line x1="488.40" y1="416.30" x2="488.40" y2="485.00" stroke="#ebebeb" stroke-width="0.3" /><line x1="503.60" y1="416.30" x2="503.60" y2="485.00" stroke="#ebebeb" stroke-width="0.3" /><line x1="518.80" y1="416.30" x2="518.80" y2="485.00" stroke="#ebebeb" stroke-width="0.3" /><line x1="446.70" y1="426.20" x2="530.00" y2="426.20" stroke="#ebebeb" stroke-width="0.6" /><line x1="446.70" y1="443.40" x2="530.00" y2="443.40" stroke="#ebebeb" stroke-width="0.6" /><line x1="446.70" y1="460.50" x2="530.00" y2="460.50" stroke="#ebebeb" stroke-width="0.6" /><line x1="446.70" y1="477.30" x2="530.00" y2="477.30" stroke="#ebebeb" stroke-width="0.6" /><line x1="450.40" y1="416.30" x2="450.40" y2="485.00" stroke="#ebebeb" stroke-width="0.6" /><line x1="465.60" y1="416.30" x2="465.60" y2="485.00" stroke="#ebebeb" stroke-width="0.6" /><line x1="480.80" y1="416.30" x2="480.80" y2="485.00" stroke="#ebebeb" stroke-width="0.6" /><line x1="496.00" y1="416.30" x2="496.00" y2="485.00" stroke="#ebebeb" stroke-width="0.6" /><line x1="511.20" y1="416.30" x2="511.20" y2="485.00" stroke="#ebebeb" stroke-width="0.6" /><line x1="526.40" y1="416.30" x2="526.40" y2="485.00" stroke="#ebebeb" stroke-width="0.6" /><rect x="353.30" y="420.90" width="17.88" height="10.60" fill="#7d0a0a" /><rect x="353.30" y="438.10" width="8.94" height="10.60" fill="#b0780c" /><rect x="353.30" y="455.20" width="34.57" height="10.60" fill="#c7b300" /><rect x="353.30" y="472.00" width="29.50" height="10.60" fill="#277a0b" /><line x1="383.10" y1="416.30" x2="383.10" y2="485.00" stroke="#000" stroke-width="0.8" stroke-dasharray="3.2,3.2"/><rect x="450.40" y="420.90" width="12.16" height="10.60" fill="#7d0a0a" /><rect x="450.40" y="438.10" width="1.52" height="10.60" fill="#b0780c" /><rect x="450.40" y="455.20" width="23.71" height="10.60" fill="#c7b300" /><rect x="450.40" y="472.00" width="74.78" height="10.60" fill="#277a0b" /><line x1="480.80" y1="416.30" x2="480.80" y2="485.00" stroke="#000" stroke-width="0.8" stroke-dasharray="3.2,3.2"/><rect x="349.50" y="403.30" width="82.90" height="13.00" fill="#d9d9d9" stroke="#4d4d4d" stroke-width="0.55"/><rect x="349.50" y="416.30" width="82.90" height="68.70" fill="none" stroke="#4d4d4d" stroke-width="0.55"/><text x="390.95" y="412.30" font-size="6.9" text-anchor="middle" font-weight="bold" fill="#1a1a1a" >Waidhofen</text><rect x="446.70" y="403.30" width="83.30" height="13.00" fill="#d9d9d9" stroke="#4d4d4d" stroke-width="0.55"/><rect x="446.70" y="416.30" width="83.30" height="68.70" fill="none" stroke="#4d4d4d" stroke-width="0.55"/><text x="488.35" y="412.30" font-size="6.9" text-anchor="middle" font-weight="bold" fill="#1a1a1a" >Paldau</text><line x1="353.30" y1="485.00" x2="353.30" y2="486.90" stroke="#333333" stroke-width="0.5" /><text x="353.30" y="494.60" font-size="5.6" text-anchor="middle" font-weight="normal" fill="#2b2b2b" >0.0</text><line x1="368.20" y1="485.00" x2="368.20" y2="486.90" stroke="#333333" stroke-width="0.5" /><text x="368.20" y="494.60" font-size="5.6" text-anchor="middle" font-weight="normal" fill="#2b2b2b" >0.5</text><line x1="383.10" y1="485.00" x2="383.10" y2="486.90" stroke="#333333" stroke-width="0.5" /><text x="383.10" y="494.60" font-size="5.6" text-anchor="middle" font-weight="normal" fill="#2b2b2b" >1.0</text><line x1="398.00" y1="485.00" x2="398.00" y2="486.90" stroke="#333333" stroke-width="0.5" /><text x="398.00" y="494.60" font-size="5.6" text-anchor="middle" font-weight="normal" fill="#2b2b2b" >1.5</text><line x1="412.90" y1="485.00" x2="412.90" y2="486.90" stroke="#333333" stroke-width="0.5" /><text x="412.90" y="494.60" font-size="5.6" text-anchor="middle" font-weight="normal" fill="#2b2b2b" >2.0</text><line x1="427.80" y1="485.00" x2="427.80" y2="486.90" stroke="#333333" stroke-width="0.5" /><text x="427.80" y="494.60" font-size="5.6" text-anchor="middle" font-weight="normal" fill="#2b2b2b" >2.5</text><line x1="450.40" y1="485.00" x2="450.40" y2="486.90" stroke="#333333" stroke-width="0.5" /><text x="450.40" y="494.60" font-size="5.6" text-anchor="middle" font-weight="normal" fill="#2b2b2b" >0.0</text><line x1="465.60" y1="485.00" x2="465.60" y2="486.90" stroke="#333333" stroke-width="0.5" /><text x="465.60" y="494.60" font-size="5.6" text-anchor="middle" font-weight="normal" fill="#2b2b2b" >0.5</text><line x1="480.80" y1="485.00" x2="480.80" y2="486.90" stroke="#333333" stroke-width="0.5" /><text x="480.80" y="494.60" font-size="5.6" text-anchor="middle" font-weight="normal" fill="#2b2b2b" >1.0</text><line x1="496.00" y1="485.00" x2="496.00" y2="486.90" stroke="#333333" stroke-width="0.5" /><text x="496.00" y="494.60" font-size="5.6" text-anchor="middle" font-weight="normal" fill="#2b2b2b" >1.5</text><line x1="511.20" y1="485.00" x2="511.20" y2="486.90" stroke="#333333" stroke-width="0.5" /><text x="511.20" y="494.60" font-size="5.6" text-anchor="middle" font-weight="normal" fill="#2b2b2b" >2.0</text><line x1="526.40" y1="485.00" x2="526.40" y2="486.90" stroke="#333333" stroke-width="0.5" /><text x="526.40" y="494.60" font-size="5.6" text-anchor="middle" font-weight="normal" fill="#2b2b2b" >2.5</text><line x1="347.60" y1="426.20" x2="349.50" y2="426.20" stroke="#333333" stroke-width="0.5" /><text x="346.00" y="428.20" font-size="5.75" text-anchor="end" font-weight="normal" fill="#2b2b2b" >Settlement and other</text><line x1="347.60" y1="443.40" x2="349.50" y2="443.40" stroke="#333333" stroke-width="0.5" /><text x="346.00" y="445.40" font-size="5.75" text-anchor="end" font-weight="normal" fill="#2b2b2b" >Cropland</text><line x1="347.60" y1="460.50" x2="349.50" y2="460.50" stroke="#333333" stroke-width="0.5" /><text x="346.00" y="462.50" font-size="5.75" text-anchor="end" font-weight="normal" fill="#2b2b2b" >Grassland</text><line x1="347.60" y1="477.30" x2="349.50" y2="477.30" stroke="#333333" stroke-width="0.5" /><text x="346.00" y="479.30" font-size="5.75" text-anchor="end" font-weight="normal" fill="#2b2b2b" >Forest</text><text transform="translate(288.60,451.50) rotate(-90)" font-size="7.1" font-weight="bold" text-anchor="middle" fill="#111">LULC 2015</text><text x="349.50" y="517.20" font-size="7.1" text-anchor="start" font-weight="bold" fill="#111" textLength="55.2" lengthAdjust="spacingAndGlyphs">Frequency ratio,</text><text x="407.00" y="510.70" font-size="7.1" text-anchor="start" font-weight="normal" fill="#111" textLength="122.2" lengthAdjust="spacingAndGlyphs">percentage of landslides in LULC class</text><line x1="406.00" y1="514.40" x2="530.20" y2="514.40" stroke="#111" stroke-width="0.6" /><text x="407.00" y="522.40" font-size="7.1" text-anchor="start" font-weight="normal" fill="#111" textLength="122.5" lengthAdjust="spacingAndGlyphs">percentage of LULC class in study area</text><rect x="312.10" y="535.30" width="10.60" height="10.50" fill="#277a0b" stroke="#333" stroke-width="0.4"/><text x="327.00" y="543.20" font-size="7.1" text-anchor="start" font-weight="normal" fill="#111" >Forest</text><rect x="350.30" y="535.30" width="10.60" height="10.50" fill="#c7b300" stroke="#333" stroke-width="0.4"/><text x="365.00" y="543.20" font-size="7.1" text-anchor="start" font-weight="normal" fill="#111" >Grassland</text><rect x="400.00" y="535.30" width="10.60" height="10.50" fill="#b0780c" stroke="#333" stroke-width="0.4"/><text x="415.00" y="543.20" font-size="7.1" text-anchor="start" font-weight="normal" fill="#111" >Cropland</text><rect x="447.70" y="535.30" width="10.60" height="10.50" fill="#7d0a0a" stroke="#333" stroke-width="0.4"/><text x="461.70" y="543.20" font-size="7.1" text-anchor="start" font-weight="normal" fill="#111" >Settlement and other</text>
</svg>
</body></html>
